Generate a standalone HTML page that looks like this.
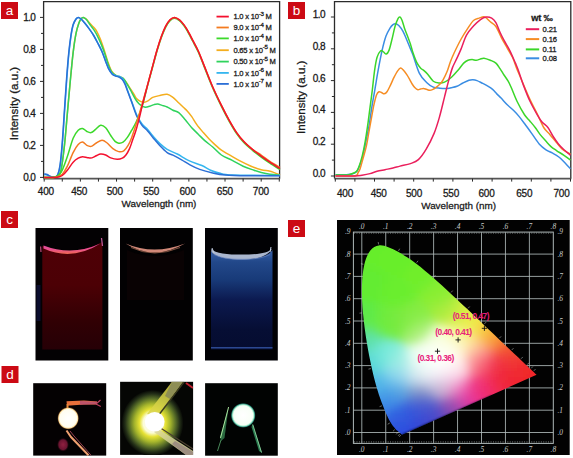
<!DOCTYPE html>
<html><head><meta charset="utf-8"><style>
html,body{margin:0;padding:0;background:#fff;width:573px;height:458px;overflow:hidden}
svg{display:block}

</style></head><body>
<svg width="573" height="458" viewBox="0 0 573 458" style="position:absolute;left:0;top:0" font-family='"Liberation Sans", sans-serif'>
<rect width="573" height="458" fill="#fff"/>
<style>.ct text{stroke:#1a1a1a;stroke-width:0.28px}</style>
<rect x="1" y="2" width="17" height="17" fill="#cc0a14"/>
<text x="9.5" y="15" font-size="13.5" fill="#fff" text-anchor="middle">a</text>
<rect x="288" y="2" width="17" height="17" fill="#cc0a14"/>
<text x="296.5" y="15" font-size="13.5" fill="#fff" text-anchor="middle">b</text>
<rect x="1" y="211" width="17" height="17" fill="#cc0a14"/>
<text x="9.5" y="224" font-size="13.5" fill="#fff" text-anchor="middle">c</text>
<rect x="1.5" y="366" width="17" height="17" fill="#cc0a14"/>
<text x="10.0" y="379" font-size="13.5" fill="#fff" text-anchor="middle">d</text>
<rect x="288" y="220" width="17" height="17" fill="#cc0a14"/>
<text x="296.5" y="233" font-size="13.5" fill="#fff" text-anchor="middle">e</text>
<g class="ct">
<path d="M43.6,178.6 V1.6 H279.6 V178.6" fill="none" stroke="#2b2b2b" stroke-width="1.3"/>
<line x1="43.5" y1="178.6" x2="280.1" y2="178.6" stroke="#555" stroke-width="1.8"/>
<line x1="40" y1="177.4" x2="44" y2="177.4" stroke="#2b2b2b" stroke-width="1"/>
<text x="35.4" y="181.0" font-size="10" fill="#1a1a1a" text-anchor="end" letter-spacing="-0.55">0.0</text>
<line x1="41" y1="161.4" x2="44" y2="161.4" stroke="#2b2b2b" stroke-width="1"/>
<line x1="40" y1="145.4" x2="44" y2="145.4" stroke="#2b2b2b" stroke-width="1"/>
<text x="35.4" y="149.0" font-size="10" fill="#1a1a1a" text-anchor="end" letter-spacing="-0.55">0.2</text>
<line x1="41" y1="129.4" x2="44" y2="129.4" stroke="#2b2b2b" stroke-width="1"/>
<line x1="40" y1="113.4" x2="44" y2="113.4" stroke="#2b2b2b" stroke-width="1"/>
<text x="35.4" y="117.0" font-size="10" fill="#1a1a1a" text-anchor="end" letter-spacing="-0.55">0.4</text>
<line x1="41" y1="97.4" x2="44" y2="97.4" stroke="#2b2b2b" stroke-width="1"/>
<line x1="40" y1="81.4" x2="44" y2="81.4" stroke="#2b2b2b" stroke-width="1"/>
<text x="35.4" y="85.0" font-size="10" fill="#1a1a1a" text-anchor="end" letter-spacing="-0.55">0.6</text>
<line x1="41" y1="65.4" x2="44" y2="65.4" stroke="#2b2b2b" stroke-width="1"/>
<line x1="40" y1="49.4" x2="44" y2="49.4" stroke="#2b2b2b" stroke-width="1"/>
<text x="35.4" y="53.0" font-size="10" fill="#1a1a1a" text-anchor="end" letter-spacing="-0.55">0.8</text>
<line x1="41" y1="33.4" x2="44" y2="33.4" stroke="#2b2b2b" stroke-width="1"/>
<line x1="40" y1="17.4" x2="44" y2="17.4" stroke="#2b2b2b" stroke-width="1"/>
<text x="35.4" y="21.0" font-size="10" fill="#1a1a1a" text-anchor="end" letter-spacing="-0.55">1.0</text>
<line x1="44.2" y1="178.6" x2="44.2" y2="181.6" stroke="#2b2b2b" stroke-width="1"/>
<line x1="62.28" y1="178.6" x2="62.28" y2="181.6" stroke="#2b2b2b" stroke-width="1"/>
<line x1="80.37" y1="178.6" x2="80.37" y2="181.6" stroke="#2b2b2b" stroke-width="1"/>
<line x1="98.45" y1="178.6" x2="98.45" y2="181.6" stroke="#2b2b2b" stroke-width="1"/>
<line x1="116.53" y1="178.6" x2="116.53" y2="181.6" stroke="#2b2b2b" stroke-width="1"/>
<line x1="134.61" y1="178.6" x2="134.61" y2="181.6" stroke="#2b2b2b" stroke-width="1"/>
<line x1="152.69" y1="178.6" x2="152.69" y2="181.6" stroke="#2b2b2b" stroke-width="1"/>
<line x1="170.78" y1="178.6" x2="170.78" y2="181.6" stroke="#2b2b2b" stroke-width="1"/>
<line x1="188.86" y1="178.6" x2="188.86" y2="181.6" stroke="#2b2b2b" stroke-width="1"/>
<line x1="206.94" y1="178.6" x2="206.94" y2="181.6" stroke="#2b2b2b" stroke-width="1"/>
<line x1="225.03" y1="178.6" x2="225.03" y2="181.6" stroke="#2b2b2b" stroke-width="1"/>
<line x1="243.11" y1="178.6" x2="243.11" y2="181.6" stroke="#2b2b2b" stroke-width="1"/>
<line x1="261.19" y1="178.6" x2="261.19" y2="181.6" stroke="#2b2b2b" stroke-width="1"/>
<line x1="279.27" y1="178.6" x2="279.27" y2="181.6" stroke="#2b2b2b" stroke-width="1"/>
<text x="45.9" y="194.79999999999998" font-size="10" fill="#1a1a1a" text-anchor="middle" letter-spacing="-0.2">400</text>
<text x="79.2" y="194.79999999999998" font-size="10" fill="#1a1a1a" text-anchor="middle" letter-spacing="-0.2">450</text>
<text x="114.8" y="194.79999999999998" font-size="10" fill="#1a1a1a" text-anchor="middle" letter-spacing="-0.2">500</text>
<text x="151.2" y="194.79999999999998" font-size="10" fill="#1a1a1a" text-anchor="middle" letter-spacing="-0.2">550</text>
<text x="187.5" y="194.79999999999998" font-size="10" fill="#1a1a1a" text-anchor="middle" letter-spacing="-0.2">600</text>
<text x="224.9" y="194.79999999999998" font-size="10" fill="#1a1a1a" text-anchor="middle" letter-spacing="-0.2">650</text>
<text x="260.9" y="194.79999999999998" font-size="10" fill="#1a1a1a" text-anchor="middle" letter-spacing="-0.2">700</text>
<text transform="translate(17.7,103.5) rotate(-90)" x="0" y="0" font-size="11.6" fill="#1a1a1a" text-anchor="middle">Intensity (a.u.)</text>
<text x="159" y="207.1" font-size="9.9" fill="#1a1a1a" text-anchor="middle">Wavelength (nm)</text>
<path d="M44.20,177.40C45.65,177.40 50.71,177.53 52.88,177.40C55.05,177.27 55.89,177.67 57.22,176.60C58.55,175.53 59.63,176.20 60.84,171.00C62.04,165.80 63.37,155.00 64.45,145.40C65.54,135.80 66.38,124.07 67.35,113.40C68.31,102.73 69.27,91.53 70.24,81.40C71.20,71.27 72.17,60.60 73.13,52.60C74.10,44.60 75.06,38.33 76.03,33.40C76.99,28.47 78.07,25.45 78.92,23.00C79.76,20.55 80.37,19.61 81.09,18.68C81.81,17.75 82.41,17.35 83.26,17.40C84.10,17.45 84.95,17.88 86.15,19.00C87.36,20.12 89.17,22.65 90.49,24.12C91.82,25.59 93.02,26.52 94.11,27.80C95.19,29.08 95.92,29.80 97.00,31.80C98.09,33.80 99.41,36.73 100.62,39.80C101.82,42.87 103.03,46.52 104.23,50.20C105.44,53.88 106.64,58.41 107.85,61.88C109.06,65.35 110.14,68.76 111.47,71.00C112.79,73.24 114.36,74.33 115.81,75.32C117.25,76.31 118.94,76.44 120.15,76.92C121.35,77.40 121.95,77.19 123.04,78.20C124.12,79.21 125.45,81.27 126.66,83.00C127.86,84.73 129.07,86.73 130.27,88.60C131.48,90.47 132.80,92.49 133.89,94.20C134.97,95.91 135.70,97.64 136.78,98.84C137.87,100.04 139.19,100.81 140.40,101.40C141.60,101.99 142.69,102.49 144.02,102.36C145.34,102.23 146.91,101.43 148.36,100.60C149.80,99.77 150.77,98.25 152.69,97.40C154.62,96.55 157.52,95.99 159.93,95.48C162.34,94.97 164.99,94.04 167.16,94.36C169.33,94.68 171.14,96.09 172.95,97.40C174.76,98.71 176.32,100.60 178.01,102.20C179.70,103.80 181.51,105.51 183.07,107.00C184.64,108.49 185.97,109.56 187.41,111.16C188.86,112.76 190.19,114.36 191.75,116.60C193.32,118.84 194.89,121.93 196.82,124.60C198.75,127.27 201.28,130.20 203.33,132.60C205.38,135.00 207.18,137.00 209.11,139.00C211.04,141.00 212.85,142.73 214.90,144.60C216.95,146.47 218.64,148.28 221.41,150.20C224.18,152.12 228.28,154.25 231.53,156.12C234.79,157.99 237.68,159.72 240.94,161.40C244.19,163.08 247.69,164.81 251.06,166.20C254.44,167.59 258.18,168.92 261.19,169.72C264.20,170.52 266.98,170.52 269.15,171.00C271.32,171.48 272.40,171.93 274.21,172.60C276.02,173.27 279.03,174.60 280.00,175.00" fill="none" stroke="#f4ae1e" stroke-width="1.5" stroke-linejoin="round"/>
<path d="M44.20,177.40C45.65,177.40 50.71,177.53 52.88,177.40C55.05,177.27 55.89,177.67 57.22,176.60C58.55,175.53 59.63,176.20 60.84,171.00C62.04,165.80 63.37,155.00 64.45,145.40C65.54,135.80 66.38,124.07 67.35,113.40C68.31,102.73 69.27,91.53 70.24,81.40C71.20,71.27 72.17,60.60 73.13,52.60C74.10,44.60 75.06,38.33 76.03,33.40C76.99,28.47 78.07,25.45 78.92,23.00C79.76,20.55 80.37,19.61 81.09,18.68C81.81,17.75 82.41,17.29 83.26,17.40C84.10,17.51 84.95,17.99 86.15,19.32C87.36,20.65 89.17,23.59 90.49,25.40C91.82,27.21 92.90,28.33 94.11,30.20C95.31,32.07 96.52,34.20 97.72,36.60C98.93,39.00 100.14,41.67 101.34,44.60C102.55,47.53 103.75,50.73 104.96,54.20C106.16,57.67 107.37,62.33 108.57,65.40C109.78,68.47 110.86,70.87 112.19,72.60C113.52,74.33 115.08,75.00 116.53,75.80C117.98,76.60 119.66,76.87 120.87,77.40C122.08,77.93 122.68,77.80 123.76,79.00C124.85,80.20 126.17,82.60 127.38,84.60C128.59,86.60 129.67,88.60 131.00,91.00C132.32,93.40 134.01,96.87 135.34,99.00C136.66,101.13 137.75,102.60 138.95,103.80C140.16,105.00 141.48,105.64 142.57,106.20C143.65,106.76 144.26,107.16 145.46,107.16C146.67,107.16 148.36,106.63 149.80,106.20C151.25,105.77 152.82,104.95 154.14,104.60C155.47,104.25 156.43,103.99 157.76,104.12C159.08,104.25 160.53,104.92 162.10,105.40C163.67,105.88 165.35,106.20 167.16,107.00C168.97,107.80 171.02,109.27 172.95,110.20C174.88,111.13 176.68,111.00 178.73,112.60C180.78,114.20 183.07,117.27 185.24,119.80C187.41,122.33 189.58,125.40 191.75,127.80C193.92,130.20 196.09,132.07 198.26,134.20C200.43,136.33 202.36,138.47 204.77,140.60C207.18,142.73 209.96,144.60 212.73,147.00C215.50,149.40 218.15,152.76 221.41,155.00C224.66,157.24 228.64,158.57 232.26,160.44C235.87,162.31 239.49,164.57 243.11,166.20C246.72,167.83 250.94,169.16 253.96,170.20C256.97,171.24 258.54,171.77 261.19,172.44C263.84,173.11 266.74,173.77 269.87,174.20C273.00,174.63 278.31,174.87 280.00,175.00" fill="none" stroke="#2fd35c" stroke-width="1.5" stroke-linejoin="round"/>
<path d="M44.20,174.52C44.68,174.60 46.13,174.68 47.09,175.00C48.06,175.32 49.02,176.12 49.99,176.44C50.95,176.76 51.92,176.87 52.88,176.92C53.84,176.97 54.93,177.16 55.77,176.76C56.62,176.36 57.22,176.28 57.94,174.52C58.67,172.76 59.39,171.05 60.11,166.20C60.84,161.35 61.56,154.20 62.28,145.40C63.01,136.60 63.73,124.07 64.45,113.40C65.18,102.73 65.90,91.27 66.62,81.40C67.35,71.53 68.07,61.67 68.79,54.20C69.52,46.73 70.24,41.40 70.96,36.60C71.69,31.80 72.29,28.33 73.13,25.40C73.98,22.47 75.12,20.33 76.03,19.00C76.93,17.67 77.71,17.40 78.56,17.40C79.40,17.40 80.06,18.07 81.09,19.00C82.11,19.93 83.38,21.40 84.70,23.00C86.03,24.60 87.60,26.60 89.04,28.60C90.49,30.60 91.94,32.60 93.38,35.00C94.83,37.40 96.28,40.20 97.72,43.00C99.17,45.80 100.74,48.73 102.06,51.80C103.39,54.87 104.60,58.60 105.68,61.40C106.77,64.20 107.49,66.55 108.57,68.60C109.66,70.65 110.98,72.55 112.19,73.72C113.40,74.89 114.60,75.21 115.81,75.64C117.01,76.07 118.34,75.85 119.42,76.28C120.51,76.71 121.35,76.95 122.32,78.20C123.28,79.45 124.25,81.53 125.21,83.80C126.17,86.07 127.02,88.87 128.10,91.80C129.19,94.73 130.27,97.53 131.72,101.40C133.17,105.27 135.09,111.27 136.78,115.00C138.47,118.73 140.04,121.40 141.85,123.80C143.65,126.20 145.70,127.27 147.63,129.40C149.56,131.53 151.37,134.23 153.42,136.60C155.47,138.97 157.64,141.51 159.93,143.64C162.22,145.77 164.27,147.67 167.16,149.40C170.05,151.13 173.67,152.17 177.29,154.04C180.90,155.91 184.76,158.68 188.86,160.60C192.96,162.52 198.26,163.96 201.88,165.56C205.50,167.16 207.67,168.96 210.56,170.20C213.45,171.44 215.62,172.20 219.24,173.00C222.86,173.80 222.13,174.59 232.26,175.00C242.38,175.41 272.04,175.40 280.00,175.48" fill="none" stroke="#35b6ef" stroke-width="1.5" stroke-linejoin="round"/>
<path d="M44.20,173.88C44.68,173.99 46.13,174.15 47.09,174.52C48.06,174.89 49.02,175.72 49.99,176.12C50.95,176.52 51.92,176.81 52.88,176.92C53.84,177.03 54.93,177.21 55.77,176.76C56.62,176.31 57.22,176.23 57.94,174.20C58.67,172.17 59.39,169.93 60.11,164.60C60.84,159.27 61.56,151.27 62.28,142.20C63.01,133.13 63.73,120.87 64.45,110.20C65.18,99.53 65.90,87.80 66.62,78.20C67.35,68.60 68.07,59.80 68.79,52.60C69.52,45.40 70.24,39.67 70.96,35.00C71.69,30.33 72.29,27.27 73.13,24.60C73.98,21.93 75.18,20.20 76.03,19.00C76.87,17.80 77.35,17.40 78.20,17.40C79.04,17.40 80.00,18.07 81.09,19.00C82.17,19.93 83.38,21.40 84.70,23.00C86.03,24.60 87.60,26.60 89.04,28.60C90.49,30.60 91.94,32.60 93.38,35.00C94.83,37.40 96.28,40.20 97.72,43.00C99.17,45.80 100.74,48.73 102.06,51.80C103.39,54.87 104.60,58.60 105.68,61.40C106.77,64.20 107.49,66.47 108.57,68.60C109.66,70.73 110.98,72.95 112.19,74.20C113.40,75.45 114.60,75.61 115.81,76.12C117.01,76.63 118.34,76.68 119.42,77.24C120.51,77.80 121.35,78.25 122.32,79.48C123.28,80.71 124.25,82.41 125.21,84.60C126.17,86.79 127.02,89.64 128.10,92.60C129.19,95.56 130.27,98.41 131.72,102.36C133.17,106.31 135.09,112.49 136.78,116.28C138.47,120.07 140.04,122.63 141.85,125.08C143.65,127.53 145.70,128.81 147.63,131.00C149.56,133.19 151.37,135.75 153.42,138.20C155.47,140.65 157.64,143.32 159.93,145.72C162.22,148.12 164.99,151.03 167.16,152.60C169.33,154.17 170.54,153.96 172.95,155.16C175.36,156.36 178.85,158.23 181.63,159.80C184.40,161.37 186.57,163.00 189.58,164.60C192.60,166.20 195.85,168.00 199.71,169.40C203.57,170.80 208.51,172.07 212.73,173.00C216.95,173.93 219.36,174.53 225.03,175.00C230.69,175.47 237.56,175.67 246.72,175.80C255.89,175.93 274.45,175.80 280.00,175.80" fill="none" stroke="#2b6fd6" stroke-width="1.5" stroke-linejoin="round"/>
<path d="M44.20,177.40C45.41,177.40 49.62,177.51 51.43,177.40C53.24,177.29 53.84,177.16 55.05,176.76C56.26,176.36 57.46,176.09 58.67,175.00C59.87,173.91 60.84,173.27 62.28,170.20C63.73,167.13 65.54,161.93 67.35,156.60C69.15,151.27 71.32,142.60 73.13,138.20C74.94,133.80 76.63,131.83 78.20,130.20C79.76,128.57 81.09,128.23 82.53,128.44C83.98,128.65 85.43,130.79 86.87,131.48C88.32,132.17 89.77,132.95 91.21,132.60C92.66,132.25 93.99,130.63 95.55,129.40C97.12,128.17 98.93,125.51 100.62,125.24C102.31,124.97 103.99,126.09 105.68,127.80C107.37,129.51 109.18,133.21 110.74,135.48C112.31,137.75 113.76,140.12 115.08,141.40C116.41,142.68 117.37,143.03 118.70,143.16C120.03,143.29 121.59,143.16 123.04,142.20C124.49,141.24 125.93,139.40 127.38,137.40C128.83,135.40 130.27,132.73 131.72,130.20C133.17,127.67 134.73,125.00 136.06,122.20C137.39,119.40 138.47,116.73 139.68,113.40C140.88,110.07 141.97,106.87 143.29,102.20C144.62,97.53 146.19,90.84 147.63,85.40C149.08,79.96 150.40,75.29 151.97,69.56C153.54,63.83 155.47,56.33 157.03,51.00C158.60,45.67 159.93,41.53 161.37,37.56C162.82,33.59 164.27,29.96 165.71,27.16C167.16,24.36 168.61,22.23 170.05,20.76C171.50,19.29 172.83,18.36 174.39,18.36C175.96,18.36 177.89,19.56 179.46,20.76C181.02,21.96 182.47,23.83 183.80,25.56C185.12,27.29 185.97,28.63 187.41,31.16C188.86,33.69 190.67,37.29 192.48,40.76C194.28,44.23 196.33,47.69 198.26,51.96C200.19,56.23 201.64,60.36 204.05,66.36C206.46,72.36 209.84,81.29 212.73,87.96C215.62,94.63 218.64,100.76 221.41,106.36C224.18,111.96 226.83,117.03 229.36,121.56C231.90,126.09 234.19,130.07 236.60,133.56C239.01,137.05 241.18,139.72 243.83,142.52C246.48,145.32 249.62,147.93 252.51,150.36C255.40,152.79 258.30,154.95 261.19,157.08C264.08,159.21 266.74,161.08 269.87,163.16C273.00,165.24 278.31,168.49 280.00,169.56" fill="none" stroke="#3cd92b" stroke-width="1.5" stroke-linejoin="round"/>
<path d="M44.20,177.40C45.77,177.40 51.43,177.51 53.60,177.40C55.77,177.29 55.77,177.29 57.22,176.76C58.67,176.23 60.59,175.96 62.28,174.20C63.97,172.44 65.54,169.80 67.35,166.20C69.15,162.60 71.32,156.20 73.13,152.60C74.94,149.00 76.63,146.36 78.20,144.60C79.76,142.84 81.09,141.91 82.53,142.04C83.98,142.17 85.43,144.68 86.87,145.40C88.32,146.12 89.65,146.76 91.21,146.36C92.78,145.96 94.47,144.01 96.28,143.00C98.09,141.99 100.26,140.28 102.06,140.28C103.87,140.28 105.32,141.61 107.13,143.00C108.94,144.39 110.98,147.16 112.91,148.60C114.84,150.04 116.89,151.27 118.70,151.64C120.51,152.01 122.20,151.88 123.76,150.84C125.33,149.80 126.78,147.64 128.10,145.40C129.43,143.16 130.39,140.87 131.72,137.40C133.05,133.93 134.61,129.13 136.06,124.60C137.51,120.07 139.07,114.73 140.40,110.20C141.72,105.67 142.81,101.67 144.02,97.40C145.22,93.13 146.31,89.40 147.63,84.60C148.96,79.80 150.40,74.36 151.97,68.60C153.54,62.84 155.47,55.37 157.03,50.04C158.60,44.71 159.93,40.57 161.37,36.60C162.82,32.63 164.27,29.00 165.71,26.20C167.16,23.40 168.61,21.27 170.05,19.80C171.50,18.33 172.83,17.40 174.39,17.40C175.96,17.40 177.89,18.60 179.46,19.80C181.02,21.00 182.47,22.87 183.80,24.60C185.12,26.33 185.97,27.67 187.41,30.20C188.86,32.73 190.67,36.33 192.48,39.80C194.28,43.27 196.33,46.73 198.26,51.00C200.19,55.27 201.64,59.40 204.05,65.40C206.46,71.40 209.84,80.33 212.73,87.00C215.62,93.67 218.64,99.80 221.41,105.40C224.18,111.00 226.83,116.07 229.36,120.60C231.90,125.13 234.19,129.11 236.60,132.60C239.01,136.09 241.18,138.76 243.83,141.56C246.48,144.36 249.62,147.16 252.51,149.40C255.40,151.64 258.30,153.00 261.19,155.00C264.08,157.00 266.74,159.32 269.87,161.40C273.00,163.48 278.31,166.47 280.00,167.48" fill="none" stroke="#f47b20" stroke-width="1.5" stroke-linejoin="round"/>
<path d="M44.20,177.40C46.01,177.40 52.64,177.48 55.05,177.40C57.46,177.32 57.46,177.24 58.67,176.92C59.87,176.60 60.84,176.60 62.28,175.48C63.73,174.36 65.54,172.41 67.35,170.20C69.15,167.99 71.32,164.20 73.13,162.20C74.94,160.20 76.63,159.11 78.20,158.20C79.76,157.29 80.97,156.84 82.53,156.76C84.10,156.68 86.03,157.53 87.60,157.72C89.17,157.91 90.49,158.20 91.94,157.88C93.38,157.56 94.83,156.44 96.28,155.80C97.72,155.16 99.05,154.17 100.62,154.04C102.18,153.91 103.99,154.36 105.68,155.00C107.37,155.64 108.81,157.16 110.74,157.88C112.67,158.60 115.32,159.27 117.25,159.32C119.18,159.37 120.87,158.92 122.32,158.20C123.76,157.48 124.73,156.60 125.93,155.00C127.14,153.40 128.46,151.00 129.55,148.60C130.63,146.20 131.36,143.69 132.44,140.60C133.53,137.51 134.85,134.04 136.06,130.04C137.26,126.04 138.59,120.92 139.68,116.60C140.76,112.28 141.24,109.40 142.57,104.12C143.89,98.84 146.06,90.84 147.63,84.92C149.20,79.00 150.40,74.41 151.97,68.60C153.54,62.79 155.47,55.37 157.03,50.04C158.60,44.71 159.93,40.57 161.37,36.60C162.82,32.63 164.27,29.00 165.71,26.20C167.16,23.40 168.61,21.27 170.05,19.80C171.50,18.33 172.83,17.40 174.39,17.40C175.96,17.40 177.89,18.60 179.46,19.80C181.02,21.00 182.47,22.87 183.80,24.60C185.12,26.33 185.97,27.67 187.41,30.20C188.86,32.73 190.67,36.33 192.48,39.80C194.28,43.27 196.33,46.73 198.26,51.00C200.19,55.27 201.64,59.40 204.05,65.40C206.46,71.40 209.84,80.33 212.73,87.00C215.62,93.67 218.64,99.80 221.41,105.40C224.18,111.00 226.83,116.07 229.36,120.60C231.90,125.13 234.19,129.11 236.60,132.60C239.01,136.09 241.18,138.76 243.83,141.56C246.48,144.36 249.62,146.97 252.51,149.40C255.40,151.83 258.30,153.99 261.19,156.12C264.08,158.25 266.74,160.12 269.87,162.20C273.00,164.28 278.31,167.53 280.00,168.60" fill="none" stroke="#f4102e" stroke-width="1.5" stroke-linejoin="round"/>
<line x1="216.5" y1="16.6" x2="228.8" y2="16.6" stroke="#f4102e" stroke-width="1.8"/>
<text x="233.4" y="19.3" font-size="7.6" fill="#1a1a1a" letter-spacing="-0.22">1.0 x 10<tspan dy="-3.6" font-size="6.2">-3</tspan><tspan dy="3.6"> M</tspan></text>
<line x1="216.5" y1="27.5" x2="228.8" y2="27.5" stroke="#f47b20" stroke-width="1.8"/>
<text x="233.4" y="30.2" font-size="7.6" fill="#1a1a1a" letter-spacing="-0.22">9.0 x 10<tspan dy="-3.6" font-size="6.2">-4</tspan><tspan dy="3.6"> M</tspan></text>
<line x1="216.5" y1="38.4" x2="228.8" y2="38.4" stroke="#3cd92b" stroke-width="1.8"/>
<text x="233.4" y="41.1" font-size="7.6" fill="#1a1a1a" letter-spacing="-0.22">1.0 x 10<tspan dy="-3.6" font-size="6.2">-4</tspan><tspan dy="3.6"> M</tspan></text>
<line x1="216.5" y1="50.2" x2="228.8" y2="50.2" stroke="#f4ae1e" stroke-width="1.8"/>
<text x="233.4" y="52.900000000000006" font-size="7.6" fill="#1a1a1a" letter-spacing="-0.22">0.65 x 10<tspan dy="-3.6" font-size="6.2">-5</tspan><tspan dy="3.6"> M</tspan></text>
<line x1="216.5" y1="61.6" x2="228.8" y2="61.6" stroke="#2fd35c" stroke-width="1.8"/>
<text x="233.4" y="64.3" font-size="7.6" fill="#1a1a1a" letter-spacing="-0.22">0.50 x 10<tspan dy="-3.6" font-size="6.2">-5</tspan><tspan dy="3.6"> M</tspan></text>
<line x1="216.5" y1="72.9" x2="228.8" y2="72.9" stroke="#35b6ef" stroke-width="1.8"/>
<text x="233.4" y="75.60000000000001" font-size="7.6" fill="#1a1a1a" letter-spacing="-0.22">1.0 x 10<tspan dy="-3.6" font-size="6.2">-6</tspan><tspan dy="3.6"> M</tspan></text>
<line x1="216.5" y1="83.9" x2="228.8" y2="83.9" stroke="#2b6fd6" stroke-width="1.8"/>
<text x="233.4" y="86.60000000000001" font-size="7.6" fill="#1a1a1a" letter-spacing="-0.22">1.0 x 10<tspan dy="-3.6" font-size="6.2">-7</tspan><tspan dy="3.6"> M</tspan></text>
<path d="M334.5,178.6 V1.6 H570.8 V178.6" fill="none" stroke="#2b2b2b" stroke-width="1.3"/>
<line x1="334.4" y1="178.6" x2="571.3" y2="178.6" stroke="#555" stroke-width="1.8"/>
<line x1="330.9" y1="176.0" x2="334.9" y2="176.0" stroke="#2b2b2b" stroke-width="1"/>
<text x="325.09999999999997" y="176.9" font-size="10" fill="#1a1a1a" text-anchor="end" letter-spacing="-0.55">0.0</text>
<line x1="331.9" y1="160.1" x2="334.9" y2="160.1" stroke="#2b2b2b" stroke-width="1"/>
<line x1="330.9" y1="144.2" x2="334.9" y2="144.2" stroke="#2b2b2b" stroke-width="1"/>
<text x="325.09999999999997" y="145.1" font-size="10" fill="#1a1a1a" text-anchor="end" letter-spacing="-0.55">0.2</text>
<line x1="331.9" y1="128.3" x2="334.9" y2="128.3" stroke="#2b2b2b" stroke-width="1"/>
<line x1="330.9" y1="112.4" x2="334.9" y2="112.4" stroke="#2b2b2b" stroke-width="1"/>
<text x="325.09999999999997" y="113.3" font-size="10" fill="#1a1a1a" text-anchor="end" letter-spacing="-0.55">0.4</text>
<line x1="331.9" y1="96.5" x2="334.9" y2="96.5" stroke="#2b2b2b" stroke-width="1"/>
<line x1="330.9" y1="80.6" x2="334.9" y2="80.6" stroke="#2b2b2b" stroke-width="1"/>
<text x="325.09999999999997" y="81.49999999999999" font-size="10" fill="#1a1a1a" text-anchor="end" letter-spacing="-0.55">0.6</text>
<line x1="331.9" y1="64.7" x2="334.9" y2="64.7" stroke="#2b2b2b" stroke-width="1"/>
<line x1="330.9" y1="48.8" x2="334.9" y2="48.8" stroke="#2b2b2b" stroke-width="1"/>
<text x="325.09999999999997" y="49.699999999999996" font-size="10" fill="#1a1a1a" text-anchor="end" letter-spacing="-0.55">0.8</text>
<line x1="331.9" y1="32.9" x2="334.9" y2="32.9" stroke="#2b2b2b" stroke-width="1"/>
<line x1="330.9" y1="17.0" x2="334.9" y2="17.0" stroke="#2b2b2b" stroke-width="1"/>
<text x="325.09999999999997" y="17.900000000000002" font-size="10" fill="#1a1a1a" text-anchor="end" letter-spacing="-0.55">1.0</text>
<line x1="335.3" y1="178.6" x2="335.3" y2="181.6" stroke="#2b2b2b" stroke-width="1"/>
<line x1="354.9" y1="178.6" x2="354.9" y2="181.6" stroke="#2b2b2b" stroke-width="1"/>
<line x1="374.5" y1="178.6" x2="374.5" y2="181.6" stroke="#2b2b2b" stroke-width="1"/>
<line x1="394.1" y1="178.6" x2="394.1" y2="181.6" stroke="#2b2b2b" stroke-width="1"/>
<line x1="413.7" y1="178.6" x2="413.7" y2="181.6" stroke="#2b2b2b" stroke-width="1"/>
<line x1="433.3" y1="178.6" x2="433.3" y2="181.6" stroke="#2b2b2b" stroke-width="1"/>
<line x1="452.9" y1="178.6" x2="452.9" y2="181.6" stroke="#2b2b2b" stroke-width="1"/>
<line x1="472.5" y1="178.6" x2="472.5" y2="181.6" stroke="#2b2b2b" stroke-width="1"/>
<line x1="492.1" y1="178.6" x2="492.1" y2="181.6" stroke="#2b2b2b" stroke-width="1"/>
<line x1="511.7" y1="178.6" x2="511.7" y2="181.6" stroke="#2b2b2b" stroke-width="1"/>
<line x1="531.3" y1="178.6" x2="531.3" y2="181.6" stroke="#2b2b2b" stroke-width="1"/>
<line x1="550.9" y1="178.6" x2="550.9" y2="181.6" stroke="#2b2b2b" stroke-width="1"/>
<line x1="570.5" y1="178.6" x2="570.5" y2="181.6" stroke="#2b2b2b" stroke-width="1"/>
<text x="345" y="196.7" font-size="10" fill="#1a1a1a" text-anchor="middle" letter-spacing="-0.2">400</text>
<text x="378.7" y="196.7" font-size="10" fill="#1a1a1a" text-anchor="middle" letter-spacing="-0.2">450</text>
<text x="414" y="196.7" font-size="10" fill="#1a1a1a" text-anchor="middle" letter-spacing="-0.2">500</text>
<text x="451" y="196.7" font-size="10" fill="#1a1a1a" text-anchor="middle" letter-spacing="-0.2">550</text>
<text x="486.5" y="196.7" font-size="10" fill="#1a1a1a" text-anchor="middle" letter-spacing="-0.2">600</text>
<text x="524.3" y="196.7" font-size="10" fill="#1a1a1a" text-anchor="middle" letter-spacing="-0.2">650</text>
<text x="561.5" y="196.7" font-size="10" fill="#1a1a1a" text-anchor="middle" letter-spacing="-0.2">700</text>
<text transform="translate(305.2,97.3) rotate(-90)" x="0" y="0" font-size="11.6" fill="#1a1a1a" text-anchor="middle">Intensity (a.u.)</text>
<text x="458.6" y="208.8" font-size="9.9" fill="#1a1a1a" text-anchor="middle">Wavelength (nm)</text>
<path d="M335.50,174.73C337.08,174.73 342.25,174.83 345.00,174.73C347.75,174.62 350.00,174.68 352.00,174.09C354.00,173.51 355.67,172.77 357.00,171.23C358.33,169.69 359.00,167.52 360.00,164.87C361.00,162.22 362.00,159.30 363.00,155.33C364.00,151.35 365.02,145.79 366.00,141.02C366.98,136.25 367.90,132.54 368.90,126.71C369.90,120.88 371.02,112.14 372.00,106.04C372.98,99.95 373.80,95.97 374.80,90.14C375.80,84.31 376.78,77.68 378.00,71.06C379.22,64.43 380.77,56.22 382.10,50.39C383.43,44.56 384.68,39.79 386.00,36.08C387.32,32.37 388.83,30.04 390.00,28.13C391.17,26.22 392.05,25.37 393.00,24.63C393.95,23.89 394.70,23.49 395.70,23.68C396.70,23.86 397.78,24.47 399.00,25.75C400.22,27.02 401.75,29.06 403.00,31.31C404.25,33.56 405.27,36.34 406.50,39.26C407.73,42.17 409.32,46.18 410.40,48.80C411.48,51.42 411.52,50.95 413.00,55.00C414.48,59.06 417.08,68.60 419.30,73.13C421.52,77.66 423.97,79.86 426.30,82.19C428.63,84.52 431.02,86.11 433.30,87.12C435.58,88.13 437.90,87.99 440.00,88.23C442.10,88.47 444.07,88.63 445.90,88.55C447.73,88.47 449.15,88.13 451.00,87.75C452.85,87.38 455.00,87.12 457.00,86.32C459.00,85.53 461.00,83.99 463.00,82.98C465.00,81.98 467.33,80.81 469.00,80.28C470.67,79.75 471.67,79.75 473.00,79.81C474.33,79.86 475.52,80.07 477.00,80.60C478.48,81.13 480.23,82.14 481.90,82.98C483.57,83.83 485.22,84.63 487.00,85.69C488.78,86.75 490.93,87.94 492.60,89.34C494.27,90.75 495.58,92.66 497.00,94.11C498.42,95.57 499.43,96.37 501.10,98.09C502.77,99.81 504.87,102.33 507.00,104.45C509.13,106.57 511.90,108.82 513.90,110.81C515.90,112.80 517.23,114.25 519.00,116.38C520.77,118.50 522.33,120.61 524.50,123.53C526.67,126.45 529.52,130.42 532.00,133.87C534.48,137.31 537.07,141.55 539.40,144.20C541.73,146.85 543.87,148.31 546.00,149.76C548.13,151.22 550.45,152.02 552.20,152.94C553.95,153.87 555.08,154.40 556.50,155.33C557.92,156.26 559.12,157.05 560.70,158.51C562.28,159.97 564.37,162.35 566.00,164.07C567.63,165.80 569.75,168.05 570.50,168.84" fill="none" stroke="#3a8de3" stroke-width="1.5" stroke-linejoin="round"/>
<path d="M335.50,175.05C337.08,175.05 342.58,175.15 345.00,175.05C347.42,174.94 348.17,174.94 350.00,174.41C351.83,173.88 354.50,173.19 356.00,171.87C357.50,170.54 357.97,169.08 359.00,166.46C360.03,163.84 361.20,160.10 362.20,156.12C363.20,152.15 364.12,147.51 365.00,142.61C365.88,137.71 366.67,132.54 367.50,126.71C368.33,120.88 369.20,113.72 370.00,107.63C370.80,101.53 371.55,96.23 372.30,90.14C373.05,84.05 373.72,76.49 374.50,71.06C375.28,65.63 375.97,60.94 377.00,57.55C378.03,54.15 379.62,51.64 380.70,50.71C381.78,49.78 382.57,51.42 383.50,51.98C384.43,52.54 385.38,54.31 386.30,54.05C387.22,53.78 388.05,52.85 389.00,50.39C389.95,47.93 391.00,43.23 392.00,39.26C393.00,35.28 394.00,29.99 395.00,26.54C396.00,23.10 397.17,20.18 398.00,18.59C398.83,17.00 399.33,16.73 400.00,17.00C400.67,17.27 401.25,18.33 402.00,20.18C402.75,22.04 403.58,25.48 404.50,28.13C405.42,30.78 406.52,33.43 407.50,36.08C408.48,38.73 409.48,41.25 410.40,44.03C411.32,46.81 411.95,49.73 413.00,52.77C414.05,55.82 415.42,59.74 416.70,62.32C417.98,64.89 419.48,66.82 420.70,68.20C421.92,69.58 422.83,69.58 424.00,70.58C425.17,71.59 426.15,72.46 427.70,74.24C429.25,76.02 431.43,79.78 433.30,81.24C435.17,82.69 437.03,82.83 438.90,82.98C440.77,83.14 442.40,83.14 444.50,82.19C446.60,81.24 449.22,79.30 451.50,77.26C453.78,75.22 456.17,72.31 458.20,69.95C460.23,67.59 462.07,64.73 463.70,63.11C465.33,61.49 466.60,60.83 468.00,60.25C469.40,59.67 470.72,59.61 472.10,59.61C473.48,59.61 474.98,60.33 476.30,60.25C477.62,60.17 478.72,59.48 480.00,59.14C481.28,58.79 482.28,58.00 484.00,58.18C485.72,58.37 488.32,59.43 490.30,60.25C492.28,61.07 494.28,61.71 495.90,63.11C497.52,64.51 498.65,66.69 500.00,68.67C501.35,70.66 502.67,72.99 504.00,75.03C505.33,77.08 506.83,78.93 508.00,80.92C509.17,82.91 509.50,83.57 511.00,86.96C512.50,90.35 514.75,96.63 517.00,101.27C519.25,105.91 522.33,111.47 524.50,114.78C526.67,118.10 528.22,119.03 530.00,121.15C531.78,123.27 533.53,125.31 535.20,127.50C536.87,129.70 538.23,132.09 540.00,134.34C541.77,136.59 543.97,138.98 545.80,141.02C547.63,143.06 549.22,145.00 551.00,146.59C552.78,148.18 554.33,149.10 556.50,150.56C558.67,152.02 561.67,153.74 564.00,155.33C566.33,156.92 569.42,159.31 570.50,160.10" fill="none" stroke="#3bd629" stroke-width="1.5" stroke-linejoin="round"/>
<path d="M335.50,176.00C338.75,175.95 351.25,176.21 355.00,175.68C358.75,175.15 357.15,173.96 358.00,172.82C358.85,171.68 359.27,171.23 360.10,168.84C360.93,166.46 361.95,162.35 363.00,158.51C364.05,154.67 365.40,150.29 366.40,145.79C367.40,141.28 368.13,136.25 369.00,131.48C369.87,126.71 370.77,121.67 371.60,117.17C372.43,112.67 373.18,108.16 374.00,104.45C374.82,100.74 375.67,97.03 376.50,94.91C377.33,92.79 378.17,92.13 379.00,91.73C379.83,91.33 380.63,92.18 381.50,92.52C382.37,92.87 383.28,93.93 384.20,93.80C385.12,93.66 385.95,93.19 387.00,91.73C388.05,90.27 389.33,87.44 390.50,85.05C391.67,82.67 392.83,79.75 394.00,77.42C395.17,75.09 396.42,72.62 397.50,71.06C398.58,69.50 399.50,68.17 400.50,68.04C401.50,67.91 402.45,69.18 403.50,70.27C404.55,71.35 405.80,73.10 406.80,74.56C407.80,76.02 408.58,77.39 409.50,79.01C410.42,80.63 411.38,82.80 412.30,84.26C413.22,85.71 414.07,86.85 415.00,87.75C415.93,88.66 416.98,89.45 417.90,89.66C418.82,89.88 419.57,89.21 420.50,89.03C421.43,88.84 422.50,88.50 423.50,88.55C424.50,88.60 425.45,89.05 426.50,89.34C427.55,89.64 428.72,90.30 429.80,90.30C430.88,90.30 431.95,89.82 433.00,89.34C434.05,88.87 434.93,88.31 436.10,87.44C437.27,86.56 438.83,85.37 440.00,84.10C441.17,82.83 441.88,81.98 443.10,79.81C444.32,77.63 446.07,74.11 447.30,71.06C448.53,68.01 449.38,64.49 450.50,61.52C451.62,58.55 452.25,56.96 454.00,53.25C455.75,49.54 458.68,43.45 461.00,39.26C463.32,35.07 465.82,31.26 467.90,28.13C469.98,25.00 471.63,22.17 473.50,20.50C475.37,18.83 477.23,18.70 479.10,18.11C480.97,17.53 482.83,16.39 484.70,17.00C486.57,17.61 488.43,20.18 490.30,21.77C492.17,23.36 494.03,23.86 495.90,26.54C497.77,29.22 499.65,34.30 501.50,37.83C503.35,41.35 505.15,44.40 507.00,47.69C508.85,50.97 510.97,54.05 512.60,57.55C514.23,61.04 515.48,65.36 516.80,68.67C518.12,71.99 519.22,74.37 520.50,77.42C521.78,80.47 522.92,83.25 524.50,86.96C526.08,90.67 527.87,95.18 530.00,99.68C532.13,104.19 535.02,109.35 537.30,113.99C539.58,118.63 541.58,124.06 543.70,127.50C545.82,130.95 547.87,132.14 550.00,134.66C552.13,137.18 554.50,140.23 556.50,142.61C558.50,145.00 560.05,147.25 562.00,148.97C563.95,150.69 566.78,152.15 568.20,152.94C569.62,153.74 570.12,153.61 570.50,153.74" fill="none" stroke="#f68d24" stroke-width="1.5" stroke-linejoin="round"/>
<path d="M335.50,176.00C338.75,176.00 350.58,176.13 355.00,176.00C359.42,175.87 359.50,175.60 362.00,175.21C364.50,174.81 367.50,174.28 370.00,173.62C372.50,172.95 374.50,171.89 377.00,171.23C379.50,170.57 382.33,170.17 385.00,169.64C387.67,169.11 390.50,168.63 393.00,168.05C395.50,167.47 397.08,166.88 400.00,166.14C402.92,165.40 407.43,164.68 410.50,163.60C413.57,162.51 415.78,162.03 418.40,159.62C421.02,157.21 423.58,153.50 426.20,149.13C428.82,144.76 431.92,138.63 434.10,133.39C436.28,128.14 437.55,123.77 439.30,117.65C441.05,111.53 443.07,102.75 444.60,96.66C446.13,90.56 447.20,85.87 448.50,81.08C449.80,76.28 451.07,71.54 452.40,67.88C453.73,64.22 455.07,62.26 456.50,59.14C457.93,56.01 459.33,53.12 461.00,49.12C462.67,45.12 464.42,38.97 466.50,35.13C468.58,31.28 471.17,28.66 473.50,26.06C475.83,23.47 478.40,21.05 480.50,19.54C482.60,18.03 484.23,17.24 486.10,17.00C487.97,16.76 490.07,17.19 491.70,18.11C493.33,19.04 494.52,20.21 495.90,22.56C497.28,24.92 498.62,29.24 500.00,32.26C501.38,35.29 502.57,37.64 504.20,40.69C505.83,43.74 507.93,46.81 509.80,50.55C511.67,54.29 514.00,59.88 515.40,63.11C516.80,66.34 516.85,66.24 518.20,69.95C519.55,73.66 521.53,80.15 523.50,85.37C525.47,90.59 527.70,96.37 530.00,101.27C532.30,106.17 535.30,111.34 537.30,114.78C539.30,118.23 540.23,119.82 542.00,121.94C543.77,124.06 546.07,125.12 547.90,127.50C549.73,129.89 551.22,133.47 553.00,136.25C554.78,139.03 556.77,141.95 558.60,144.20C560.43,146.45 562.23,148.12 564.00,149.76C565.77,151.41 568.12,153.13 569.20,154.06C570.28,154.99 570.28,155.12 570.50,155.33" fill="none" stroke="#ea1f5c" stroke-width="1.5" stroke-linejoin="round"/>
<text x="542" y="21" font-size="9.3" font-weight="bold" fill="#1a1a1a" text-anchor="middle" letter-spacing="-0.2">wt ‰</text>
<line x1="525.8" y1="29.2" x2="539.2" y2="29.2" stroke="#ea1f5c" stroke-width="2"/>
<text x="542.6" y="32.0" font-size="7.6" fill="#1a1a1a" letter-spacing="-0.1">0.21</text>
<line x1="525.8" y1="39.1" x2="539.2" y2="39.1" stroke="#f68d24" stroke-width="2"/>
<text x="542.6" y="41.9" font-size="7.6" fill="#1a1a1a" letter-spacing="-0.1">0.16</text>
<line x1="525.8" y1="49.4" x2="539.2" y2="49.4" stroke="#3bd629" stroke-width="2"/>
<text x="542.6" y="52.199999999999996" font-size="7.6" fill="#1a1a1a" letter-spacing="-0.1">0.11</text>
<line x1="525.8" y1="58.3" x2="539.2" y2="58.3" stroke="#3a8de3" stroke-width="2"/>
<text x="542.6" y="61.099999999999994" font-size="7.6" fill="#1a1a1a" letter-spacing="-0.1">0.08</text>
</g>
<defs><linearGradient id="gc1" x1="0" y1="0" x2="0" y2="1"><stop offset="0" stop-color="#4e0006"/><stop offset="0.4" stop-color="#4c0005"/><stop offset="0.75" stop-color="#300004"/><stop offset="1" stop-color="#260006"/></linearGradient>
<linearGradient id="gc3" x1="0" y1="0" x2="0" y2="1"><stop offset="0" stop-color="#3a62aa"/><stop offset="0.12" stop-color="#22488a"/><stop offset="0.3" stop-color="#183a78"/><stop offset="0.5" stop-color="#0c1a50"/><stop offset="0.8" stop-color="#060e34"/><stop offset="1" stop-color="#050c30"/></linearGradient>
<linearGradient id="gm1" x1="0" y1="0" x2="0" y2="1"><stop offset="0" stop-color="#e048a8"/><stop offset="0.55" stop-color="#e85090"/><stop offset="1" stop-color="#f06850"/></linearGradient>
<radialGradient id="gd1"><stop offset="0" stop-color="#ffffff"/><stop offset="0.8" stop-color="#fffdf0"/><stop offset="0.9" stop-color="#fae0a0"/><stop offset="1" stop-color="#e08a40" stop-opacity="0.3"/></radialGradient>
<radialGradient id="gblob"><stop offset="0" stop-color="#902040"/><stop offset="0.7" stop-color="#6a1430"/><stop offset="1" stop-color="#2a0810" stop-opacity="0"/></radialGradient>
<radialGradient id="gd2"><stop offset="0" stop-color="#ffffff"/><stop offset="0.3" stop-color="#fcfcd8"/><stop offset="0.42" stop-color="#e6e234"/><stop offset="0.58" stop-color="#a4b42c"/><stop offset="0.74" stop-color="#5a7028"/><stop offset="0.88" stop-color="#243018"/><stop offset="1" stop-color="#050604"/></radialGradient>
<radialGradient id="gd3"><stop offset="0" stop-color="#ffffff"/><stop offset="0.76" stop-color="#f8fff6"/><stop offset="0.84" stop-color="#b0f0d0"/><stop offset="0.92" stop-color="#2a8a7a"/><stop offset="1" stop-color="#0a2820" stop-opacity="0"/></radialGradient></defs>
<rect x="35.5" y="228" width="72.8" height="132.5" fill="#030103"/>
<path d="M42.3,246 Q72,258 102.4,242 V349.5 H42.3 Z" fill="url(#gc1)"/>
<path d="M43.5,245.5 Q72,256.5 100.5,243.5 Q72,261.5 43.5,248.5 Z" fill="url(#gm1)"/>
<path d="M101.5,238 L102.5,246" stroke="#c05a9a" stroke-width="1.3"/>
<path d="M40.6,246.5 L41,252" stroke="#c04a7a" stroke-width="1.2"/>
<rect x="36.5" y="285" width="4" height="36" fill="#141a5a" opacity="0.5"/>
<rect x="120" y="228" width="72.8" height="132.5" fill="#020102"/>
<path d="M127,250 Q154,262 184,250 V300 H127 Z" fill="#0a0203" opacity="0.9"/>
<path d="M125.5,243.4 Q154,255.5 185,243.4 Q154,261.5 125.5,243.4 Z" fill="#d08878"/>
<path d="M131,247.5 Q154,258.5 180,247.5" fill="none" stroke="#e09070" stroke-width="0.8" opacity="0.7"/>
<rect x="205" y="228" width="72.8" height="132.5" fill="#010104"/>
<path d="M211,251 C215,257 228,259 241.6,259 C255,259 268,257 272.5,250 V349.5 H211 Z" fill="url(#gc3)"/>
<path d="M211.3,248.8 C215,254 228,254.6 241.6,254.6 C255,254.6 268,254 272.3,248.3 C268,257 255,259.6 241.6,259.6 C228,259.6 215,257 211.3,251.6 Z" fill="#aab6ce"/>
<path d="M214,254.5 C222,258.5 232,259.3 241.6,259.3 C252,259.3 262,258.5 270,254.5" fill="none" stroke="#6a86c4" stroke-width="0.8" opacity="0.8"/>
<path d="M212,248 L214,253 M271,247 L270,252" stroke="#c0cce0" stroke-width="1"/>
<line x1="211" y1="347.8" x2="272.5" y2="347.8" stroke="#3658aa" stroke-width="1.4" opacity="0.8"/>
<rect x="33.2" y="383.2" width="73" height="72.4" fill="#040102"/>
<path d="M66.5,401.2 L84,400.6 L97,401.5 L97,404.5 L84,404.6 L67,405.8 Z" fill="#e8703a"/>
<path d="M80,401 L97,401.8 L97,404.2 L80,404.8 Z" fill="#b85070" opacity="0.9"/>
<path d="M96,404 L100.5,400 M96,404 L100.8,406.5" stroke="#c04060" stroke-width="1.1"/>
<path d="M67.5,404 V409" stroke="#e88a3a" stroke-width="2"/>
<path d="M66.5,430.5 L71,437 L88.5,455.2" stroke="#f0a070" stroke-width="2" fill="none"/>
<path d="M70,431 L74,436 L91,455.2" stroke="#a84a5a" stroke-width="0.9" fill="none"/>
<ellipse cx="63" cy="444.7" rx="6" ry="7" fill="url(#gblob)"/>
<ellipse cx="68.2" cy="418.3" rx="10.6" ry="11" fill="url(#gd1)"/>
<rect x="120.1" y="381.8" width="73" height="73.1" fill="#050604"/>
<clipPath id="cd2"><rect x="120.1" y="381.8" width="73" height="73.1"/></clipPath>
<g clip-path="url(#cd2)">
<ellipse cx="152.5" cy="423" rx="31" ry="33" fill="url(#gd2)"/>
<path d="M147,414 L172,381.8 L183,381.8 L157,418 Z" fill="#d8d448" opacity="0.85"/>
<path d="M172,381.8 L183,381.8 L170,399 L165,396 Z" fill="#8a8a58" opacity="0.9"/>
<path d="M158,416 L184,382" stroke="#3a3a20" stroke-width="1.4"/>
<path d="M186,383 L193,388" stroke="#c02030" stroke-width="2"/>
<path d="M157,428 L193.1,451 L193.1,455 L186,455 L154,432 Z" fill="#d8d49a" opacity="0.85"/>
<path d="M175,441 L193.1,452 L193.1,455 L186,455 L172,444 Z" fill="#9a8a80" opacity="0.9"/>
<path d="M159,427 L193,449" stroke="#4a4030" stroke-width="1.2"/>
<circle cx="154.7" cy="421.7" r="9.8" fill="#ffffff"/>
</g>
<rect x="205.1" y="383.2" width="72.7" height="72.5" fill="#010302"/>
<path d="M228.6,407 L220,437 L221,441 L224.5,438 Z" fill="#2a6a40"/>
<path d="M228.6,407 L220.5,438" stroke="#b8f0a8" stroke-width="0.9"/>
<path d="M221,440 L217.5,451" stroke="#4a8a5a" stroke-width="1"/>
<path d="M252.5,424 L262,453 L259,451 L251.5,427 Z" fill="#2a7a50"/>
<path d="M252.8,424.5 L261.5,452.5" stroke="#a0e8b0" stroke-width="0.8"/>
<circle cx="243.2" cy="415.4" r="12.6" fill="url(#gd3)"/>
<rect x="337" y="220" width="232.7" height="235" fill="#020202"/>
<line x1="361.80" y1="232.1" x2="361.80" y2="443.4" stroke="#b0baba" stroke-width="0.85"/>
<line x1="385.74" y1="232.1" x2="385.74" y2="443.4" stroke="#b0baba" stroke-width="0.85"/>
<line x1="409.68" y1="232.1" x2="409.68" y2="443.4" stroke="#b0baba" stroke-width="0.85"/>
<line x1="433.62" y1="232.1" x2="433.62" y2="443.4" stroke="#b0baba" stroke-width="0.85"/>
<line x1="457.56" y1="232.1" x2="457.56" y2="443.4" stroke="#b0baba" stroke-width="0.85"/>
<line x1="481.50" y1="232.1" x2="481.50" y2="443.4" stroke="#b0baba" stroke-width="0.85"/>
<line x1="505.44" y1="232.1" x2="505.44" y2="443.4" stroke="#b0baba" stroke-width="0.85"/>
<line x1="529.38" y1="232.1" x2="529.38" y2="443.4" stroke="#b0baba" stroke-width="0.85"/>
<line x1="353.4" y1="432.50" x2="553.3" y2="432.50" stroke="#b0baba" stroke-width="0.85"/>
<line x1="353.4" y1="410.20" x2="553.3" y2="410.20" stroke="#b0baba" stroke-width="0.85"/>
<line x1="353.4" y1="387.90" x2="553.3" y2="387.90" stroke="#b0baba" stroke-width="0.85"/>
<line x1="353.4" y1="365.60" x2="553.3" y2="365.60" stroke="#b0baba" stroke-width="0.85"/>
<line x1="353.4" y1="343.30" x2="553.3" y2="343.30" stroke="#b0baba" stroke-width="0.85"/>
<line x1="353.4" y1="321.00" x2="553.3" y2="321.00" stroke="#b0baba" stroke-width="0.85"/>
<line x1="353.4" y1="298.70" x2="553.3" y2="298.70" stroke="#b0baba" stroke-width="0.85"/>
<line x1="353.4" y1="276.40" x2="553.3" y2="276.40" stroke="#b0baba" stroke-width="0.85"/>
<line x1="353.4" y1="254.10" x2="553.3" y2="254.10" stroke="#b0baba" stroke-width="0.85"/>
<rect x="353.4" y="232.1" width="199.9" height="211.3" fill="none" stroke="#b0baba" stroke-width="1"/>
<path d="M354.62,232.3v1.6M354.62,442.7v-1.6M357.01,232.3v1.6M357.01,442.7v-1.6M359.41,232.3v1.6M359.41,442.7v-1.6M361.80,232.3v1.6M361.80,442.7v-1.6M364.19,232.3v1.6M364.19,442.7v-1.6M366.59,232.3v1.6M366.59,442.7v-1.6M368.98,232.3v1.6M368.98,442.7v-1.6M371.38,232.3v1.6M371.38,442.7v-1.6M373.77,232.3v1.6M373.77,442.7v-1.6M376.16,232.3v1.6M376.16,442.7v-1.6M378.56,232.3v1.6M378.56,442.7v-1.6M380.95,232.3v1.6M380.95,442.7v-1.6M383.35,232.3v1.6M383.35,442.7v-1.6M385.74,232.3v1.6M385.74,442.7v-1.6M388.13,232.3v1.6M388.13,442.7v-1.6M390.53,232.3v1.6M390.53,442.7v-1.6M392.92,232.3v1.6M392.92,442.7v-1.6M395.32,232.3v1.6M395.32,442.7v-1.6M397.71,232.3v1.6M397.71,442.7v-1.6M400.10,232.3v1.6M400.10,442.7v-1.6M402.50,232.3v1.6M402.50,442.7v-1.6M404.89,232.3v1.6M404.89,442.7v-1.6M407.29,232.3v1.6M407.29,442.7v-1.6M409.68,232.3v1.6M409.68,442.7v-1.6M412.07,232.3v1.6M412.07,442.7v-1.6M414.47,232.3v1.6M414.47,442.7v-1.6M416.86,232.3v1.6M416.86,442.7v-1.6M419.26,232.3v1.6M419.26,442.7v-1.6M421.65,232.3v1.6M421.65,442.7v-1.6M424.04,232.3v1.6M424.04,442.7v-1.6M426.44,232.3v1.6M426.44,442.7v-1.6M428.83,232.3v1.6M428.83,442.7v-1.6M431.23,232.3v1.6M431.23,442.7v-1.6M433.62,232.3v1.6M433.62,442.7v-1.6M436.01,232.3v1.6M436.01,442.7v-1.6M438.41,232.3v1.6M438.41,442.7v-1.6M440.80,232.3v1.6M440.80,442.7v-1.6M443.20,232.3v1.6M443.20,442.7v-1.6M445.59,232.3v1.6M445.59,442.7v-1.6M447.98,232.3v1.6M447.98,442.7v-1.6M450.38,232.3v1.6M450.38,442.7v-1.6M452.77,232.3v1.6M452.77,442.7v-1.6M455.17,232.3v1.6M455.17,442.7v-1.6M457.56,232.3v1.6M457.56,442.7v-1.6M459.95,232.3v1.6M459.95,442.7v-1.6M462.35,232.3v1.6M462.35,442.7v-1.6M464.74,232.3v1.6M464.74,442.7v-1.6M467.14,232.3v1.6M467.14,442.7v-1.6M469.53,232.3v1.6M469.53,442.7v-1.6M471.92,232.3v1.6M471.92,442.7v-1.6M474.32,232.3v1.6M474.32,442.7v-1.6M476.71,232.3v1.6M476.71,442.7v-1.6M479.11,232.3v1.6M479.11,442.7v-1.6M481.50,232.3v1.6M481.50,442.7v-1.6M483.89,232.3v1.6M483.89,442.7v-1.6M486.29,232.3v1.6M486.29,442.7v-1.6M488.68,232.3v1.6M488.68,442.7v-1.6M491.08,232.3v1.6M491.08,442.7v-1.6M493.47,232.3v1.6M493.47,442.7v-1.6M495.86,232.3v1.6M495.86,442.7v-1.6M498.26,232.3v1.6M498.26,442.7v-1.6M500.65,232.3v1.6M500.65,442.7v-1.6M503.05,232.3v1.6M503.05,442.7v-1.6M505.44,232.3v1.6M505.44,442.7v-1.6M507.83,232.3v1.6M507.83,442.7v-1.6M510.23,232.3v1.6M510.23,442.7v-1.6M512.62,232.3v1.6M512.62,442.7v-1.6M515.02,232.3v1.6M515.02,442.7v-1.6M517.41,232.3v1.6M517.41,442.7v-1.6M519.80,232.3v1.6M519.80,442.7v-1.6M522.20,232.3v1.6M522.20,442.7v-1.6M524.59,232.3v1.6M524.59,442.7v-1.6M526.99,232.3v1.6M526.99,442.7v-1.6M529.38,232.3v1.6M529.38,442.7v-1.6M531.77,232.3v1.6M531.77,442.7v-1.6M534.17,232.3v1.6M534.17,442.7v-1.6M536.56,232.3v1.6M536.56,442.7v-1.6M538.96,232.3v1.6M538.96,442.7v-1.6M541.35,232.3v1.6M541.35,442.7v-1.6M543.74,232.3v1.6M543.74,442.7v-1.6M546.14,232.3v1.6M546.14,442.7v-1.6M548.53,232.3v1.6M548.53,442.7v-1.6M550.93,232.3v1.6M550.93,442.7v-1.6" stroke="#8a9090" stroke-width="0.6"/>
<text x="361.80" y="229" font-family='"Liberation Serif", serif' font-size="7.4" font-style="italic" fill="#c9cccc" text-anchor="middle">.0</text>
<text x="361.80" y="451.5" font-family='"Liberation Serif", serif' font-size="7.4" font-style="italic" fill="#c9cccc" text-anchor="middle">.0</text>
<text x="385.74" y="229" font-family='"Liberation Serif", serif' font-size="7.4" font-style="italic" fill="#c9cccc" text-anchor="middle">.1</text>
<text x="385.74" y="451.5" font-family='"Liberation Serif", serif' font-size="7.4" font-style="italic" fill="#c9cccc" text-anchor="middle">.1</text>
<text x="409.68" y="229" font-family='"Liberation Serif", serif' font-size="7.4" font-style="italic" fill="#c9cccc" text-anchor="middle">.2</text>
<text x="409.68" y="451.5" font-family='"Liberation Serif", serif' font-size="7.4" font-style="italic" fill="#c9cccc" text-anchor="middle">.2</text>
<text x="433.62" y="229" font-family='"Liberation Serif", serif' font-size="7.4" font-style="italic" fill="#c9cccc" text-anchor="middle">.3</text>
<text x="433.62" y="451.5" font-family='"Liberation Serif", serif' font-size="7.4" font-style="italic" fill="#c9cccc" text-anchor="middle">.3</text>
<text x="457.56" y="229" font-family='"Liberation Serif", serif' font-size="7.4" font-style="italic" fill="#c9cccc" text-anchor="middle">.4</text>
<text x="457.56" y="451.5" font-family='"Liberation Serif", serif' font-size="7.4" font-style="italic" fill="#c9cccc" text-anchor="middle">.4</text>
<text x="481.50" y="229" font-family='"Liberation Serif", serif' font-size="7.4" font-style="italic" fill="#c9cccc" text-anchor="middle">.5</text>
<text x="481.50" y="451.5" font-family='"Liberation Serif", serif' font-size="7.4" font-style="italic" fill="#c9cccc" text-anchor="middle">.5</text>
<text x="505.44" y="229" font-family='"Liberation Serif", serif' font-size="7.4" font-style="italic" fill="#c9cccc" text-anchor="middle">.6</text>
<text x="505.44" y="451.5" font-family='"Liberation Serif", serif' font-size="7.4" font-style="italic" fill="#c9cccc" text-anchor="middle">.6</text>
<text x="529.38" y="229" font-family='"Liberation Serif", serif' font-size="7.4" font-style="italic" fill="#c9cccc" text-anchor="middle">.7</text>
<text x="529.38" y="451.5" font-family='"Liberation Serif", serif' font-size="7.4" font-style="italic" fill="#c9cccc" text-anchor="middle">.7</text>
<text x="553.32" y="229" font-family='"Liberation Serif", serif' font-size="7.4" font-style="italic" fill="#c9cccc" text-anchor="middle">.8</text>
<text x="553.32" y="451.5" font-family='"Liberation Serif", serif' font-size="7.4" font-style="italic" fill="#c9cccc" text-anchor="middle">.8</text>
<text x="350.5" y="435.00" font-family='"Liberation Serif", serif' font-size="7.4" font-style="italic" fill="#c9cccc" text-anchor="end">.0</text>
<text x="557.5" y="435.00" font-family='"Liberation Serif", serif' font-size="7.4" font-style="italic" fill="#c9cccc">.0</text>
<text x="350.5" y="412.70" font-family='"Liberation Serif", serif' font-size="7.4" font-style="italic" fill="#c9cccc" text-anchor="end">.1</text>
<text x="557.5" y="412.70" font-family='"Liberation Serif", serif' font-size="7.4" font-style="italic" fill="#c9cccc">.1</text>
<text x="350.5" y="390.40" font-family='"Liberation Serif", serif' font-size="7.4" font-style="italic" fill="#c9cccc" text-anchor="end">.2</text>
<text x="557.5" y="390.40" font-family='"Liberation Serif", serif' font-size="7.4" font-style="italic" fill="#c9cccc">.2</text>
<text x="350.5" y="368.10" font-family='"Liberation Serif", serif' font-size="7.4" font-style="italic" fill="#c9cccc" text-anchor="end">.3</text>
<text x="557.5" y="368.10" font-family='"Liberation Serif", serif' font-size="7.4" font-style="italic" fill="#c9cccc">.3</text>
<text x="350.5" y="345.80" font-family='"Liberation Serif", serif' font-size="7.4" font-style="italic" fill="#c9cccc" text-anchor="end">.4</text>
<text x="557.5" y="345.80" font-family='"Liberation Serif", serif' font-size="7.4" font-style="italic" fill="#c9cccc">.4</text>
<text x="350.5" y="323.50" font-family='"Liberation Serif", serif' font-size="7.4" font-style="italic" fill="#c9cccc" text-anchor="end">.5</text>
<text x="557.5" y="323.50" font-family='"Liberation Serif", serif' font-size="7.4" font-style="italic" fill="#c9cccc">.5</text>
<text x="350.5" y="301.20" font-family='"Liberation Serif", serif' font-size="7.4" font-style="italic" fill="#c9cccc" text-anchor="end">.6</text>
<text x="557.5" y="301.20" font-family='"Liberation Serif", serif' font-size="7.4" font-style="italic" fill="#c9cccc">.6</text>
<text x="350.5" y="278.90" font-family='"Liberation Serif", serif' font-size="7.4" font-style="italic" fill="#c9cccc" text-anchor="end">.7</text>
<text x="557.5" y="278.90" font-family='"Liberation Serif", serif' font-size="7.4" font-style="italic" fill="#c9cccc">.7</text>
<text x="350.5" y="256.60" font-family='"Liberation Serif", serif' font-size="7.4" font-style="italic" fill="#c9cccc" text-anchor="end">.8</text>
<text x="557.5" y="256.60" font-family='"Liberation Serif", serif' font-size="7.4" font-style="italic" fill="#c9cccc">.8</text>
<text x="350.5" y="234.30" font-family='"Liberation Serif", serif' font-size="7.4" font-style="italic" fill="#c9cccc" text-anchor="end">.9</text>
<text x="557.5" y="234.30" font-family='"Liberation Serif", serif' font-size="7.4" font-style="italic" fill="#c9cccc">.9</text>
<clipPath id="hs"><path d="M402.49,434.60C402.31,434.52 401.79,434.36 401.43,434.13C401.08,433.89 400.67,433.48 400.36,433.21C400.05,432.95 399.88,432.81 399.57,432.55C399.26,432.29 398.89,432.00 398.49,431.66C398.09,431.32 397.65,430.98 397.15,430.52C396.65,430.06 396.09,429.58 395.47,428.92C394.86,428.27 394.23,427.66 393.44,426.59C392.64,425.53 391.74,424.29 390.71,422.51C389.68,420.73 388.55,418.74 387.24,415.89C385.93,413.04 384.49,409.75 382.86,405.42C381.23,401.09 379.28,396.07 377.45,389.90C375.62,383.73 373.67,376.44 371.87,368.38C370.07,360.32 368.11,350.78 366.63,341.52C365.14,332.26 363.75,322.04 362.96,312.84C362.18,303.63 361.71,294.33 361.93,286.27C362.16,278.22 362.93,270.48 364.33,264.50C365.72,258.53 367.90,253.58 370.31,250.40C372.72,247.22 375.78,245.97 378.79,245.43C381.79,244.89 385.13,246.10 388.34,247.16C391.55,248.22 394.90,250.10 398.04,251.79C401.18,253.49 404.19,255.38 407.18,257.34C410.17,259.30 413.06,261.39 415.97,263.57C418.87,265.75 421.76,268.06 424.63,270.41C427.51,272.77 430.35,275.23 433.20,277.72C436.06,280.20 438.90,282.76 441.75,285.34C444.60,287.92 447.47,290.55 450.32,293.19C453.17,295.82 456.01,298.50 458.84,301.15C461.68,303.81 464.52,306.48 467.32,309.12C470.11,311.76 472.90,314.40 475.62,316.99C478.35,319.58 481.06,322.16 483.69,324.66C486.33,327.16 488.92,329.63 491.43,332.01C493.93,334.38 496.38,336.70 498.70,338.90C501.02,341.10 503.27,343.25 505.33,345.22C507.40,347.19 509.30,348.98 511.10,350.70C512.91,352.41 514.63,354.05 516.18,355.51C517.73,356.97 519.12,358.28 520.39,359.48C521.67,360.69 522.79,361.77 523.82,362.74C524.84,363.72 525.73,364.57 526.55,365.35C527.36,366.12 528.07,366.78 528.72,367.40C529.38,368.02 529.94,368.56 530.47,369.07C531.01,369.58 531.49,370.04 531.93,370.46C532.37,370.88 532.77,371.26 533.13,371.60C533.49,371.94 533.81,372.23 534.09,372.49C534.37,372.75 534.53,372.91 534.80,373.17C535.08,373.44 535.47,373.80 535.76,374.09C536.06,374.37 536.44,374.73 536.58,374.86 Z"/></clipPath>
<filter id="bl" x="-5%" y="-5%" width="110%" height="110%"><feGaussianBlur stdDeviation="1.6"/></filter><filter id="bl2" x="-10%" y="-50%" width="120%" height="200%"><feGaussianBlur stdDeviation="0.8"/></filter>
<g clip-path="url(#hs)"><g filter="url(#bl)"><rect x="358" y="242" width="3.3" height="3.3" fill="#66ee2c"/><rect x="361" y="242" width="3.3" height="3.3" fill="#66ee2c"/><rect x="364" y="242" width="3.3" height="3.3" fill="#66ee2c"/><rect x="367" y="242" width="3.3" height="3.3" fill="#66ee2c"/><rect x="370" y="242" width="3.3" height="3.3" fill="#66ee2c"/><rect x="373" y="242" width="3.3" height="3.3" fill="#66ee2c"/><rect x="376" y="242" width="3.3" height="3.3" fill="#66ee2c"/><rect x="379" y="242" width="3.3" height="3.3" fill="#66ee2c"/><rect x="382" y="242" width="3.3" height="3.3" fill="#66ee2c"/><rect x="385" y="242" width="3.3" height="3.3" fill="#66ee2c"/><rect x="388" y="242" width="3.3" height="3.3" fill="#67ee2b"/><rect x="391" y="242" width="3.3" height="3.3" fill="#67ee2b"/><rect x="394" y="242" width="3.3" height="3.3" fill="#67ee2b"/><rect x="397" y="242" width="3.3" height="3.3" fill="#68ee2a"/><rect x="400" y="242" width="3.3" height="3.3" fill="#68ee2a"/><rect x="403" y="242" width="3.3" height="3.3" fill="#68ee2a"/><rect x="406" y="242" width="3.3" height="3.3" fill="#68ee2a"/><rect x="409" y="242" width="3.3" height="3.3" fill="#68ee2a"/><rect x="412" y="242" width="3.3" height="3.3" fill="#68ee2a"/><rect x="415" y="242" width="3.3" height="3.3" fill="#68ee2a"/><rect x="418" y="242" width="3.3" height="3.3" fill="#69ee2a"/><rect x="421" y="242" width="3.3" height="3.3" fill="#69ee2a"/><rect x="424" y="242" width="3.3" height="3.3" fill="#6bee2b"/><rect x="427" y="242" width="3.3" height="3.3" fill="#6cee2b"/><rect x="430" y="242" width="3.3" height="3.3" fill="#6eee2b"/><rect x="433" y="242" width="3.3" height="3.3" fill="#6fee2c"/><rect x="436" y="242" width="3.3" height="3.3" fill="#6fee2c"/><rect x="439" y="242" width="3.3" height="3.3" fill="#70ee2c"/><rect x="442" y="242" width="3.3" height="3.3" fill="#70ee2c"/><rect x="445" y="242" width="3.3" height="3.3" fill="#70ee2c"/><rect x="448" y="242" width="3.3" height="3.3" fill="#70ee2c"/><rect x="451" y="242" width="3.3" height="3.3" fill="#70ee2c"/><rect x="454" y="242" width="3.3" height="3.3" fill="#70ee2c"/><rect x="457" y="242" width="3.3" height="3.3" fill="#71ee2c"/><rect x="460" y="242" width="3.3" height="3.3" fill="#71ee2c"/><rect x="463" y="242" width="3.3" height="3.3" fill="#72ee2d"/><rect x="466" y="242" width="3.3" height="3.3" fill="#73ee2d"/><rect x="469" y="242" width="3.3" height="3.3" fill="#75ed2f"/><rect x="472" y="242" width="3.3" height="3.3" fill="#7be937"/><rect x="475" y="242" width="3.3" height="3.3" fill="#8adc4f"/><rect x="478" y="242" width="3.3" height="3.3" fill="#a1c579"/><rect x="481" y="242" width="3.3" height="3.3" fill="#adb791"/><rect x="484" y="242" width="3.3" height="3.3" fill="#b0b398"/><rect x="487" y="242" width="3.3" height="3.3" fill="#b1b299"/><rect x="490" y="242" width="3.3" height="3.3" fill="#b1b29a"/><rect x="493" y="242" width="3.3" height="3.3" fill="#b1b29a"/><rect x="496" y="242" width="3.3" height="3.3" fill="#b1b29a"/><rect x="499" y="242" width="3.3" height="3.3" fill="#b1b29a"/><rect x="502" y="242" width="3.3" height="3.3" fill="#b1b29a"/><rect x="505" y="242" width="3.3" height="3.3" fill="#b1b29a"/><rect x="508" y="242" width="3.3" height="3.3" fill="#b1b29a"/><rect x="511" y="242" width="3.3" height="3.3" fill="#b1b29a"/><rect x="514" y="242" width="3.3" height="3.3" fill="#b1b29a"/><rect x="517" y="242" width="3.3" height="3.3" fill="#b1b29a"/><rect x="520" y="242" width="3.3" height="3.3" fill="#b1b29a"/><rect x="523" y="242" width="3.3" height="3.3" fill="#b1b29a"/><rect x="526" y="242" width="3.3" height="3.3" fill="#b1b29a"/><rect x="529" y="242" width="3.3" height="3.3" fill="#b1b29a"/><rect x="532" y="242" width="3.3" height="3.3" fill="#b1b29a"/><rect x="535" y="242" width="3.3" height="3.3" fill="#b1b29a"/><rect x="538" y="242" width="3.3" height="3.3" fill="#b1b29a"/><rect x="541" y="242" width="3.3" height="3.3" fill="#b1b29a"/><rect x="358" y="245" width="3.3" height="3.3" fill="#66ee2c"/><rect x="361" y="245" width="3.3" height="3.3" fill="#66ee2c"/><rect x="364" y="245" width="3.3" height="3.3" fill="#66ee2c"/><rect x="367" y="245" width="3.3" height="3.3" fill="#66ee2c"/><rect x="370" y="245" width="3.3" height="3.3" fill="#66ee2c"/><rect x="373" y="245" width="3.3" height="3.3" fill="#66ee2c"/><rect x="376" y="245" width="3.3" height="3.3" fill="#66ee2c"/><rect x="379" y="245" width="3.3" height="3.3" fill="#66ee2c"/><rect x="382" y="245" width="3.3" height="3.3" fill="#66ee2c"/><rect x="385" y="245" width="3.3" height="3.3" fill="#67ee2b"/><rect x="388" y="245" width="3.3" height="3.3" fill="#67ee2b"/><rect x="391" y="245" width="3.3" height="3.3" fill="#67ee2b"/><rect x="394" y="245" width="3.3" height="3.3" fill="#67ee2b"/><rect x="397" y="245" width="3.3" height="3.3" fill="#68ee2a"/><rect x="400" y="245" width="3.3" height="3.3" fill="#68ee2a"/><rect x="403" y="245" width="3.3" height="3.3" fill="#68ee2a"/><rect x="406" y="245" width="3.3" height="3.3" fill="#68ee2a"/><rect x="409" y="245" width="3.3" height="3.3" fill="#68ee2a"/><rect x="412" y="245" width="3.3" height="3.3" fill="#68ee2a"/><rect x="415" y="245" width="3.3" height="3.3" fill="#69ee2a"/><rect x="418" y="245" width="3.3" height="3.3" fill="#69ee2a"/><rect x="421" y="245" width="3.3" height="3.3" fill="#6aee2b"/><rect x="424" y="245" width="3.3" height="3.3" fill="#6cee2b"/><rect x="427" y="245" width="3.3" height="3.3" fill="#6dee2b"/><rect x="430" y="245" width="3.3" height="3.3" fill="#6eee2c"/><rect x="433" y="245" width="3.3" height="3.3" fill="#6fee2c"/><rect x="436" y="245" width="3.3" height="3.3" fill="#70ee2c"/><rect x="439" y="245" width="3.3" height="3.3" fill="#70ee2c"/><rect x="442" y="245" width="3.3" height="3.3" fill="#70ee2c"/><rect x="445" y="245" width="3.3" height="3.3" fill="#70ee2c"/><rect x="448" y="245" width="3.3" height="3.3" fill="#70ee2c"/><rect x="451" y="245" width="3.3" height="3.3" fill="#70ee2c"/><rect x="454" y="245" width="3.3" height="3.3" fill="#71ee2c"/><rect x="457" y="245" width="3.3" height="3.3" fill="#71ee2c"/><rect x="460" y="245" width="3.3" height="3.3" fill="#72ee2c"/><rect x="463" y="245" width="3.3" height="3.3" fill="#73ee2d"/><rect x="466" y="245" width="3.3" height="3.3" fill="#75ee2d"/><rect x="469" y="245" width="3.3" height="3.3" fill="#77ee2e"/><rect x="472" y="245" width="3.3" height="3.3" fill="#7bed31"/><rect x="475" y="245" width="3.3" height="3.3" fill="#82e83a"/><rect x="478" y="245" width="3.3" height="3.3" fill="#90da53"/><rect x="481" y="245" width="3.3" height="3.3" fill="#a3c47b"/><rect x="484" y="245" width="3.3" height="3.3" fill="#adb791"/><rect x="487" y="245" width="3.3" height="3.3" fill="#b0b398"/><rect x="490" y="245" width="3.3" height="3.3" fill="#b1b299"/><rect x="493" y="245" width="3.3" height="3.3" fill="#b1b29a"/><rect x="496" y="245" width="3.3" height="3.3" fill="#b1b29a"/><rect x="499" y="245" width="3.3" height="3.3" fill="#b1b29a"/><rect x="502" y="245" width="3.3" height="3.3" fill="#b1b29a"/><rect x="505" y="245" width="3.3" height="3.3" fill="#b1b29a"/><rect x="508" y="245" width="3.3" height="3.3" fill="#b1b29a"/><rect x="511" y="245" width="3.3" height="3.3" fill="#b1b29a"/><rect x="514" y="245" width="3.3" height="3.3" fill="#b1b29a"/><rect x="517" y="245" width="3.3" height="3.3" fill="#b1b29a"/><rect x="520" y="245" width="3.3" height="3.3" fill="#b1b29a"/><rect x="523" y="245" width="3.3" height="3.3" fill="#b1b29a"/><rect x="526" y="245" width="3.3" height="3.3" fill="#b1b29a"/><rect x="529" y="245" width="3.3" height="3.3" fill="#b1b29a"/><rect x="532" y="245" width="3.3" height="3.3" fill="#b1b29a"/><rect x="535" y="245" width="3.3" height="3.3" fill="#b1b29a"/><rect x="538" y="245" width="3.3" height="3.3" fill="#b1b29a"/><rect x="541" y="245" width="3.3" height="3.3" fill="#b1b29a"/><rect x="358" y="248" width="3.3" height="3.3" fill="#66ee2c"/><rect x="361" y="248" width="3.3" height="3.3" fill="#66ee2c"/><rect x="364" y="248" width="3.3" height="3.3" fill="#66ee2c"/><rect x="367" y="248" width="3.3" height="3.3" fill="#66ee2c"/><rect x="370" y="248" width="3.3" height="3.3" fill="#66ee2c"/><rect x="373" y="248" width="3.3" height="3.3" fill="#66ee2c"/><rect x="376" y="248" width="3.3" height="3.3" fill="#66ee2c"/><rect x="379" y="248" width="3.3" height="3.3" fill="#66ee2c"/><rect x="382" y="248" width="3.3" height="3.3" fill="#66ee2c"/><rect x="385" y="248" width="3.3" height="3.3" fill="#67ee2b"/><rect x="388" y="248" width="3.3" height="3.3" fill="#67ee2b"/><rect x="391" y="248" width="3.3" height="3.3" fill="#67ee2b"/><rect x="394" y="248" width="3.3" height="3.3" fill="#68ee2a"/><rect x="397" y="248" width="3.3" height="3.3" fill="#68ee2a"/><rect x="400" y="248" width="3.3" height="3.3" fill="#68ee2a"/><rect x="403" y="248" width="3.3" height="3.3" fill="#68ee2a"/><rect x="406" y="248" width="3.3" height="3.3" fill="#68ee2a"/><rect x="409" y="248" width="3.3" height="3.3" fill="#68ee2a"/><rect x="412" y="248" width="3.3" height="3.3" fill="#69ee2a"/><rect x="415" y="248" width="3.3" height="3.3" fill="#69ee2a"/><rect x="418" y="248" width="3.3" height="3.3" fill="#6aee2b"/><rect x="421" y="248" width="3.3" height="3.3" fill="#6cee2b"/><rect x="424" y="248" width="3.3" height="3.3" fill="#6dee2b"/><rect x="427" y="248" width="3.3" height="3.3" fill="#6eee2c"/><rect x="430" y="248" width="3.3" height="3.3" fill="#6fee2c"/><rect x="433" y="248" width="3.3" height="3.3" fill="#70ee2c"/><rect x="436" y="248" width="3.3" height="3.3" fill="#70ee2c"/><rect x="439" y="248" width="3.3" height="3.3" fill="#70ee2c"/><rect x="442" y="248" width="3.3" height="3.3" fill="#70ee2c"/><rect x="445" y="248" width="3.3" height="3.3" fill="#70ee2c"/><rect x="448" y="248" width="3.3" height="3.3" fill="#70ee2c"/><rect x="451" y="248" width="3.3" height="3.3" fill="#71ee2c"/><rect x="454" y="248" width="3.3" height="3.3" fill="#71ee2c"/><rect x="457" y="248" width="3.3" height="3.3" fill="#72ee2c"/><rect x="460" y="248" width="3.3" height="3.3" fill="#73ee2d"/><rect x="463" y="248" width="3.3" height="3.3" fill="#75ee2d"/><rect x="466" y="248" width="3.3" height="3.3" fill="#77ee2e"/><rect x="469" y="248" width="3.3" height="3.3" fill="#7bee2f"/><rect x="472" y="248" width="3.3" height="3.3" fill="#7eee30"/><rect x="475" y="248" width="3.3" height="3.3" fill="#82ec33"/><rect x="478" y="248" width="3.3" height="3.3" fill="#88e83b"/><rect x="481" y="248" width="3.3" height="3.3" fill="#94da54"/><rect x="484" y="248" width="3.3" height="3.3" fill="#a5c47b"/><rect x="487" y="248" width="3.3" height="3.3" fill="#aeb792"/><rect x="490" y="248" width="3.3" height="3.3" fill="#b0b398"/><rect x="493" y="248" width="3.3" height="3.3" fill="#b1b299"/><rect x="496" y="248" width="3.3" height="3.3" fill="#b1b29a"/><rect x="499" y="248" width="3.3" height="3.3" fill="#b1b29a"/><rect x="502" y="248" width="3.3" height="3.3" fill="#b1b29a"/><rect x="505" y="248" width="3.3" height="3.3" fill="#b1b29a"/><rect x="508" y="248" width="3.3" height="3.3" fill="#b1b29a"/><rect x="511" y="248" width="3.3" height="3.3" fill="#b1b29a"/><rect x="514" y="248" width="3.3" height="3.3" fill="#b1b29a"/><rect x="517" y="248" width="3.3" height="3.3" fill="#b1b29a"/><rect x="520" y="248" width="3.3" height="3.3" fill="#b1b29a"/><rect x="523" y="248" width="3.3" height="3.3" fill="#b1b29a"/><rect x="526" y="248" width="3.3" height="3.3" fill="#b1b29a"/><rect x="529" y="248" width="3.3" height="3.3" fill="#b1b29a"/><rect x="532" y="248" width="3.3" height="3.3" fill="#b1b29a"/><rect x="535" y="248" width="3.3" height="3.3" fill="#b1b29a"/><rect x="538" y="248" width="3.3" height="3.3" fill="#b1b29a"/><rect x="541" y="248" width="3.3" height="3.3" fill="#b1b29a"/><rect x="358" y="251" width="3.3" height="3.3" fill="#66ee2c"/><rect x="361" y="251" width="3.3" height="3.3" fill="#66ee2c"/><rect x="364" y="251" width="3.3" height="3.3" fill="#66ee2c"/><rect x="367" y="251" width="3.3" height="3.3" fill="#66ee2c"/><rect x="370" y="251" width="3.3" height="3.3" fill="#66ee2c"/><rect x="373" y="251" width="3.3" height="3.3" fill="#66ee2c"/><rect x="376" y="251" width="3.3" height="3.3" fill="#66ee2c"/><rect x="379" y="251" width="3.3" height="3.3" fill="#66ee2c"/><rect x="382" y="251" width="3.3" height="3.3" fill="#67ee2b"/><rect x="385" y="251" width="3.3" height="3.3" fill="#67ee2b"/><rect x="388" y="251" width="3.3" height="3.3" fill="#67ee2b"/><rect x="391" y="251" width="3.3" height="3.3" fill="#68ee2a"/><rect x="394" y="251" width="3.3" height="3.3" fill="#68ee2a"/><rect x="397" y="251" width="3.3" height="3.3" fill="#68ee2a"/><rect x="400" y="251" width="3.3" height="3.3" fill="#68ee2a"/><rect x="403" y="251" width="3.3" height="3.3" fill="#68ee2a"/><rect x="406" y="251" width="3.3" height="3.3" fill="#68ee2a"/><rect x="409" y="251" width="3.3" height="3.3" fill="#68ee2a"/><rect x="412" y="251" width="3.3" height="3.3" fill="#69ee2a"/><rect x="415" y="251" width="3.3" height="3.3" fill="#6aee2a"/><rect x="418" y="251" width="3.3" height="3.3" fill="#6bee2b"/><rect x="421" y="251" width="3.3" height="3.3" fill="#6dee2b"/><rect x="424" y="251" width="3.3" height="3.3" fill="#6eee2c"/><rect x="427" y="251" width="3.3" height="3.3" fill="#6fee2c"/><rect x="430" y="251" width="3.3" height="3.3" fill="#70ee2c"/><rect x="433" y="251" width="3.3" height="3.3" fill="#70ee2c"/><rect x="436" y="251" width="3.3" height="3.3" fill="#70ee2c"/><rect x="439" y="251" width="3.3" height="3.3" fill="#70ee2c"/><rect x="442" y="251" width="3.3" height="3.3" fill="#70ee2c"/><rect x="445" y="251" width="3.3" height="3.3" fill="#70ee2c"/><rect x="448" y="251" width="3.3" height="3.3" fill="#71ee2c"/><rect x="451" y="251" width="3.3" height="3.3" fill="#71ee2c"/><rect x="454" y="251" width="3.3" height="3.3" fill="#72ee2d"/><rect x="457" y="251" width="3.3" height="3.3" fill="#73ee2d"/><rect x="460" y="251" width="3.3" height="3.3" fill="#75ee2d"/><rect x="463" y="251" width="3.3" height="3.3" fill="#78ee2e"/><rect x="466" y="251" width="3.3" height="3.3" fill="#7bee2f"/><rect x="469" y="251" width="3.3" height="3.3" fill="#7eee30"/><rect x="472" y="251" width="3.3" height="3.3" fill="#82ee31"/><rect x="475" y="251" width="3.3" height="3.3" fill="#84ee32"/><rect x="478" y="251" width="3.3" height="3.3" fill="#87ec34"/><rect x="481" y="251" width="3.3" height="3.3" fill="#8ce83c"/><rect x="484" y="251" width="3.3" height="3.3" fill="#97da55"/><rect x="487" y="251" width="3.3" height="3.3" fill="#a7c37c"/><rect x="490" y="251" width="3.3" height="3.3" fill="#afb692"/><rect x="493" y="251" width="3.3" height="3.3" fill="#b1b398"/><rect x="496" y="251" width="3.3" height="3.3" fill="#b1b299"/><rect x="499" y="251" width="3.3" height="3.3" fill="#b1b29a"/><rect x="502" y="251" width="3.3" height="3.3" fill="#b1b29a"/><rect x="505" y="251" width="3.3" height="3.3" fill="#b1b29a"/><rect x="508" y="251" width="3.3" height="3.3" fill="#b1b29a"/><rect x="511" y="251" width="3.3" height="3.3" fill="#b1b29a"/><rect x="514" y="251" width="3.3" height="3.3" fill="#b1b29a"/><rect x="517" y="251" width="3.3" height="3.3" fill="#b1b29a"/><rect x="520" y="251" width="3.3" height="3.3" fill="#b1b29a"/><rect x="523" y="251" width="3.3" height="3.3" fill="#b1b29a"/><rect x="526" y="251" width="3.3" height="3.3" fill="#b1b29a"/><rect x="529" y="251" width="3.3" height="3.3" fill="#b1b29a"/><rect x="532" y="251" width="3.3" height="3.3" fill="#b1b29a"/><rect x="535" y="251" width="3.3" height="3.3" fill="#b1b29a"/><rect x="538" y="251" width="3.3" height="3.3" fill="#b1b29a"/><rect x="541" y="251" width="3.3" height="3.3" fill="#b1b29a"/><rect x="358" y="254" width="3.3" height="3.3" fill="#66ee2c"/><rect x="361" y="254" width="3.3" height="3.3" fill="#66ee2c"/><rect x="364" y="254" width="3.3" height="3.3" fill="#66ee2c"/><rect x="367" y="254" width="3.3" height="3.3" fill="#66ee2c"/><rect x="370" y="254" width="3.3" height="3.3" fill="#66ee2c"/><rect x="373" y="254" width="3.3" height="3.3" fill="#66ee2c"/><rect x="376" y="254" width="3.3" height="3.3" fill="#66ee2c"/><rect x="379" y="254" width="3.3" height="3.3" fill="#67ee2b"/><rect x="382" y="254" width="3.3" height="3.3" fill="#67ee2b"/><rect x="385" y="254" width="3.3" height="3.3" fill="#67ee2b"/><rect x="388" y="254" width="3.3" height="3.3" fill="#67ee2b"/><rect x="391" y="254" width="3.3" height="3.3" fill="#68ee2a"/><rect x="394" y="254" width="3.3" height="3.3" fill="#68ee2a"/><rect x="397" y="254" width="3.3" height="3.3" fill="#68ee2a"/><rect x="400" y="254" width="3.3" height="3.3" fill="#68ee2a"/><rect x="403" y="254" width="3.3" height="3.3" fill="#68ee2a"/><rect x="406" y="254" width="3.3" height="3.3" fill="#68ee2a"/><rect x="409" y="254" width="3.3" height="3.3" fill="#69ee2a"/><rect x="412" y="254" width="3.3" height="3.3" fill="#6aee2a"/><rect x="415" y="254" width="3.3" height="3.3" fill="#6bee2b"/><rect x="418" y="254" width="3.3" height="3.3" fill="#6dee2b"/><rect x="421" y="254" width="3.3" height="3.3" fill="#6eee2b"/><rect x="424" y="254" width="3.3" height="3.3" fill="#6fee2c"/><rect x="427" y="254" width="3.3" height="3.3" fill="#6fee2c"/><rect x="430" y="254" width="3.3" height="3.3" fill="#70ee2c"/><rect x="433" y="254" width="3.3" height="3.3" fill="#70ee2c"/><rect x="436" y="254" width="3.3" height="3.3" fill="#70ee2c"/><rect x="439" y="254" width="3.3" height="3.3" fill="#70ee2c"/><rect x="442" y="254" width="3.3" height="3.3" fill="#70ee2c"/><rect x="445" y="254" width="3.3" height="3.3" fill="#71ee2c"/><rect x="448" y="254" width="3.3" height="3.3" fill="#71ee2c"/><rect x="451" y="254" width="3.3" height="3.3" fill="#72ee2d"/><rect x="454" y="254" width="3.3" height="3.3" fill="#74ee2d"/><rect x="457" y="254" width="3.3" height="3.3" fill="#76ee2d"/><rect x="460" y="254" width="3.3" height="3.3" fill="#79ee2e"/><rect x="463" y="254" width="3.3" height="3.3" fill="#7cee2f"/><rect x="466" y="254" width="3.3" height="3.3" fill="#7fee30"/><rect x="469" y="254" width="3.3" height="3.3" fill="#82ee31"/><rect x="472" y="254" width="3.3" height="3.3" fill="#84ee31"/><rect x="475" y="254" width="3.3" height="3.3" fill="#86ee32"/><rect x="478" y="254" width="3.3" height="3.3" fill="#88ee33"/><rect x="481" y="254" width="3.3" height="3.3" fill="#8bec35"/><rect x="484" y="254" width="3.3" height="3.3" fill="#91e83e"/><rect x="487" y="254" width="3.3" height="3.3" fill="#9dd958"/><rect x="490" y="254" width="3.3" height="3.3" fill="#abc37e"/><rect x="493" y="254" width="3.3" height="3.3" fill="#b1b792"/><rect x="496" y="254" width="3.3" height="3.3" fill="#b1b398"/><rect x="499" y="254" width="3.3" height="3.3" fill="#b1b299"/><rect x="502" y="254" width="3.3" height="3.3" fill="#b1b299"/><rect x="505" y="254" width="3.3" height="3.3" fill="#b1b29a"/><rect x="508" y="254" width="3.3" height="3.3" fill="#b1b29a"/><rect x="511" y="254" width="3.3" height="3.3" fill="#b1b29a"/><rect x="514" y="254" width="3.3" height="3.3" fill="#b1b29a"/><rect x="517" y="254" width="3.3" height="3.3" fill="#b1b29a"/><rect x="520" y="254" width="3.3" height="3.3" fill="#b1b29a"/><rect x="523" y="254" width="3.3" height="3.3" fill="#b1b29a"/><rect x="526" y="254" width="3.3" height="3.3" fill="#b1b29a"/><rect x="529" y="254" width="3.3" height="3.3" fill="#b1b29a"/><rect x="532" y="254" width="3.3" height="3.3" fill="#b1b29a"/><rect x="535" y="254" width="3.3" height="3.3" fill="#b1b29a"/><rect x="538" y="254" width="3.3" height="3.3" fill="#b1b29a"/><rect x="541" y="254" width="3.3" height="3.3" fill="#b1b29a"/><rect x="358" y="257" width="3.3" height="3.3" fill="#66ee2c"/><rect x="361" y="257" width="3.3" height="3.3" fill="#66ee2c"/><rect x="364" y="257" width="3.3" height="3.3" fill="#66ee2c"/><rect x="367" y="257" width="3.3" height="3.3" fill="#66ee2c"/><rect x="370" y="257" width="3.3" height="3.3" fill="#66ee2c"/><rect x="373" y="257" width="3.3" height="3.3" fill="#66ee2c"/><rect x="376" y="257" width="3.3" height="3.3" fill="#66ee2c"/><rect x="379" y="257" width="3.3" height="3.3" fill="#67ee2b"/><rect x="382" y="257" width="3.3" height="3.3" fill="#67ee2b"/><rect x="385" y="257" width="3.3" height="3.3" fill="#67ee2b"/><rect x="388" y="257" width="3.3" height="3.3" fill="#68ee2a"/><rect x="391" y="257" width="3.3" height="3.3" fill="#68ee2a"/><rect x="394" y="257" width="3.3" height="3.3" fill="#68ee2a"/><rect x="397" y="257" width="3.3" height="3.3" fill="#68ee2a"/><rect x="400" y="257" width="3.3" height="3.3" fill="#68ee2a"/><rect x="403" y="257" width="3.3" height="3.3" fill="#68ee2a"/><rect x="406" y="257" width="3.3" height="3.3" fill="#69ee2a"/><rect x="409" y="257" width="3.3" height="3.3" fill="#6aee2a"/><rect x="412" y="257" width="3.3" height="3.3" fill="#6bee2b"/><rect x="415" y="257" width="3.3" height="3.3" fill="#6cee2b"/><rect x="418" y="257" width="3.3" height="3.3" fill="#6eee2b"/><rect x="421" y="257" width="3.3" height="3.3" fill="#6fee2c"/><rect x="424" y="257" width="3.3" height="3.3" fill="#6fee2c"/><rect x="427" y="257" width="3.3" height="3.3" fill="#70ee2c"/><rect x="430" y="257" width="3.3" height="3.3" fill="#70ee2c"/><rect x="433" y="257" width="3.3" height="3.3" fill="#70ee2c"/><rect x="436" y="257" width="3.3" height="3.3" fill="#70ee2c"/><rect x="439" y="257" width="3.3" height="3.3" fill="#71ee2c"/><rect x="442" y="257" width="3.3" height="3.3" fill="#71ee2c"/><rect x="445" y="257" width="3.3" height="3.3" fill="#72ee2c"/><rect x="448" y="257" width="3.3" height="3.3" fill="#73ee2d"/><rect x="451" y="257" width="3.3" height="3.3" fill="#74ee2d"/><rect x="454" y="257" width="3.3" height="3.3" fill="#76ee2e"/><rect x="457" y="257" width="3.3" height="3.3" fill="#79ee2e"/><rect x="460" y="257" width="3.3" height="3.3" fill="#7cee2f"/><rect x="463" y="257" width="3.3" height="3.3" fill="#80ee30"/><rect x="466" y="257" width="3.3" height="3.3" fill="#82ee31"/><rect x="469" y="257" width="3.3" height="3.3" fill="#85ee31"/><rect x="472" y="257" width="3.3" height="3.3" fill="#86ee32"/><rect x="475" y="257" width="3.3" height="3.3" fill="#88ee32"/><rect x="478" y="257" width="3.3" height="3.3" fill="#8aee33"/><rect x="481" y="257" width="3.3" height="3.3" fill="#8dee34"/><rect x="484" y="257" width="3.3" height="3.3" fill="#93ed37"/><rect x="487" y="257" width="3.3" height="3.3" fill="#9fe841"/><rect x="490" y="257" width="3.3" height="3.3" fill="#adda5a"/><rect x="493" y="257" width="3.3" height="3.3" fill="#b5c67b"/><rect x="496" y="257" width="3.3" height="3.3" fill="#b4ba8f"/><rect x="499" y="257" width="3.3" height="3.3" fill="#b2b596"/><rect x="502" y="257" width="3.3" height="3.3" fill="#b1b399"/><rect x="505" y="257" width="3.3" height="3.3" fill="#b1b299"/><rect x="508" y="257" width="3.3" height="3.3" fill="#b1b299"/><rect x="511" y="257" width="3.3" height="3.3" fill="#b1b29a"/><rect x="514" y="257" width="3.3" height="3.3" fill="#b1b29a"/><rect x="517" y="257" width="3.3" height="3.3" fill="#b1b29a"/><rect x="520" y="257" width="3.3" height="3.3" fill="#b1b29a"/><rect x="523" y="257" width="3.3" height="3.3" fill="#b1b29a"/><rect x="526" y="257" width="3.3" height="3.3" fill="#b1b29a"/><rect x="529" y="257" width="3.3" height="3.3" fill="#b1b29a"/><rect x="532" y="257" width="3.3" height="3.3" fill="#b1b29a"/><rect x="535" y="257" width="3.3" height="3.3" fill="#b1b29a"/><rect x="538" y="257" width="3.3" height="3.3" fill="#b1b29a"/><rect x="541" y="257" width="3.3" height="3.3" fill="#b1b29a"/><rect x="358" y="260" width="3.3" height="3.3" fill="#66ee2d"/><rect x="361" y="260" width="3.3" height="3.3" fill="#66ee2d"/><rect x="364" y="260" width="3.3" height="3.3" fill="#66ee2d"/><rect x="367" y="260" width="3.3" height="3.3" fill="#66ee2d"/><rect x="370" y="260" width="3.3" height="3.3" fill="#66ee2c"/><rect x="373" y="260" width="3.3" height="3.3" fill="#66ee2c"/><rect x="376" y="260" width="3.3" height="3.3" fill="#66ee2c"/><rect x="379" y="260" width="3.3" height="3.3" fill="#67ee2b"/><rect x="382" y="260" width="3.3" height="3.3" fill="#67ee2b"/><rect x="385" y="260" width="3.3" height="3.3" fill="#67ee2b"/><rect x="388" y="260" width="3.3" height="3.3" fill="#68ee2a"/><rect x="391" y="260" width="3.3" height="3.3" fill="#68ee2a"/><rect x="394" y="260" width="3.3" height="3.3" fill="#68ee2a"/><rect x="397" y="260" width="3.3" height="3.3" fill="#68ee2a"/><rect x="400" y="260" width="3.3" height="3.3" fill="#68ee2a"/><rect x="403" y="260" width="3.3" height="3.3" fill="#69ee2a"/><rect x="406" y="260" width="3.3" height="3.3" fill="#69ee2a"/><rect x="409" y="260" width="3.3" height="3.3" fill="#6bee2b"/><rect x="412" y="260" width="3.3" height="3.3" fill="#6cee2b"/><rect x="415" y="260" width="3.3" height="3.3" fill="#6eee2b"/><rect x="418" y="260" width="3.3" height="3.3" fill="#6fee2c"/><rect x="421" y="260" width="3.3" height="3.3" fill="#6fee2c"/><rect x="424" y="260" width="3.3" height="3.3" fill="#70ee2c"/><rect x="427" y="260" width="3.3" height="3.3" fill="#70ee2c"/><rect x="430" y="260" width="3.3" height="3.3" fill="#70ee2c"/><rect x="433" y="260" width="3.3" height="3.3" fill="#70ee2c"/><rect x="436" y="260" width="3.3" height="3.3" fill="#71ee2c"/><rect x="439" y="260" width="3.3" height="3.3" fill="#71ee2c"/><rect x="442" y="260" width="3.3" height="3.3" fill="#72ee2c"/><rect x="445" y="260" width="3.3" height="3.3" fill="#73ee2d"/><rect x="448" y="260" width="3.3" height="3.3" fill="#75ee2d"/><rect x="451" y="260" width="3.3" height="3.3" fill="#77ee2e"/><rect x="454" y="260" width="3.3" height="3.3" fill="#7aee2e"/><rect x="457" y="260" width="3.3" height="3.3" fill="#7dee2f"/><rect x="460" y="260" width="3.3" height="3.3" fill="#80ee30"/><rect x="463" y="260" width="3.3" height="3.3" fill="#83ee31"/><rect x="466" y="260" width="3.3" height="3.3" fill="#85ee31"/><rect x="469" y="260" width="3.3" height="3.3" fill="#87ee32"/><rect x="472" y="260" width="3.3" height="3.3" fill="#88ee32"/><rect x="475" y="260" width="3.3" height="3.3" fill="#8aee32"/><rect x="478" y="260" width="3.3" height="3.3" fill="#8dee33"/><rect x="481" y="260" width="3.3" height="3.3" fill="#92ee34"/><rect x="484" y="260" width="3.3" height="3.3" fill="#9cee37"/><rect x="487" y="260" width="3.3" height="3.3" fill="#aaed3b"/><rect x="490" y="260" width="3.3" height="3.3" fill="#bae945"/><rect x="493" y="260" width="3.3" height="3.3" fill="#c4e056"/><rect x="496" y="260" width="3.3" height="3.3" fill="#c3d06f"/><rect x="499" y="260" width="3.3" height="3.3" fill="#bbc185"/><rect x="502" y="260" width="3.3" height="3.3" fill="#b5b792"/><rect x="505" y="260" width="3.3" height="3.3" fill="#b2b497"/><rect x="508" y="260" width="3.3" height="3.3" fill="#b1b399"/><rect x="511" y="260" width="3.3" height="3.3" fill="#b1b299"/><rect x="514" y="260" width="3.3" height="3.3" fill="#b1b29a"/><rect x="517" y="260" width="3.3" height="3.3" fill="#b1b29a"/><rect x="520" y="260" width="3.3" height="3.3" fill="#b1b29a"/><rect x="523" y="260" width="3.3" height="3.3" fill="#b1b29a"/><rect x="526" y="260" width="3.3" height="3.3" fill="#b1b29a"/><rect x="529" y="260" width="3.3" height="3.3" fill="#b1b29a"/><rect x="532" y="260" width="3.3" height="3.3" fill="#b1b29a"/><rect x="535" y="260" width="3.3" height="3.3" fill="#b1b29a"/><rect x="538" y="260" width="3.3" height="3.3" fill="#b1b29a"/><rect x="541" y="260" width="3.3" height="3.3" fill="#b1b29a"/><rect x="358" y="263" width="3.3" height="3.3" fill="#65ed2e"/><rect x="361" y="263" width="3.3" height="3.3" fill="#65ed2e"/><rect x="364" y="263" width="3.3" height="3.3" fill="#65ed2e"/><rect x="367" y="263" width="3.3" height="3.3" fill="#65ed2e"/><rect x="370" y="263" width="3.3" height="3.3" fill="#65ed2d"/><rect x="373" y="263" width="3.3" height="3.3" fill="#66ed2d"/><rect x="376" y="263" width="3.3" height="3.3" fill="#66ee2c"/><rect x="379" y="263" width="3.3" height="3.3" fill="#67ee2c"/><rect x="382" y="263" width="3.3" height="3.3" fill="#67ee2b"/><rect x="385" y="263" width="3.3" height="3.3" fill="#67ee2b"/><rect x="388" y="263" width="3.3" height="3.3" fill="#68ee2a"/><rect x="391" y="263" width="3.3" height="3.3" fill="#68ee2a"/><rect x="394" y="263" width="3.3" height="3.3" fill="#68ee2a"/><rect x="397" y="263" width="3.3" height="3.3" fill="#68ee2a"/><rect x="400" y="263" width="3.3" height="3.3" fill="#69ee2a"/><rect x="403" y="263" width="3.3" height="3.3" fill="#69ee2a"/><rect x="406" y="263" width="3.3" height="3.3" fill="#6aee2b"/><rect x="409" y="263" width="3.3" height="3.3" fill="#6cee2b"/><rect x="412" y="263" width="3.3" height="3.3" fill="#6dee2b"/><rect x="415" y="263" width="3.3" height="3.3" fill="#6fee2c"/><rect x="418" y="263" width="3.3" height="3.3" fill="#6fee2c"/><rect x="421" y="263" width="3.3" height="3.3" fill="#70ee2c"/><rect x="424" y="263" width="3.3" height="3.3" fill="#70ee2c"/><rect x="427" y="263" width="3.3" height="3.3" fill="#70ee2c"/><rect x="430" y="263" width="3.3" height="3.3" fill="#70ee2c"/><rect x="433" y="263" width="3.3" height="3.3" fill="#71ee2c"/><rect x="436" y="263" width="3.3" height="3.3" fill="#71ee2c"/><rect x="439" y="263" width="3.3" height="3.3" fill="#72ee2c"/><rect x="442" y="263" width="3.3" height="3.3" fill="#73ee2d"/><rect x="445" y="263" width="3.3" height="3.3" fill="#75ee2d"/><rect x="448" y="263" width="3.3" height="3.3" fill="#77ee2e"/><rect x="451" y="263" width="3.3" height="3.3" fill="#7bee2f"/><rect x="454" y="263" width="3.3" height="3.3" fill="#7eee2f"/><rect x="457" y="263" width="3.3" height="3.3" fill="#81ee30"/><rect x="460" y="263" width="3.3" height="3.3" fill="#83ee31"/><rect x="463" y="263" width="3.3" height="3.3" fill="#85ee31"/><rect x="466" y="263" width="3.3" height="3.3" fill="#87ee32"/><rect x="469" y="263" width="3.3" height="3.3" fill="#88ee32"/><rect x="472" y="263" width="3.3" height="3.3" fill="#8aee32"/><rect x="475" y="263" width="3.3" height="3.3" fill="#8dee33"/><rect x="478" y="263" width="3.3" height="3.3" fill="#92ee34"/><rect x="481" y="263" width="3.3" height="3.3" fill="#9bee36"/><rect x="484" y="263" width="3.3" height="3.3" fill="#a9ef39"/><rect x="487" y="263" width="3.3" height="3.3" fill="#b9ef3c"/><rect x="490" y="263" width="3.3" height="3.3" fill="#c8ee41"/><rect x="493" y="263" width="3.3" height="3.3" fill="#d2ec46"/><rect x="496" y="263" width="3.3" height="3.3" fill="#d6e74f"/><rect x="499" y="263" width="3.3" height="3.3" fill="#d2dc60"/><rect x="502" y="263" width="3.3" height="3.3" fill="#c6cb77"/><rect x="505" y="263" width="3.3" height="3.3" fill="#bbbd8b"/><rect x="508" y="263" width="3.3" height="3.3" fill="#b4b695"/><rect x="511" y="263" width="3.3" height="3.3" fill="#b2b398"/><rect x="514" y="263" width="3.3" height="3.3" fill="#b1b299"/><rect x="517" y="263" width="3.3" height="3.3" fill="#b1b299"/><rect x="520" y="263" width="3.3" height="3.3" fill="#b1b29a"/><rect x="523" y="263" width="3.3" height="3.3" fill="#b1b29a"/><rect x="526" y="263" width="3.3" height="3.3" fill="#b1b29a"/><rect x="529" y="263" width="3.3" height="3.3" fill="#b1b29a"/><rect x="532" y="263" width="3.3" height="3.3" fill="#b1b29a"/><rect x="535" y="263" width="3.3" height="3.3" fill="#b1b29a"/><rect x="538" y="263" width="3.3" height="3.3" fill="#b1b29a"/><rect x="541" y="263" width="3.3" height="3.3" fill="#b1b29a"/><rect x="358" y="266" width="3.3" height="3.3" fill="#64ec2f"/><rect x="361" y="266" width="3.3" height="3.3" fill="#64ec2f"/><rect x="364" y="266" width="3.3" height="3.3" fill="#64ec2f"/><rect x="367" y="266" width="3.3" height="3.3" fill="#65ed2f"/><rect x="370" y="266" width="3.3" height="3.3" fill="#65ed2f"/><rect x="373" y="266" width="3.3" height="3.3" fill="#65ed2e"/><rect x="376" y="266" width="3.3" height="3.3" fill="#66ed2d"/><rect x="379" y="266" width="3.3" height="3.3" fill="#66ed2d"/><rect x="382" y="266" width="3.3" height="3.3" fill="#67ee2c"/><rect x="385" y="266" width="3.3" height="3.3" fill="#67ee2b"/><rect x="388" y="266" width="3.3" height="3.3" fill="#68ee2b"/><rect x="391" y="266" width="3.3" height="3.3" fill="#68ee2a"/><rect x="394" y="266" width="3.3" height="3.3" fill="#68ee2a"/><rect x="397" y="266" width="3.3" height="3.3" fill="#69ee2a"/><rect x="400" y="266" width="3.3" height="3.3" fill="#69ee2a"/><rect x="403" y="266" width="3.3" height="3.3" fill="#6aee2b"/><rect x="406" y="266" width="3.3" height="3.3" fill="#6cee2b"/><rect x="409" y="266" width="3.3" height="3.3" fill="#6dee2b"/><rect x="412" y="266" width="3.3" height="3.3" fill="#6eee2c"/><rect x="415" y="266" width="3.3" height="3.3" fill="#6fee2c"/><rect x="418" y="266" width="3.3" height="3.3" fill="#70ee2c"/><rect x="421" y="266" width="3.3" height="3.3" fill="#70ee2c"/><rect x="424" y="266" width="3.3" height="3.3" fill="#70ee2c"/><rect x="427" y="266" width="3.3" height="3.3" fill="#70ee2c"/><rect x="430" y="266" width="3.3" height="3.3" fill="#71ee2c"/><rect x="433" y="266" width="3.3" height="3.3" fill="#71ee2c"/><rect x="436" y="266" width="3.3" height="3.3" fill="#72ee2d"/><rect x="439" y="266" width="3.3" height="3.3" fill="#73ee2d"/><rect x="442" y="266" width="3.3" height="3.3" fill="#75ee2d"/><rect x="445" y="266" width="3.3" height="3.3" fill="#78ee2e"/><rect x="448" y="266" width="3.3" height="3.3" fill="#7bee2f"/><rect x="451" y="266" width="3.3" height="3.3" fill="#7eee30"/><rect x="454" y="266" width="3.3" height="3.3" fill="#81ee30"/><rect x="457" y="266" width="3.3" height="3.3" fill="#84ee31"/><rect x="460" y="266" width="3.3" height="3.3" fill="#86ee31"/><rect x="463" y="266" width="3.3" height="3.3" fill="#87ee32"/><rect x="466" y="266" width="3.3" height="3.3" fill="#88ee32"/><rect x="469" y="266" width="3.3" height="3.3" fill="#8aee33"/><rect x="472" y="266" width="3.3" height="3.3" fill="#8dee33"/><rect x="475" y="266" width="3.3" height="3.3" fill="#92ee34"/><rect x="478" y="266" width="3.3" height="3.3" fill="#9aee36"/><rect x="481" y="266" width="3.3" height="3.3" fill="#a7ef38"/><rect x="484" y="266" width="3.3" height="3.3" fill="#b7ef3c"/><rect x="487" y="266" width="3.3" height="3.3" fill="#c7ef3f"/><rect x="490" y="266" width="3.3" height="3.3" fill="#d2ef42"/><rect x="493" y="266" width="3.3" height="3.3" fill="#d9ef44"/><rect x="496" y="266" width="3.3" height="3.3" fill="#deed47"/><rect x="499" y="266" width="3.3" height="3.3" fill="#e0ea4c"/><rect x="502" y="266" width="3.3" height="3.3" fill="#dee355"/><rect x="505" y="266" width="3.3" height="3.3" fill="#d3d668"/><rect x="508" y="266" width="3.3" height="3.3" fill="#c3c480"/><rect x="511" y="266" width="3.3" height="3.3" fill="#b8b990"/><rect x="514" y="266" width="3.3" height="3.3" fill="#b3b497"/><rect x="517" y="266" width="3.3" height="3.3" fill="#b1b399"/><rect x="520" y="266" width="3.3" height="3.3" fill="#b1b299"/><rect x="523" y="266" width="3.3" height="3.3" fill="#b1b29a"/><rect x="526" y="266" width="3.3" height="3.3" fill="#b1b29a"/><rect x="529" y="266" width="3.3" height="3.3" fill="#b1b29a"/><rect x="532" y="266" width="3.3" height="3.3" fill="#b1b29a"/><rect x="535" y="266" width="3.3" height="3.3" fill="#b1b29a"/><rect x="538" y="266" width="3.3" height="3.3" fill="#b1b29a"/><rect x="541" y="266" width="3.3" height="3.3" fill="#b1b29a"/><rect x="358" y="269" width="3.3" height="3.3" fill="#64ec30"/><rect x="361" y="269" width="3.3" height="3.3" fill="#64ec30"/><rect x="364" y="269" width="3.3" height="3.3" fill="#64ec30"/><rect x="367" y="269" width="3.3" height="3.3" fill="#64ec30"/><rect x="370" y="269" width="3.3" height="3.3" fill="#64ec2f"/><rect x="373" y="269" width="3.3" height="3.3" fill="#65ec2f"/><rect x="376" y="269" width="3.3" height="3.3" fill="#65ec2f"/><rect x="379" y="269" width="3.3" height="3.3" fill="#65ed2e"/><rect x="382" y="269" width="3.3" height="3.3" fill="#66ed2d"/><rect x="385" y="269" width="3.3" height="3.3" fill="#67ed2c"/><rect x="388" y="269" width="3.3" height="3.3" fill="#67ee2b"/><rect x="391" y="269" width="3.3" height="3.3" fill="#68ee2b"/><rect x="394" y="269" width="3.3" height="3.3" fill="#68ee2b"/><rect x="397" y="269" width="3.3" height="3.3" fill="#69ee2b"/><rect x="400" y="269" width="3.3" height="3.3" fill="#6aee2b"/><rect x="403" y="269" width="3.3" height="3.3" fill="#6bee2b"/><rect x="406" y="269" width="3.3" height="3.3" fill="#6dee2b"/><rect x="409" y="269" width="3.3" height="3.3" fill="#6eee2c"/><rect x="412" y="269" width="3.3" height="3.3" fill="#6fee2c"/><rect x="415" y="269" width="3.3" height="3.3" fill="#70ee2c"/><rect x="418" y="269" width="3.3" height="3.3" fill="#70ee2c"/><rect x="421" y="269" width="3.3" height="3.3" fill="#70ee2c"/><rect x="424" y="269" width="3.3" height="3.3" fill="#70ee2c"/><rect x="427" y="269" width="3.3" height="3.3" fill="#71ee2c"/><rect x="430" y="269" width="3.3" height="3.3" fill="#71ee2c"/><rect x="433" y="269" width="3.3" height="3.3" fill="#72ee2d"/><rect x="436" y="269" width="3.3" height="3.3" fill="#74ee2d"/><rect x="439" y="269" width="3.3" height="3.3" fill="#76ee2d"/><rect x="442" y="269" width="3.3" height="3.3" fill="#79ee2e"/><rect x="445" y="269" width="3.3" height="3.3" fill="#7cee2f"/><rect x="448" y="269" width="3.3" height="3.3" fill="#7fee30"/><rect x="451" y="269" width="3.3" height="3.3" fill="#82ee31"/><rect x="454" y="269" width="3.3" height="3.3" fill="#84ee31"/><rect x="457" y="269" width="3.3" height="3.3" fill="#86ee32"/><rect x="460" y="269" width="3.3" height="3.3" fill="#87ee32"/><rect x="463" y="269" width="3.3" height="3.3" fill="#89ee32"/><rect x="466" y="269" width="3.3" height="3.3" fill="#8aee33"/><rect x="469" y="269" width="3.3" height="3.3" fill="#8dee33"/><rect x="472" y="269" width="3.3" height="3.3" fill="#91ee34"/><rect x="475" y="269" width="3.3" height="3.3" fill="#9aee36"/><rect x="478" y="269" width="3.3" height="3.3" fill="#a6ef38"/><rect x="481" y="269" width="3.3" height="3.3" fill="#b6ef3b"/><rect x="484" y="269" width="3.3" height="3.3" fill="#c5ef3e"/><rect x="487" y="269" width="3.3" height="3.3" fill="#d0ef41"/><rect x="490" y="269" width="3.3" height="3.3" fill="#d8ef43"/><rect x="493" y="269" width="3.3" height="3.3" fill="#deef44"/><rect x="496" y="269" width="3.3" height="3.3" fill="#e2ee46"/><rect x="499" y="269" width="3.3" height="3.3" fill="#e5ed48"/><rect x="502" y="269" width="3.3" height="3.3" fill="#e7eb4a"/><rect x="505" y="269" width="3.3" height="3.3" fill="#e6e750"/><rect x="508" y="269" width="3.3" height="3.3" fill="#dedd5d"/><rect x="511" y="269" width="3.3" height="3.3" fill="#cecc74"/><rect x="514" y="269" width="3.3" height="3.3" fill="#bdbc8a"/><rect x="517" y="269" width="3.3" height="3.3" fill="#b5b595"/><rect x="520" y="269" width="3.3" height="3.3" fill="#b2b398"/><rect x="523" y="269" width="3.3" height="3.3" fill="#b1b299"/><rect x="526" y="269" width="3.3" height="3.3" fill="#b1b29a"/><rect x="529" y="269" width="3.3" height="3.3" fill="#b1b29a"/><rect x="532" y="269" width="3.3" height="3.3" fill="#b1b29a"/><rect x="535" y="269" width="3.3" height="3.3" fill="#b1b29a"/><rect x="538" y="269" width="3.3" height="3.3" fill="#b1b29a"/><rect x="541" y="269" width="3.3" height="3.3" fill="#b1b29a"/><rect x="358" y="272" width="3.3" height="3.3" fill="#64ec30"/><rect x="361" y="272" width="3.3" height="3.3" fill="#64ec30"/><rect x="364" y="272" width="3.3" height="3.3" fill="#64ec30"/><rect x="367" y="272" width="3.3" height="3.3" fill="#64ec30"/><rect x="370" y="272" width="3.3" height="3.3" fill="#64ec30"/><rect x="373" y="272" width="3.3" height="3.3" fill="#64ec30"/><rect x="376" y="272" width="3.3" height="3.3" fill="#64ec2f"/><rect x="379" y="272" width="3.3" height="3.3" fill="#65ec2f"/><rect x="382" y="272" width="3.3" height="3.3" fill="#65ed2e"/><rect x="385" y="272" width="3.3" height="3.3" fill="#66ed2d"/><rect x="388" y="272" width="3.3" height="3.3" fill="#67ed2d"/><rect x="391" y="272" width="3.3" height="3.3" fill="#68ee2c"/><rect x="394" y="272" width="3.3" height="3.3" fill="#69ee2b"/><rect x="397" y="272" width="3.3" height="3.3" fill="#6aee2b"/><rect x="400" y="272" width="3.3" height="3.3" fill="#6bee2b"/><rect x="403" y="272" width="3.3" height="3.3" fill="#6cee2c"/><rect x="406" y="272" width="3.3" height="3.3" fill="#6eee2c"/><rect x="409" y="272" width="3.3" height="3.3" fill="#6fee2c"/><rect x="412" y="272" width="3.3" height="3.3" fill="#6fee2c"/><rect x="415" y="272" width="3.3" height="3.3" fill="#70ee2c"/><rect x="418" y="272" width="3.3" height="3.3" fill="#70ee2c"/><rect x="421" y="272" width="3.3" height="3.3" fill="#70ee2c"/><rect x="424" y="272" width="3.3" height="3.3" fill="#71ee2c"/><rect x="427" y="272" width="3.3" height="3.3" fill="#72ee2c"/><rect x="430" y="272" width="3.3" height="3.3" fill="#73ee2d"/><rect x="433" y="272" width="3.3" height="3.3" fill="#74ee2d"/><rect x="436" y="272" width="3.3" height="3.3" fill="#76ee2e"/><rect x="439" y="272" width="3.3" height="3.3" fill="#79ee2e"/><rect x="442" y="272" width="3.3" height="3.3" fill="#7dee2f"/><rect x="445" y="272" width="3.3" height="3.3" fill="#80ee30"/><rect x="448" y="272" width="3.3" height="3.3" fill="#83ee31"/><rect x="451" y="272" width="3.3" height="3.3" fill="#85ee31"/><rect x="454" y="272" width="3.3" height="3.3" fill="#86ee32"/><rect x="457" y="272" width="3.3" height="3.3" fill="#88ee32"/><rect x="460" y="272" width="3.3" height="3.3" fill="#89ee32"/><rect x="463" y="272" width="3.3" height="3.3" fill="#8aee33"/><rect x="466" y="272" width="3.3" height="3.3" fill="#8dee33"/><rect x="469" y="272" width="3.3" height="3.3" fill="#91ee34"/><rect x="472" y="272" width="3.3" height="3.3" fill="#99ee36"/><rect x="475" y="272" width="3.3" height="3.3" fill="#a5ee38"/><rect x="478" y="272" width="3.3" height="3.3" fill="#b4ef3b"/><rect x="481" y="272" width="3.3" height="3.3" fill="#c3ef3e"/><rect x="484" y="272" width="3.3" height="3.3" fill="#cfef40"/><rect x="487" y="272" width="3.3" height="3.3" fill="#d7ef42"/><rect x="490" y="272" width="3.3" height="3.3" fill="#dcef44"/><rect x="493" y="272" width="3.3" height="3.3" fill="#e1ef45"/><rect x="496" y="272" width="3.3" height="3.3" fill="#e5ee46"/><rect x="499" y="272" width="3.3" height="3.3" fill="#e8ed47"/><rect x="502" y="272" width="3.3" height="3.3" fill="#eaec48"/><rect x="505" y="272" width="3.3" height="3.3" fill="#ecea4a"/><rect x="508" y="272" width="3.3" height="3.3" fill="#ece74c"/><rect x="511" y="272" width="3.3" height="3.3" fill="#e6df55"/><rect x="514" y="272" width="3.3" height="3.3" fill="#d8d068"/><rect x="517" y="272" width="3.3" height="3.3" fill="#c4bf82"/><rect x="520" y="272" width="3.3" height="3.3" fill="#b7b692"/><rect x="523" y="272" width="3.3" height="3.3" fill="#b2b398"/><rect x="526" y="272" width="3.3" height="3.3" fill="#b1b299"/><rect x="529" y="272" width="3.3" height="3.3" fill="#b1b299"/><rect x="532" y="272" width="3.3" height="3.3" fill="#b1b29a"/><rect x="535" y="272" width="3.3" height="3.3" fill="#b1b29a"/><rect x="538" y="272" width="3.3" height="3.3" fill="#b1b29a"/><rect x="541" y="272" width="3.3" height="3.3" fill="#b1b29a"/><rect x="358" y="275" width="3.3" height="3.3" fill="#64ec30"/><rect x="361" y="275" width="3.3" height="3.3" fill="#64ec30"/><rect x="364" y="275" width="3.3" height="3.3" fill="#64ec30"/><rect x="367" y="275" width="3.3" height="3.3" fill="#64ec30"/><rect x="370" y="275" width="3.3" height="3.3" fill="#64ec30"/><rect x="373" y="275" width="3.3" height="3.3" fill="#64ec30"/><rect x="376" y="275" width="3.3" height="3.3" fill="#64ec30"/><rect x="379" y="275" width="3.3" height="3.3" fill="#65ec30"/><rect x="382" y="275" width="3.3" height="3.3" fill="#65ec2f"/><rect x="385" y="275" width="3.3" height="3.3" fill="#66ed2f"/><rect x="388" y="275" width="3.3" height="3.3" fill="#67ed2e"/><rect x="391" y="275" width="3.3" height="3.3" fill="#68ee2d"/><rect x="394" y="275" width="3.3" height="3.3" fill="#69ee2d"/><rect x="397" y="275" width="3.3" height="3.3" fill="#6aee2c"/><rect x="400" y="275" width="3.3" height="3.3" fill="#6bee2c"/><rect x="403" y="275" width="3.3" height="3.3" fill="#6dee2c"/><rect x="406" y="275" width="3.3" height="3.3" fill="#6eee2c"/><rect x="409" y="275" width="3.3" height="3.3" fill="#6fee2c"/><rect x="412" y="275" width="3.3" height="3.3" fill="#70ee2c"/><rect x="415" y="275" width="3.3" height="3.3" fill="#70ee2c"/><rect x="418" y="275" width="3.3" height="3.3" fill="#70ee2c"/><rect x="421" y="275" width="3.3" height="3.3" fill="#71ee2c"/><rect x="424" y="275" width="3.3" height="3.3" fill="#72ee2c"/><rect x="427" y="275" width="3.3" height="3.3" fill="#73ee2d"/><rect x="430" y="275" width="3.3" height="3.3" fill="#75ee2d"/><rect x="433" y="275" width="3.3" height="3.3" fill="#77ee2e"/><rect x="436" y="275" width="3.3" height="3.3" fill="#7aee2e"/><rect x="439" y="275" width="3.3" height="3.3" fill="#7dee2f"/><rect x="442" y="275" width="3.3" height="3.3" fill="#80ee30"/><rect x="445" y="275" width="3.3" height="3.3" fill="#83ee31"/><rect x="448" y="275" width="3.3" height="3.3" fill="#85ee31"/><rect x="451" y="275" width="3.3" height="3.3" fill="#87ee32"/><rect x="454" y="275" width="3.3" height="3.3" fill="#88ee32"/><rect x="457" y="275" width="3.3" height="3.3" fill="#89ee32"/><rect x="460" y="275" width="3.3" height="3.3" fill="#8bee33"/><rect x="463" y="275" width="3.3" height="3.3" fill="#8dee33"/><rect x="466" y="275" width="3.3" height="3.3" fill="#92ee34"/><rect x="469" y="275" width="3.3" height="3.3" fill="#99ee36"/><rect x="472" y="275" width="3.3" height="3.3" fill="#a4ee38"/><rect x="475" y="275" width="3.3" height="3.3" fill="#b3ef3b"/><rect x="478" y="275" width="3.3" height="3.3" fill="#c1ef3e"/><rect x="481" y="275" width="3.3" height="3.3" fill="#cdef40"/><rect x="484" y="275" width="3.3" height="3.3" fill="#d5ef42"/><rect x="487" y="275" width="3.3" height="3.3" fill="#dbef43"/><rect x="490" y="275" width="3.3" height="3.3" fill="#dfef45"/><rect x="493" y="275" width="3.3" height="3.3" fill="#e3ee46"/><rect x="496" y="275" width="3.3" height="3.3" fill="#e7ee47"/><rect x="499" y="275" width="3.3" height="3.3" fill="#eaed48"/><rect x="502" y="275" width="3.3" height="3.3" fill="#ecec48"/><rect x="505" y="275" width="3.3" height="3.3" fill="#eeea48"/><rect x="508" y="275" width="3.3" height="3.3" fill="#efe748"/><rect x="511" y="275" width="3.3" height="3.3" fill="#efe349"/><rect x="514" y="275" width="3.3" height="3.3" fill="#ecdd4e"/><rect x="517" y="275" width="3.3" height="3.3" fill="#e0d15d"/><rect x="520" y="275" width="3.3" height="3.3" fill="#cbc178"/><rect x="523" y="275" width="3.3" height="3.3" fill="#bab78d"/><rect x="526" y="275" width="3.3" height="3.3" fill="#b3b396"/><rect x="529" y="275" width="3.3" height="3.3" fill="#b1b299"/><rect x="532" y="275" width="3.3" height="3.3" fill="#b1b299"/><rect x="535" y="275" width="3.3" height="3.3" fill="#b1b29a"/><rect x="538" y="275" width="3.3" height="3.3" fill="#b1b29a"/><rect x="541" y="275" width="3.3" height="3.3" fill="#b1b29a"/><rect x="358" y="278" width="3.3" height="3.3" fill="#64ec30"/><rect x="361" y="278" width="3.3" height="3.3" fill="#64ec30"/><rect x="364" y="278" width="3.3" height="3.3" fill="#64ec30"/><rect x="367" y="278" width="3.3" height="3.3" fill="#64ec30"/><rect x="370" y="278" width="3.3" height="3.3" fill="#64ec30"/><rect x="373" y="278" width="3.3" height="3.3" fill="#64ec30"/><rect x="376" y="278" width="3.3" height="3.3" fill="#64ec30"/><rect x="379" y="278" width="3.3" height="3.3" fill="#65ec30"/><rect x="382" y="278" width="3.3" height="3.3" fill="#65ec2f"/><rect x="385" y="278" width="3.3" height="3.3" fill="#66ed2f"/><rect x="388" y="278" width="3.3" height="3.3" fill="#67ed2e"/><rect x="391" y="278" width="3.3" height="3.3" fill="#68ed2e"/><rect x="394" y="278" width="3.3" height="3.3" fill="#69ee2e"/><rect x="397" y="278" width="3.3" height="3.3" fill="#6aee2d"/><rect x="400" y="278" width="3.3" height="3.3" fill="#6bee2d"/><rect x="403" y="278" width="3.3" height="3.3" fill="#6dee2d"/><rect x="406" y="278" width="3.3" height="3.3" fill="#6eee2c"/><rect x="409" y="278" width="3.3" height="3.3" fill="#6fee2c"/><rect x="412" y="278" width="3.3" height="3.3" fill="#70ee2c"/><rect x="415" y="278" width="3.3" height="3.3" fill="#70ee2c"/><rect x="418" y="278" width="3.3" height="3.3" fill="#71ee2c"/><rect x="421" y="278" width="3.3" height="3.3" fill="#72ee2c"/><rect x="424" y="278" width="3.3" height="3.3" fill="#73ee2d"/><rect x="427" y="278" width="3.3" height="3.3" fill="#75ee2d"/><rect x="430" y="278" width="3.3" height="3.3" fill="#77ee2e"/><rect x="433" y="278" width="3.3" height="3.3" fill="#7bee2f"/><rect x="436" y="278" width="3.3" height="3.3" fill="#7eee30"/><rect x="439" y="278" width="3.3" height="3.3" fill="#81ee30"/><rect x="442" y="278" width="3.3" height="3.3" fill="#84ee31"/><rect x="445" y="278" width="3.3" height="3.3" fill="#86ee32"/><rect x="448" y="278" width="3.3" height="3.3" fill="#87ee32"/><rect x="451" y="278" width="3.3" height="3.3" fill="#88ee32"/><rect x="454" y="278" width="3.3" height="3.3" fill="#8aee33"/><rect x="457" y="278" width="3.3" height="3.3" fill="#8bee33"/><rect x="460" y="278" width="3.3" height="3.3" fill="#8eee34"/><rect x="463" y="278" width="3.3" height="3.3" fill="#92ee35"/><rect x="466" y="278" width="3.3" height="3.3" fill="#99ee36"/><rect x="469" y="278" width="3.3" height="3.3" fill="#a4ee38"/><rect x="472" y="278" width="3.3" height="3.3" fill="#b1ef3b"/><rect x="475" y="278" width="3.3" height="3.3" fill="#bfef3e"/><rect x="478" y="278" width="3.3" height="3.3" fill="#cbef40"/><rect x="481" y="278" width="3.3" height="3.3" fill="#d3ef42"/><rect x="484" y="278" width="3.3" height="3.3" fill="#d9ef43"/><rect x="487" y="278" width="3.3" height="3.3" fill="#deef44"/><rect x="490" y="278" width="3.3" height="3.3" fill="#e2ee46"/><rect x="493" y="278" width="3.3" height="3.3" fill="#e6ee47"/><rect x="496" y="278" width="3.3" height="3.3" fill="#e9ed47"/><rect x="499" y="278" width="3.3" height="3.3" fill="#ebec48"/><rect x="502" y="278" width="3.3" height="3.3" fill="#eeea48"/><rect x="505" y="278" width="3.3" height="3.3" fill="#f0e848"/><rect x="508" y="278" width="3.3" height="3.3" fill="#f1e647"/><rect x="511" y="278" width="3.3" height="3.3" fill="#f2e246"/><rect x="514" y="278" width="3.3" height="3.3" fill="#f2dd46"/><rect x="517" y="278" width="3.3" height="3.3" fill="#f0d748"/><rect x="520" y="278" width="3.3" height="3.3" fill="#e6ce53"/><rect x="523" y="278" width="3.3" height="3.3" fill="#d2c16d"/><rect x="526" y="278" width="3.3" height="3.3" fill="#beb788"/><rect x="529" y="278" width="3.3" height="3.3" fill="#b4b395"/><rect x="532" y="278" width="3.3" height="3.3" fill="#b2b298"/><rect x="535" y="278" width="3.3" height="3.3" fill="#b1b299"/><rect x="538" y="278" width="3.3" height="3.3" fill="#b1b29a"/><rect x="541" y="278" width="3.3" height="3.3" fill="#b1b29a"/><rect x="358" y="281" width="3.3" height="3.3" fill="#64ec30"/><rect x="361" y="281" width="3.3" height="3.3" fill="#64ec30"/><rect x="364" y="281" width="3.3" height="3.3" fill="#64ec30"/><rect x="367" y="281" width="3.3" height="3.3" fill="#64ec30"/><rect x="370" y="281" width="3.3" height="3.3" fill="#64ec30"/><rect x="373" y="281" width="3.3" height="3.3" fill="#64ec30"/><rect x="376" y="281" width="3.3" height="3.3" fill="#64ec30"/><rect x="379" y="281" width="3.3" height="3.3" fill="#65ec30"/><rect x="382" y="281" width="3.3" height="3.3" fill="#65ec2f"/><rect x="385" y="281" width="3.3" height="3.3" fill="#66ed2f"/><rect x="388" y="281" width="3.3" height="3.3" fill="#68ed2f"/><rect x="391" y="281" width="3.3" height="3.3" fill="#69ee2e"/><rect x="394" y="281" width="3.3" height="3.3" fill="#6aee2e"/><rect x="397" y="281" width="3.3" height="3.3" fill="#6aee2e"/><rect x="400" y="281" width="3.3" height="3.3" fill="#6bee2e"/><rect x="403" y="281" width="3.3" height="3.3" fill="#6cee2d"/><rect x="406" y="281" width="3.3" height="3.3" fill="#6dee2d"/><rect x="409" y="281" width="3.3" height="3.3" fill="#6fee2d"/><rect x="412" y="281" width="3.3" height="3.3" fill="#70ee2c"/><rect x="415" y="281" width="3.3" height="3.3" fill="#71ee2c"/><rect x="418" y="281" width="3.3" height="3.3" fill="#72ee2d"/><rect x="421" y="281" width="3.3" height="3.3" fill="#73ee2d"/><rect x="424" y="281" width="3.3" height="3.3" fill="#75ee2d"/><rect x="427" y="281" width="3.3" height="3.3" fill="#78ee2e"/><rect x="430" y="281" width="3.3" height="3.3" fill="#7bee2f"/><rect x="433" y="281" width="3.3" height="3.3" fill="#7fee30"/><rect x="436" y="281" width="3.3" height="3.3" fill="#82ee30"/><rect x="439" y="281" width="3.3" height="3.3" fill="#84ee31"/><rect x="442" y="281" width="3.3" height="3.3" fill="#86ee32"/><rect x="445" y="281" width="3.3" height="3.3" fill="#88ee32"/><rect x="448" y="281" width="3.3" height="3.3" fill="#89ee32"/><rect x="451" y="281" width="3.3" height="3.3" fill="#8aee33"/><rect x="454" y="281" width="3.3" height="3.3" fill="#8cee33"/><rect x="457" y="281" width="3.3" height="3.3" fill="#8eee34"/><rect x="460" y="281" width="3.3" height="3.3" fill="#92ee35"/><rect x="463" y="281" width="3.3" height="3.3" fill="#99ee36"/><rect x="466" y="281" width="3.3" height="3.3" fill="#a3ee38"/><rect x="469" y="281" width="3.3" height="3.3" fill="#b0ee3b"/><rect x="472" y="281" width="3.3" height="3.3" fill="#bdef3d"/><rect x="475" y="281" width="3.3" height="3.3" fill="#c9ef40"/><rect x="478" y="281" width="3.3" height="3.3" fill="#d1ef41"/><rect x="481" y="281" width="3.3" height="3.3" fill="#d8ef43"/><rect x="484" y="281" width="3.3" height="3.3" fill="#ddef44"/><rect x="487" y="281" width="3.3" height="3.3" fill="#e1ef45"/><rect x="490" y="281" width="3.3" height="3.3" fill="#e4ee46"/><rect x="493" y="281" width="3.3" height="3.3" fill="#e8ed47"/><rect x="496" y="281" width="3.3" height="3.3" fill="#ebec48"/><rect x="499" y="281" width="3.3" height="3.3" fill="#edeb48"/><rect x="502" y="281" width="3.3" height="3.3" fill="#efe948"/><rect x="505" y="281" width="3.3" height="3.3" fill="#f1e647"/><rect x="508" y="281" width="3.3" height="3.3" fill="#f2e346"/><rect x="511" y="281" width="3.3" height="3.3" fill="#f3df44"/><rect x="514" y="281" width="3.3" height="3.3" fill="#f4da42"/><rect x="517" y="281" width="3.3" height="3.3" fill="#f4d541"/><rect x="520" y="281" width="3.3" height="3.3" fill="#f3d042"/><rect x="523" y="281" width="3.3" height="3.3" fill="#ebc84b"/><rect x="526" y="281" width="3.3" height="3.3" fill="#d9bf63"/><rect x="529" y="281" width="3.3" height="3.3" fill="#c2b683"/><rect x="532" y="281" width="3.3" height="3.3" fill="#b5b393"/><rect x="535" y="281" width="3.3" height="3.3" fill="#b2b298"/><rect x="538" y="281" width="3.3" height="3.3" fill="#b1b299"/><rect x="541" y="281" width="3.3" height="3.3" fill="#b1b29a"/><rect x="358" y="284" width="3.3" height="3.3" fill="#64ec30"/><rect x="361" y="284" width="3.3" height="3.3" fill="#64ec30"/><rect x="364" y="284" width="3.3" height="3.3" fill="#64ec30"/><rect x="367" y="284" width="3.3" height="3.3" fill="#64ec30"/><rect x="370" y="284" width="3.3" height="3.3" fill="#64ec30"/><rect x="373" y="284" width="3.3" height="3.3" fill="#64ec30"/><rect x="376" y="284" width="3.3" height="3.3" fill="#64ec30"/><rect x="379" y="284" width="3.3" height="3.3" fill="#65ec30"/><rect x="382" y="284" width="3.3" height="3.3" fill="#66ed2f"/><rect x="385" y="284" width="3.3" height="3.3" fill="#67ed2f"/><rect x="388" y="284" width="3.3" height="3.3" fill="#68ed2f"/><rect x="391" y="284" width="3.3" height="3.3" fill="#69ee2e"/><rect x="394" y="284" width="3.3" height="3.3" fill="#6aee2e"/><rect x="397" y="284" width="3.3" height="3.3" fill="#6aee2e"/><rect x="400" y="284" width="3.3" height="3.3" fill="#6bee2e"/><rect x="403" y="284" width="3.3" height="3.3" fill="#6bee2e"/><rect x="406" y="284" width="3.3" height="3.3" fill="#6dee2d"/><rect x="409" y="284" width="3.3" height="3.3" fill="#6eee2d"/><rect x="412" y="284" width="3.3" height="3.3" fill="#70ee2d"/><rect x="415" y="284" width="3.3" height="3.3" fill="#71ee2d"/><rect x="418" y="284" width="3.3" height="3.3" fill="#73ee2d"/><rect x="421" y="284" width="3.3" height="3.3" fill="#76ee2e"/><rect x="424" y="284" width="3.3" height="3.3" fill="#79ee2e"/><rect x="427" y="284" width="3.3" height="3.3" fill="#7cee2f"/><rect x="430" y="284" width="3.3" height="3.3" fill="#7fee30"/><rect x="433" y="284" width="3.3" height="3.3" fill="#82ee31"/><rect x="436" y="284" width="3.3" height="3.3" fill="#85ee31"/><rect x="439" y="284" width="3.3" height="3.3" fill="#87ee32"/><rect x="442" y="284" width="3.3" height="3.3" fill="#88ee32"/><rect x="445" y="284" width="3.3" height="3.3" fill="#89ee33"/><rect x="448" y="284" width="3.3" height="3.3" fill="#8bee33"/><rect x="451" y="284" width="3.3" height="3.3" fill="#8cee34"/><rect x="454" y="284" width="3.3" height="3.3" fill="#8fee34"/><rect x="457" y="284" width="3.3" height="3.3" fill="#93ee35"/><rect x="460" y="284" width="3.3" height="3.3" fill="#99ee37"/><rect x="463" y="284" width="3.3" height="3.3" fill="#a2ee39"/><rect x="466" y="284" width="3.3" height="3.3" fill="#aeee3b"/><rect x="469" y="284" width="3.3" height="3.3" fill="#bbef3d"/><rect x="472" y="284" width="3.3" height="3.3" fill="#c7ef3f"/><rect x="475" y="284" width="3.3" height="3.3" fill="#cfef41"/><rect x="478" y="284" width="3.3" height="3.3" fill="#d6ef42"/><rect x="481" y="284" width="3.3" height="3.3" fill="#dbef43"/><rect x="484" y="284" width="3.3" height="3.3" fill="#dfef45"/><rect x="487" y="284" width="3.3" height="3.3" fill="#e3ee46"/><rect x="490" y="284" width="3.3" height="3.3" fill="#e6ed47"/><rect x="493" y="284" width="3.3" height="3.3" fill="#eaec47"/><rect x="496" y="284" width="3.3" height="3.3" fill="#eceb48"/><rect x="499" y="284" width="3.3" height="3.3" fill="#eee948"/><rect x="502" y="284" width="3.3" height="3.3" fill="#f0e747"/><rect x="505" y="284" width="3.3" height="3.3" fill="#f2e446"/><rect x="508" y="284" width="3.3" height="3.3" fill="#f3e044"/><rect x="511" y="284" width="3.3" height="3.3" fill="#f4db42"/><rect x="514" y="284" width="3.3" height="3.3" fill="#f5d740"/><rect x="517" y="284" width="3.3" height="3.3" fill="#f6d23e"/><rect x="520" y="284" width="3.3" height="3.3" fill="#f6cd3d"/><rect x="523" y="284" width="3.3" height="3.3" fill="#f4c83e"/><rect x="526" y="284" width="3.3" height="3.3" fill="#efc245"/><rect x="529" y="284" width="3.3" height="3.3" fill="#deba5c"/><rect x="532" y="284" width="3.3" height="3.3" fill="#c5b47d"/><rect x="535" y="284" width="3.3" height="3.3" fill="#b6b292"/><rect x="538" y="284" width="3.3" height="3.3" fill="#b2b298"/><rect x="541" y="284" width="3.3" height="3.3" fill="#b1b299"/><rect x="358" y="287" width="3.3" height="3.3" fill="#64ec30"/><rect x="361" y="287" width="3.3" height="3.3" fill="#64ec30"/><rect x="364" y="287" width="3.3" height="3.3" fill="#64ec30"/><rect x="367" y="287" width="3.3" height="3.3" fill="#64ec30"/><rect x="370" y="287" width="3.3" height="3.3" fill="#64ec30"/><rect x="373" y="287" width="3.3" height="3.3" fill="#64ec30"/><rect x="376" y="287" width="3.3" height="3.3" fill="#65ec30"/><rect x="379" y="287" width="3.3" height="3.3" fill="#65ec30"/><rect x="382" y="287" width="3.3" height="3.3" fill="#66ed2f"/><rect x="385" y="287" width="3.3" height="3.3" fill="#67ed2f"/><rect x="388" y="287" width="3.3" height="3.3" fill="#69ed2f"/><rect x="391" y="287" width="3.3" height="3.3" fill="#69ee2e"/><rect x="394" y="287" width="3.3" height="3.3" fill="#6aee2e"/><rect x="397" y="287" width="3.3" height="3.3" fill="#6aee2e"/><rect x="400" y="287" width="3.3" height="3.3" fill="#6aee2e"/><rect x="403" y="287" width="3.3" height="3.3" fill="#6bee2e"/><rect x="406" y="287" width="3.3" height="3.3" fill="#6cee2e"/><rect x="409" y="287" width="3.3" height="3.3" fill="#6eee2e"/><rect x="412" y="287" width="3.3" height="3.3" fill="#70ee2d"/><rect x="415" y="287" width="3.3" height="3.3" fill="#72ee2d"/><rect x="418" y="287" width="3.3" height="3.3" fill="#75ee2e"/><rect x="421" y="287" width="3.3" height="3.3" fill="#79ee2e"/><rect x="424" y="287" width="3.3" height="3.3" fill="#7cee2f"/><rect x="427" y="287" width="3.3" height="3.3" fill="#80ee30"/><rect x="430" y="287" width="3.3" height="3.3" fill="#83ee31"/><rect x="433" y="287" width="3.3" height="3.3" fill="#85ee31"/><rect x="436" y="287" width="3.3" height="3.3" fill="#87ee32"/><rect x="439" y="287" width="3.3" height="3.3" fill="#89ee32"/><rect x="442" y="287" width="3.3" height="3.3" fill="#8aee33"/><rect x="445" y="287" width="3.3" height="3.3" fill="#8bee33"/><rect x="448" y="287" width="3.3" height="3.3" fill="#8dee34"/><rect x="451" y="287" width="3.3" height="3.3" fill="#90ee35"/><rect x="454" y="287" width="3.3" height="3.3" fill="#94ee36"/><rect x="457" y="287" width="3.3" height="3.3" fill="#9aee37"/><rect x="460" y="287" width="3.3" height="3.3" fill="#a2ee39"/><rect x="463" y="287" width="3.3" height="3.3" fill="#adee3b"/><rect x="466" y="287" width="3.3" height="3.3" fill="#b9ef3d"/><rect x="469" y="287" width="3.3" height="3.3" fill="#c4ef3f"/><rect x="472" y="287" width="3.3" height="3.3" fill="#cdef41"/><rect x="475" y="287" width="3.3" height="3.3" fill="#d4ef42"/><rect x="478" y="287" width="3.3" height="3.3" fill="#d9ef43"/><rect x="481" y="287" width="3.3" height="3.3" fill="#deef44"/><rect x="484" y="287" width="3.3" height="3.3" fill="#e2ee45"/><rect x="487" y="287" width="3.3" height="3.3" fill="#e5ee46"/><rect x="490" y="287" width="3.3" height="3.3" fill="#e9ed47"/><rect x="493" y="287" width="3.3" height="3.3" fill="#ebeb48"/><rect x="496" y="287" width="3.3" height="3.3" fill="#eeea48"/><rect x="499" y="287" width="3.3" height="3.3" fill="#f0e747"/><rect x="502" y="287" width="3.3" height="3.3" fill="#f1e446"/><rect x="505" y="287" width="3.3" height="3.3" fill="#f3e044"/><rect x="508" y="287" width="3.3" height="3.3" fill="#f4dc43"/><rect x="511" y="287" width="3.3" height="3.3" fill="#f5d741"/><rect x="514" y="287" width="3.3" height="3.3" fill="#f6d23e"/><rect x="517" y="287" width="3.3" height="3.3" fill="#f6ce3d"/><rect x="520" y="287" width="3.3" height="3.3" fill="#f7c93b"/><rect x="523" y="287" width="3.3" height="3.3" fill="#f7c43a"/><rect x="526" y="287" width="3.3" height="3.3" fill="#f6bf3b"/><rect x="529" y="287" width="3.3" height="3.3" fill="#f0b941"/><rect x="532" y="287" width="3.3" height="3.3" fill="#e1b456"/><rect x="535" y="287" width="3.3" height="3.3" fill="#c8b179"/><rect x="538" y="287" width="3.3" height="3.3" fill="#b7b190"/><rect x="541" y="287" width="3.3" height="3.3" fill="#b2b298"/><rect x="358" y="290" width="3.3" height="3.3" fill="#64ec31"/><rect x="361" y="290" width="3.3" height="3.3" fill="#64ec31"/><rect x="364" y="290" width="3.3" height="3.3" fill="#64ec31"/><rect x="367" y="290" width="3.3" height="3.3" fill="#64ec31"/><rect x="370" y="290" width="3.3" height="3.3" fill="#64ec30"/><rect x="373" y="290" width="3.3" height="3.3" fill="#64ec30"/><rect x="376" y="290" width="3.3" height="3.3" fill="#65ec30"/><rect x="379" y="290" width="3.3" height="3.3" fill="#66ed30"/><rect x="382" y="290" width="3.3" height="3.3" fill="#67ed2f"/><rect x="385" y="290" width="3.3" height="3.3" fill="#68ed2f"/><rect x="388" y="290" width="3.3" height="3.3" fill="#69ee2f"/><rect x="391" y="290" width="3.3" height="3.3" fill="#6aee2e"/><rect x="394" y="290" width="3.3" height="3.3" fill="#6aee2e"/><rect x="397" y="290" width="3.3" height="3.3" fill="#6aee2e"/><rect x="400" y="290" width="3.3" height="3.3" fill="#6aee2e"/><rect x="403" y="290" width="3.3" height="3.3" fill="#6bee2e"/><rect x="406" y="290" width="3.3" height="3.3" fill="#6cee2e"/><rect x="409" y="290" width="3.3" height="3.3" fill="#6eee2e"/><rect x="412" y="290" width="3.3" height="3.3" fill="#70ee2e"/><rect x="415" y="290" width="3.3" height="3.3" fill="#74ee2f"/><rect x="418" y="290" width="3.3" height="3.3" fill="#78ee2f"/><rect x="421" y="290" width="3.3" height="3.3" fill="#7dee30"/><rect x="424" y="290" width="3.3" height="3.3" fill="#80ee30"/><rect x="427" y="290" width="3.3" height="3.3" fill="#83ee31"/><rect x="430" y="290" width="3.3" height="3.3" fill="#86ee32"/><rect x="433" y="290" width="3.3" height="3.3" fill="#88ee32"/><rect x="436" y="290" width="3.3" height="3.3" fill="#89ee33"/><rect x="439" y="290" width="3.3" height="3.3" fill="#8bee33"/><rect x="442" y="290" width="3.3" height="3.3" fill="#8cee34"/><rect x="445" y="290" width="3.3" height="3.3" fill="#8eee34"/><rect x="448" y="290" width="3.3" height="3.3" fill="#91ee35"/><rect x="451" y="290" width="3.3" height="3.3" fill="#95ee36"/><rect x="454" y="290" width="3.3" height="3.3" fill="#9aee38"/><rect x="457" y="290" width="3.3" height="3.3" fill="#a2ee39"/><rect x="460" y="290" width="3.3" height="3.3" fill="#acee3b"/><rect x="463" y="290" width="3.3" height="3.3" fill="#b7ee3d"/><rect x="466" y="290" width="3.3" height="3.3" fill="#c2ef3f"/><rect x="469" y="290" width="3.3" height="3.3" fill="#cbef40"/><rect x="472" y="290" width="3.3" height="3.3" fill="#d2ef42"/><rect x="475" y="290" width="3.3" height="3.3" fill="#d7ef43"/><rect x="478" y="290" width="3.3" height="3.3" fill="#dcef44"/><rect x="481" y="290" width="3.3" height="3.3" fill="#e0ee45"/><rect x="484" y="290" width="3.3" height="3.3" fill="#e4ee46"/><rect x="487" y="290" width="3.3" height="3.3" fill="#e7ed47"/><rect x="490" y="290" width="3.3" height="3.3" fill="#eaec47"/><rect x="493" y="290" width="3.3" height="3.3" fill="#edea47"/><rect x="496" y="290" width="3.3" height="3.3" fill="#efe847"/><rect x="499" y="290" width="3.3" height="3.3" fill="#f1e546"/><rect x="502" y="290" width="3.3" height="3.3" fill="#f2e145"/><rect x="505" y="290" width="3.3" height="3.3" fill="#f4dd43"/><rect x="508" y="290" width="3.3" height="3.3" fill="#f5d841"/><rect x="511" y="290" width="3.3" height="3.3" fill="#f6d33f"/><rect x="514" y="290" width="3.3" height="3.3" fill="#f6ce3d"/><rect x="517" y="290" width="3.3" height="3.3" fill="#f7c93b"/><rect x="520" y="290" width="3.3" height="3.3" fill="#f7c439"/><rect x="523" y="290" width="3.3" height="3.3" fill="#f7bf38"/><rect x="526" y="290" width="3.3" height="3.3" fill="#f7ba38"/><rect x="529" y="290" width="3.3" height="3.3" fill="#f6b538"/><rect x="532" y="290" width="3.3" height="3.3" fill="#f2af3e"/><rect x="535" y="290" width="3.3" height="3.3" fill="#e3aa51"/><rect x="538" y="290" width="3.3" height="3.3" fill="#caab75"/><rect x="541" y="290" width="3.3" height="3.3" fill="#b8af8f"/><rect x="358" y="293" width="3.3" height="3.3" fill="#63ec34"/><rect x="361" y="293" width="3.3" height="3.3" fill="#63ec33"/><rect x="364" y="293" width="3.3" height="3.3" fill="#63ec32"/><rect x="367" y="293" width="3.3" height="3.3" fill="#64ec32"/><rect x="370" y="293" width="3.3" height="3.3" fill="#64ec31"/><rect x="373" y="293" width="3.3" height="3.3" fill="#64ec31"/><rect x="376" y="293" width="3.3" height="3.3" fill="#65ec30"/><rect x="379" y="293" width="3.3" height="3.3" fill="#66ed30"/><rect x="382" y="293" width="3.3" height="3.3" fill="#67ed2f"/><rect x="385" y="293" width="3.3" height="3.3" fill="#68ed2f"/><rect x="388" y="293" width="3.3" height="3.3" fill="#69ee2f"/><rect x="391" y="293" width="3.3" height="3.3" fill="#6aee2f"/><rect x="394" y="293" width="3.3" height="3.3" fill="#6aee2e"/><rect x="397" y="293" width="3.3" height="3.3" fill="#6aee2f"/><rect x="400" y="293" width="3.3" height="3.3" fill="#6bee2f"/><rect x="403" y="293" width="3.3" height="3.3" fill="#6bee2f"/><rect x="406" y="293" width="3.3" height="3.3" fill="#6dee2f"/><rect x="409" y="293" width="3.3" height="3.3" fill="#6eee30"/><rect x="412" y="293" width="3.3" height="3.3" fill="#72ee30"/><rect x="415" y="293" width="3.3" height="3.3" fill="#76ee31"/><rect x="418" y="293" width="3.3" height="3.3" fill="#7cee31"/><rect x="421" y="293" width="3.3" height="3.3" fill="#80ee31"/><rect x="424" y="293" width="3.3" height="3.3" fill="#84ee32"/><rect x="427" y="293" width="3.3" height="3.3" fill="#86ee32"/><rect x="430" y="293" width="3.3" height="3.3" fill="#88ee33"/><rect x="433" y="293" width="3.3" height="3.3" fill="#8aee33"/><rect x="436" y="293" width="3.3" height="3.3" fill="#8bee34"/><rect x="439" y="293" width="3.3" height="3.3" fill="#8dee34"/><rect x="442" y="293" width="3.3" height="3.3" fill="#8fee35"/><rect x="445" y="293" width="3.3" height="3.3" fill="#92ee36"/><rect x="448" y="293" width="3.3" height="3.3" fill="#96ed37"/><rect x="451" y="293" width="3.3" height="3.3" fill="#9bed38"/><rect x="454" y="293" width="3.3" height="3.3" fill="#a2ee3a"/><rect x="457" y="293" width="3.3" height="3.3" fill="#abee3c"/><rect x="460" y="293" width="3.3" height="3.3" fill="#b5ee3d"/><rect x="463" y="293" width="3.3" height="3.3" fill="#bfee3f"/><rect x="466" y="293" width="3.3" height="3.3" fill="#c8ef40"/><rect x="469" y="293" width="3.3" height="3.3" fill="#cfef41"/><rect x="472" y="293" width="3.3" height="3.3" fill="#d5ef42"/><rect x="475" y="293" width="3.3" height="3.3" fill="#daef43"/><rect x="478" y="293" width="3.3" height="3.3" fill="#dfef45"/><rect x="481" y="293" width="3.3" height="3.3" fill="#e3ee46"/><rect x="484" y="293" width="3.3" height="3.3" fill="#e6ed47"/><rect x="487" y="293" width="3.3" height="3.3" fill="#e9ec47"/><rect x="490" y="293" width="3.3" height="3.3" fill="#ecea47"/><rect x="493" y="293" width="3.3" height="3.3" fill="#efe847"/><rect x="496" y="293" width="3.3" height="3.3" fill="#f0e546"/><rect x="499" y="293" width="3.3" height="3.3" fill="#f2e245"/><rect x="502" y="293" width="3.3" height="3.3" fill="#f3dd43"/><rect x="505" y="293" width="3.3" height="3.3" fill="#f5d941"/><rect x="508" y="293" width="3.3" height="3.3" fill="#f5d43f"/><rect x="511" y="293" width="3.3" height="3.3" fill="#f6cf3d"/><rect x="514" y="293" width="3.3" height="3.3" fill="#f7ca3b"/><rect x="517" y="293" width="3.3" height="3.3" fill="#f7c53a"/><rect x="520" y="293" width="3.3" height="3.3" fill="#f7bf38"/><rect x="523" y="293" width="3.3" height="3.3" fill="#f8ba37"/><rect x="526" y="293" width="3.3" height="3.3" fill="#f8b536"/><rect x="529" y="293" width="3.3" height="3.3" fill="#f7ae35"/><rect x="532" y="293" width="3.3" height="3.3" fill="#f6a836"/><rect x="535" y="293" width="3.3" height="3.3" fill="#f2a13b"/><rect x="538" y="293" width="3.3" height="3.3" fill="#e59e4d"/><rect x="541" y="293" width="3.3" height="3.3" fill="#cca471"/><rect x="358" y="296" width="3.3" height="3.3" fill="#61eb39"/><rect x="361" y="296" width="3.3" height="3.3" fill="#62eb37"/><rect x="364" y="296" width="3.3" height="3.3" fill="#62ec36"/><rect x="367" y="296" width="3.3" height="3.3" fill="#63ec35"/><rect x="370" y="296" width="3.3" height="3.3" fill="#63ec34"/><rect x="373" y="296" width="3.3" height="3.3" fill="#64ec33"/><rect x="376" y="296" width="3.3" height="3.3" fill="#65ec32"/><rect x="379" y="296" width="3.3" height="3.3" fill="#67ed31"/><rect x="382" y="296" width="3.3" height="3.3" fill="#68ed30"/><rect x="385" y="296" width="3.3" height="3.3" fill="#69ed30"/><rect x="388" y="296" width="3.3" height="3.3" fill="#6aee2f"/><rect x="391" y="296" width="3.3" height="3.3" fill="#6aee2f"/><rect x="394" y="296" width="3.3" height="3.3" fill="#6bee2f"/><rect x="397" y="296" width="3.3" height="3.3" fill="#6bee2f"/><rect x="400" y="296" width="3.3" height="3.3" fill="#6cee30"/><rect x="403" y="296" width="3.3" height="3.3" fill="#6dee30"/><rect x="406" y="296" width="3.3" height="3.3" fill="#6eee31"/><rect x="409" y="296" width="3.3" height="3.3" fill="#71ed32"/><rect x="412" y="296" width="3.3" height="3.3" fill="#75ed33"/><rect x="415" y="296" width="3.3" height="3.3" fill="#7aed34"/><rect x="418" y="296" width="3.3" height="3.3" fill="#7fed34"/><rect x="421" y="296" width="3.3" height="3.3" fill="#83ee34"/><rect x="424" y="296" width="3.3" height="3.3" fill="#86ee33"/><rect x="427" y="296" width="3.3" height="3.3" fill="#89ee33"/><rect x="430" y="296" width="3.3" height="3.3" fill="#8bee34"/><rect x="433" y="296" width="3.3" height="3.3" fill="#8cee34"/><rect x="436" y="296" width="3.3" height="3.3" fill="#8eee35"/><rect x="439" y="296" width="3.3" height="3.3" fill="#91ee36"/><rect x="442" y="296" width="3.3" height="3.3" fill="#94ed37"/><rect x="445" y="296" width="3.3" height="3.3" fill="#97ed38"/><rect x="448" y="296" width="3.3" height="3.3" fill="#9ced39"/><rect x="451" y="296" width="3.3" height="3.3" fill="#a2ed3b"/><rect x="454" y="296" width="3.3" height="3.3" fill="#aaee3c"/><rect x="457" y="296" width="3.3" height="3.3" fill="#b3ee3e"/><rect x="460" y="296" width="3.3" height="3.3" fill="#bcee3f"/><rect x="463" y="296" width="3.3" height="3.3" fill="#c5ef40"/><rect x="466" y="296" width="3.3" height="3.3" fill="#cdef41"/><rect x="469" y="296" width="3.3" height="3.3" fill="#d3ef42"/><rect x="472" y="296" width="3.3" height="3.3" fill="#d8ef43"/><rect x="475" y="296" width="3.3" height="3.3" fill="#ddef44"/><rect x="478" y="296" width="3.3" height="3.3" fill="#e1ee45"/><rect x="481" y="296" width="3.3" height="3.3" fill="#e5ed46"/><rect x="484" y="296" width="3.3" height="3.3" fill="#e8ec47"/><rect x="487" y="296" width="3.3" height="3.3" fill="#ebeb47"/><rect x="490" y="296" width="3.3" height="3.3" fill="#eee947"/><rect x="493" y="296" width="3.3" height="3.3" fill="#f0e646"/><rect x="496" y="296" width="3.3" height="3.3" fill="#f2e245"/><rect x="499" y="296" width="3.3" height="3.3" fill="#f3de43"/><rect x="502" y="296" width="3.3" height="3.3" fill="#f4d941"/><rect x="505" y="296" width="3.3" height="3.3" fill="#f5d43f"/><rect x="508" y="296" width="3.3" height="3.3" fill="#f6cf3d"/><rect x="511" y="296" width="3.3" height="3.3" fill="#f7ca3b"/><rect x="514" y="296" width="3.3" height="3.3" fill="#f7c53a"/><rect x="517" y="296" width="3.3" height="3.3" fill="#f7c038"/><rect x="520" y="296" width="3.3" height="3.3" fill="#f8ba37"/><rect x="523" y="296" width="3.3" height="3.3" fill="#f8b536"/><rect x="526" y="296" width="3.3" height="3.3" fill="#f8ae35"/><rect x="529" y="296" width="3.3" height="3.3" fill="#f7a834"/><rect x="532" y="296" width="3.3" height="3.3" fill="#f7a033"/><rect x="535" y="296" width="3.3" height="3.3" fill="#f69834"/><rect x="538" y="296" width="3.3" height="3.3" fill="#f29038"/><rect x="541" y="296" width="3.3" height="3.3" fill="#e68e49"/><rect x="358" y="299" width="3.3" height="3.3" fill="#5feb40"/><rect x="361" y="299" width="3.3" height="3.3" fill="#60eb3e"/><rect x="364" y="299" width="3.3" height="3.3" fill="#60eb3c"/><rect x="367" y="299" width="3.3" height="3.3" fill="#61eb3b"/><rect x="370" y="299" width="3.3" height="3.3" fill="#62eb39"/><rect x="373" y="299" width="3.3" height="3.3" fill="#64ec37"/><rect x="376" y="299" width="3.3" height="3.3" fill="#65ec35"/><rect x="379" y="299" width="3.3" height="3.3" fill="#67ed34"/><rect x="382" y="299" width="3.3" height="3.3" fill="#69ed32"/><rect x="385" y="299" width="3.3" height="3.3" fill="#6aed31"/><rect x="388" y="299" width="3.3" height="3.3" fill="#6bed31"/><rect x="391" y="299" width="3.3" height="3.3" fill="#6bee30"/><rect x="394" y="299" width="3.3" height="3.3" fill="#6cee30"/><rect x="397" y="299" width="3.3" height="3.3" fill="#6dee31"/><rect x="400" y="299" width="3.3" height="3.3" fill="#6eed31"/><rect x="403" y="299" width="3.3" height="3.3" fill="#70ed32"/><rect x="406" y="299" width="3.3" height="3.3" fill="#72ed34"/><rect x="409" y="299" width="3.3" height="3.3" fill="#75ed36"/><rect x="412" y="299" width="3.3" height="3.3" fill="#79ed37"/><rect x="415" y="299" width="3.3" height="3.3" fill="#7ded38"/><rect x="418" y="299" width="3.3" height="3.3" fill="#82ed38"/><rect x="421" y="299" width="3.3" height="3.3" fill="#85ed37"/><rect x="424" y="299" width="3.3" height="3.3" fill="#89ed36"/><rect x="427" y="299" width="3.3" height="3.3" fill="#8bee35"/><rect x="430" y="299" width="3.3" height="3.3" fill="#8dee35"/><rect x="433" y="299" width="3.3" height="3.3" fill="#90ee36"/><rect x="436" y="299" width="3.3" height="3.3" fill="#92ed36"/><rect x="439" y="299" width="3.3" height="3.3" fill="#95ed37"/><rect x="442" y="299" width="3.3" height="3.3" fill="#99ed39"/><rect x="445" y="299" width="3.3" height="3.3" fill="#9ded3a"/><rect x="448" y="299" width="3.3" height="3.3" fill="#a3ed3b"/><rect x="451" y="299" width="3.3" height="3.3" fill="#aaed3d"/><rect x="454" y="299" width="3.3" height="3.3" fill="#b1ee3e"/><rect x="457" y="299" width="3.3" height="3.3" fill="#baee3f"/><rect x="460" y="299" width="3.3" height="3.3" fill="#c2ee40"/><rect x="463" y="299" width="3.3" height="3.3" fill="#caef41"/><rect x="466" y="299" width="3.3" height="3.3" fill="#d0ef42"/><rect x="469" y="299" width="3.3" height="3.3" fill="#d6ef43"/><rect x="472" y="299" width="3.3" height="3.3" fill="#dbef44"/><rect x="475" y="299" width="3.3" height="3.3" fill="#dfee45"/><rect x="478" y="299" width="3.3" height="3.3" fill="#e3ee46"/><rect x="481" y="299" width="3.3" height="3.3" fill="#e7ed47"/><rect x="484" y="299" width="3.3" height="3.3" fill="#eaeb47"/><rect x="487" y="299" width="3.3" height="3.3" fill="#ede947"/><rect x="490" y="299" width="3.3" height="3.3" fill="#efe646"/><rect x="493" y="299" width="3.3" height="3.3" fill="#f1e345"/><rect x="496" y="299" width="3.3" height="3.3" fill="#f3df44"/><rect x="499" y="299" width="3.3" height="3.3" fill="#f4da42"/><rect x="502" y="299" width="3.3" height="3.3" fill="#f5d540"/><rect x="505" y="299" width="3.3" height="3.3" fill="#f6d03e"/><rect x="508" y="299" width="3.3" height="3.3" fill="#f7ca3c"/><rect x="511" y="299" width="3.3" height="3.3" fill="#f7c53a"/><rect x="514" y="299" width="3.3" height="3.3" fill="#f7c038"/><rect x="517" y="299" width="3.3" height="3.3" fill="#f8ba37"/><rect x="520" y="299" width="3.3" height="3.3" fill="#f8b536"/><rect x="523" y="299" width="3.3" height="3.3" fill="#f8ae35"/><rect x="526" y="299" width="3.3" height="3.3" fill="#f8a834"/><rect x="529" y="299" width="3.3" height="3.3" fill="#f7a033"/><rect x="532" y="299" width="3.3" height="3.3" fill="#f79832"/><rect x="535" y="299" width="3.3" height="3.3" fill="#f68e32"/><rect x="538" y="299" width="3.3" height="3.3" fill="#f58532"/><rect x="541" y="299" width="3.3" height="3.3" fill="#f17d36"/><rect x="358" y="302" width="3.3" height="3.3" fill="#5dea45"/><rect x="361" y="302" width="3.3" height="3.3" fill="#5eea44"/><rect x="364" y="302" width="3.3" height="3.3" fill="#5feb42"/><rect x="367" y="302" width="3.3" height="3.3" fill="#60eb41"/><rect x="370" y="302" width="3.3" height="3.3" fill="#61eb3f"/><rect x="373" y="302" width="3.3" height="3.3" fill="#63eb3d"/><rect x="376" y="302" width="3.3" height="3.3" fill="#65ec3a"/><rect x="379" y="302" width="3.3" height="3.3" fill="#68ec38"/><rect x="382" y="302" width="3.3" height="3.3" fill="#6aed36"/><rect x="385" y="302" width="3.3" height="3.3" fill="#6ced34"/><rect x="388" y="302" width="3.3" height="3.3" fill="#6ded33"/><rect x="391" y="302" width="3.3" height="3.3" fill="#6ded33"/><rect x="394" y="302" width="3.3" height="3.3" fill="#6eed33"/><rect x="397" y="302" width="3.3" height="3.3" fill="#70ed34"/><rect x="400" y="302" width="3.3" height="3.3" fill="#71ed35"/><rect x="403" y="302" width="3.3" height="3.3" fill="#74ed36"/><rect x="406" y="302" width="3.3" height="3.3" fill="#77ed38"/><rect x="409" y="302" width="3.3" height="3.3" fill="#7aed3a"/><rect x="412" y="302" width="3.3" height="3.3" fill="#7dec3c"/><rect x="415" y="302" width="3.3" height="3.3" fill="#81ec3c"/><rect x="418" y="302" width="3.3" height="3.3" fill="#84ed3c"/><rect x="421" y="302" width="3.3" height="3.3" fill="#87ed3b"/><rect x="424" y="302" width="3.3" height="3.3" fill="#8aed39"/><rect x="427" y="302" width="3.3" height="3.3" fill="#8ded37"/><rect x="430" y="302" width="3.3" height="3.3" fill="#90ed37"/><rect x="433" y="302" width="3.3" height="3.3" fill="#94ed38"/><rect x="436" y="302" width="3.3" height="3.3" fill="#97ed38"/><rect x="439" y="302" width="3.3" height="3.3" fill="#9aed3a"/><rect x="442" y="302" width="3.3" height="3.3" fill="#9fed3b"/><rect x="445" y="302" width="3.3" height="3.3" fill="#a3ed3c"/><rect x="448" y="302" width="3.3" height="3.3" fill="#a9ed3d"/><rect x="451" y="302" width="3.3" height="3.3" fill="#b0ed3e"/><rect x="454" y="302" width="3.3" height="3.3" fill="#b7ee3f"/><rect x="457" y="302" width="3.3" height="3.3" fill="#bfee40"/><rect x="460" y="302" width="3.3" height="3.3" fill="#c7ef41"/><rect x="463" y="302" width="3.3" height="3.3" fill="#ceef42"/><rect x="466" y="302" width="3.3" height="3.3" fill="#d4ef43"/><rect x="469" y="302" width="3.3" height="3.3" fill="#d9ef43"/><rect x="472" y="302" width="3.3" height="3.3" fill="#deef45"/><rect x="475" y="302" width="3.3" height="3.3" fill="#e2ee46"/><rect x="478" y="302" width="3.3" height="3.3" fill="#e6ed46"/><rect x="481" y="302" width="3.3" height="3.3" fill="#e9ec47"/><rect x="484" y="302" width="3.3" height="3.3" fill="#ecea47"/><rect x="487" y="302" width="3.3" height="3.3" fill="#efe747"/><rect x="490" y="302" width="3.3" height="3.3" fill="#f1e446"/><rect x="493" y="302" width="3.3" height="3.3" fill="#f2e044"/><rect x="496" y="302" width="3.3" height="3.3" fill="#f4db42"/><rect x="499" y="302" width="3.3" height="3.3" fill="#f5d640"/><rect x="502" y="302" width="3.3" height="3.3" fill="#f6d03e"/><rect x="505" y="302" width="3.3" height="3.3" fill="#f6cb3c"/><rect x="508" y="302" width="3.3" height="3.3" fill="#f7c53a"/><rect x="511" y="302" width="3.3" height="3.3" fill="#f7c038"/><rect x="514" y="302" width="3.3" height="3.3" fill="#f8ba37"/><rect x="517" y="302" width="3.3" height="3.3" fill="#f8b536"/><rect x="520" y="302" width="3.3" height="3.3" fill="#f8ae35"/><rect x="523" y="302" width="3.3" height="3.3" fill="#f8a834"/><rect x="526" y="302" width="3.3" height="3.3" fill="#f7a033"/><rect x="529" y="302" width="3.3" height="3.3" fill="#f79832"/><rect x="532" y="302" width="3.3" height="3.3" fill="#f78f31"/><rect x="535" y="302" width="3.3" height="3.3" fill="#f68531"/><rect x="538" y="302" width="3.3" height="3.3" fill="#f57b30"/><rect x="541" y="302" width="3.3" height="3.3" fill="#f47330"/><rect x="358" y="305" width="3.3" height="3.3" fill="#5dea47"/><rect x="361" y="305" width="3.3" height="3.3" fill="#5dea46"/><rect x="364" y="305" width="3.3" height="3.3" fill="#5eea46"/><rect x="367" y="305" width="3.3" height="3.3" fill="#5fea44"/><rect x="370" y="305" width="3.3" height="3.3" fill="#60eb43"/><rect x="373" y="305" width="3.3" height="3.3" fill="#63eb41"/><rect x="376" y="305" width="3.3" height="3.3" fill="#66eb3e"/><rect x="379" y="305" width="3.3" height="3.3" fill="#69ec3c"/><rect x="382" y="305" width="3.3" height="3.3" fill="#6cec3a"/><rect x="385" y="305" width="3.3" height="3.3" fill="#6dec38"/><rect x="388" y="305" width="3.3" height="3.3" fill="#6fec37"/><rect x="391" y="305" width="3.3" height="3.3" fill="#70ec37"/><rect x="394" y="305" width="3.3" height="3.3" fill="#72ec37"/><rect x="397" y="305" width="3.3" height="3.3" fill="#73ec38"/><rect x="400" y="305" width="3.3" height="3.3" fill="#76ec39"/><rect x="403" y="305" width="3.3" height="3.3" fill="#78ec3a"/><rect x="406" y="305" width="3.3" height="3.3" fill="#7bec3c"/><rect x="409" y="305" width="3.3" height="3.3" fill="#7eec3e"/><rect x="412" y="305" width="3.3" height="3.3" fill="#81ec3f"/><rect x="415" y="305" width="3.3" height="3.3" fill="#83ec40"/><rect x="418" y="305" width="3.3" height="3.3" fill="#85ec40"/><rect x="421" y="305" width="3.3" height="3.3" fill="#88ed3f"/><rect x="424" y="305" width="3.3" height="3.3" fill="#8bed3d"/><rect x="427" y="305" width="3.3" height="3.3" fill="#90ed3b"/><rect x="430" y="305" width="3.3" height="3.3" fill="#94ed3a"/><rect x="433" y="305" width="3.3" height="3.3" fill="#98ed3a"/><rect x="436" y="305" width="3.3" height="3.3" fill="#9ced3b"/><rect x="439" y="305" width="3.3" height="3.3" fill="#a0ed3c"/><rect x="442" y="305" width="3.3" height="3.3" fill="#a4ed3d"/><rect x="445" y="305" width="3.3" height="3.3" fill="#a9ed3e"/><rect x="448" y="305" width="3.3" height="3.3" fill="#aeed3f"/><rect x="451" y="305" width="3.3" height="3.3" fill="#b5ee3f"/><rect x="454" y="305" width="3.3" height="3.3" fill="#bcee40"/><rect x="457" y="305" width="3.3" height="3.3" fill="#c4ee41"/><rect x="460" y="305" width="3.3" height="3.3" fill="#cbef42"/><rect x="463" y="305" width="3.3" height="3.3" fill="#d1ef42"/><rect x="466" y="305" width="3.3" height="3.3" fill="#d7ef43"/><rect x="469" y="305" width="3.3" height="3.3" fill="#dcef44"/><rect x="472" y="305" width="3.3" height="3.3" fill="#e0ee45"/><rect x="475" y="305" width="3.3" height="3.3" fill="#e4ed46"/><rect x="478" y="305" width="3.3" height="3.3" fill="#e8ec47"/><rect x="481" y="305" width="3.3" height="3.3" fill="#ebea47"/><rect x="484" y="305" width="3.3" height="3.3" fill="#eee847"/><rect x="487" y="305" width="3.3" height="3.3" fill="#f0e446"/><rect x="490" y="305" width="3.3" height="3.3" fill="#f2e044"/><rect x="493" y="305" width="3.3" height="3.3" fill="#f3db42"/><rect x="496" y="305" width="3.3" height="3.3" fill="#f5d640"/><rect x="499" y="305" width="3.3" height="3.3" fill="#f6d13e"/><rect x="502" y="305" width="3.3" height="3.3" fill="#f6cb3c"/><rect x="505" y="305" width="3.3" height="3.3" fill="#f7c63a"/><rect x="508" y="305" width="3.3" height="3.3" fill="#f7c039"/><rect x="511" y="305" width="3.3" height="3.3" fill="#f7bb37"/><rect x="514" y="305" width="3.3" height="3.3" fill="#f8b536"/><rect x="517" y="305" width="3.3" height="3.3" fill="#f8ae35"/><rect x="520" y="305" width="3.3" height="3.3" fill="#f8a834"/><rect x="523" y="305" width="3.3" height="3.3" fill="#f7a033"/><rect x="526" y="305" width="3.3" height="3.3" fill="#f79832"/><rect x="529" y="305" width="3.3" height="3.3" fill="#f78f31"/><rect x="532" y="305" width="3.3" height="3.3" fill="#f68630"/><rect x="535" y="305" width="3.3" height="3.3" fill="#f57c30"/><rect x="538" y="305" width="3.3" height="3.3" fill="#f4732f"/><rect x="541" y="305" width="3.3" height="3.3" fill="#f46c2f"/><rect x="358" y="308" width="3.3" height="3.3" fill="#5cea48"/><rect x="361" y="308" width="3.3" height="3.3" fill="#5dea48"/><rect x="364" y="308" width="3.3" height="3.3" fill="#5dea47"/><rect x="367" y="308" width="3.3" height="3.3" fill="#5fea46"/><rect x="370" y="308" width="3.3" height="3.3" fill="#60ea45"/><rect x="373" y="308" width="3.3" height="3.3" fill="#63eb43"/><rect x="376" y="308" width="3.3" height="3.3" fill="#66eb40"/><rect x="379" y="308" width="3.3" height="3.3" fill="#6aeb3e"/><rect x="382" y="308" width="3.3" height="3.3" fill="#6dec3c"/><rect x="385" y="308" width="3.3" height="3.3" fill="#6fec3b"/><rect x="388" y="308" width="3.3" height="3.3" fill="#71ec3b"/><rect x="391" y="308" width="3.3" height="3.3" fill="#73ec3b"/><rect x="394" y="308" width="3.3" height="3.3" fill="#74ec3b"/><rect x="397" y="308" width="3.3" height="3.3" fill="#77ec3b"/><rect x="400" y="308" width="3.3" height="3.3" fill="#79ec3c"/><rect x="403" y="308" width="3.3" height="3.3" fill="#7cec3e"/><rect x="406" y="308" width="3.3" height="3.3" fill="#7fec3f"/><rect x="409" y="308" width="3.3" height="3.3" fill="#81ec40"/><rect x="412" y="308" width="3.3" height="3.3" fill="#83ec42"/><rect x="415" y="308" width="3.3" height="3.3" fill="#85ec43"/><rect x="418" y="308" width="3.3" height="3.3" fill="#87ec43"/><rect x="421" y="308" width="3.3" height="3.3" fill="#89ec43"/><rect x="424" y="308" width="3.3" height="3.3" fill="#8ced42"/><rect x="427" y="308" width="3.3" height="3.3" fill="#91ed40"/><rect x="430" y="308" width="3.3" height="3.3" fill="#97ed3e"/><rect x="433" y="308" width="3.3" height="3.3" fill="#9ced3d"/><rect x="436" y="308" width="3.3" height="3.3" fill="#a1ed3d"/><rect x="439" y="308" width="3.3" height="3.3" fill="#a5ed3e"/><rect x="442" y="308" width="3.3" height="3.3" fill="#a9ed3f"/><rect x="445" y="308" width="3.3" height="3.3" fill="#aeed3f"/><rect x="448" y="308" width="3.3" height="3.3" fill="#b3ed40"/><rect x="451" y="308" width="3.3" height="3.3" fill="#baee41"/><rect x="454" y="308" width="3.3" height="3.3" fill="#c1ee41"/><rect x="457" y="308" width="3.3" height="3.3" fill="#c8ee42"/><rect x="460" y="308" width="3.3" height="3.3" fill="#ceef43"/><rect x="463" y="308" width="3.3" height="3.3" fill="#d4ef44"/><rect x="466" y="308" width="3.3" height="3.3" fill="#daef44"/><rect x="469" y="308" width="3.3" height="3.3" fill="#dfee45"/><rect x="472" y="308" width="3.3" height="3.3" fill="#e3ee46"/><rect x="475" y="308" width="3.3" height="3.3" fill="#e7ec47"/><rect x="478" y="308" width="3.3" height="3.3" fill="#eaeb47"/><rect x="481" y="308" width="3.3" height="3.3" fill="#ede847"/><rect x="484" y="308" width="3.3" height="3.3" fill="#f0e546"/><rect x="487" y="308" width="3.3" height="3.3" fill="#f2e145"/><rect x="490" y="308" width="3.3" height="3.3" fill="#f3dc43"/><rect x="493" y="308" width="3.3" height="3.3" fill="#f4d741"/><rect x="496" y="308" width="3.3" height="3.3" fill="#f5d13e"/><rect x="499" y="308" width="3.3" height="3.3" fill="#f6cc3c"/><rect x="502" y="308" width="3.3" height="3.3" fill="#f7c63a"/><rect x="505" y="308" width="3.3" height="3.3" fill="#f7c039"/><rect x="508" y="308" width="3.3" height="3.3" fill="#f7bb37"/><rect x="511" y="308" width="3.3" height="3.3" fill="#f8b536"/><rect x="514" y="308" width="3.3" height="3.3" fill="#f8ae35"/><rect x="517" y="308" width="3.3" height="3.3" fill="#f8a834"/><rect x="520" y="308" width="3.3" height="3.3" fill="#f7a133"/><rect x="523" y="308" width="3.3" height="3.3" fill="#f79932"/><rect x="526" y="308" width="3.3" height="3.3" fill="#f79031"/><rect x="529" y="308" width="3.3" height="3.3" fill="#f68630"/><rect x="532" y="308" width="3.3" height="3.3" fill="#f57d30"/><rect x="535" y="308" width="3.3" height="3.3" fill="#f5742f"/><rect x="538" y="308" width="3.3" height="3.3" fill="#f46c2f"/><rect x="541" y="308" width="3.3" height="3.3" fill="#f3662f"/><rect x="358" y="311" width="3.3" height="3.3" fill="#5cea49"/><rect x="361" y="311" width="3.3" height="3.3" fill="#5dea48"/><rect x="364" y="311" width="3.3" height="3.3" fill="#5eea48"/><rect x="367" y="311" width="3.3" height="3.3" fill="#5fea47"/><rect x="370" y="311" width="3.3" height="3.3" fill="#61ea46"/><rect x="373" y="311" width="3.3" height="3.3" fill="#64eb44"/><rect x="376" y="311" width="3.3" height="3.3" fill="#67eb41"/><rect x="379" y="311" width="3.3" height="3.3" fill="#6aeb3f"/><rect x="382" y="311" width="3.3" height="3.3" fill="#6deb3e"/><rect x="385" y="311" width="3.3" height="3.3" fill="#70ec3d"/><rect x="388" y="311" width="3.3" height="3.3" fill="#72eb3d"/><rect x="391" y="311" width="3.3" height="3.3" fill="#74eb3d"/><rect x="394" y="311" width="3.3" height="3.3" fill="#76eb3d"/><rect x="397" y="311" width="3.3" height="3.3" fill="#79eb3e"/><rect x="400" y="311" width="3.3" height="3.3" fill="#7beb3f"/><rect x="403" y="311" width="3.3" height="3.3" fill="#7eeb40"/><rect x="406" y="311" width="3.3" height="3.3" fill="#81ec42"/><rect x="409" y="311" width="3.3" height="3.3" fill="#83ec43"/><rect x="412" y="311" width="3.3" height="3.3" fill="#85ec44"/><rect x="415" y="311" width="3.3" height="3.3" fill="#87ec46"/><rect x="418" y="311" width="3.3" height="3.3" fill="#89ec47"/><rect x="421" y="311" width="3.3" height="3.3" fill="#8bed47"/><rect x="424" y="311" width="3.3" height="3.3" fill="#8eed47"/><rect x="427" y="311" width="3.3" height="3.3" fill="#93ed46"/><rect x="430" y="311" width="3.3" height="3.3" fill="#9aed43"/><rect x="433" y="311" width="3.3" height="3.3" fill="#a0ed41"/><rect x="436" y="311" width="3.3" height="3.3" fill="#a5ed40"/><rect x="439" y="311" width="3.3" height="3.3" fill="#a9ed40"/><rect x="442" y="311" width="3.3" height="3.3" fill="#aded41"/><rect x="445" y="311" width="3.3" height="3.3" fill="#b2ed41"/><rect x="448" y="311" width="3.3" height="3.3" fill="#b8ee42"/><rect x="451" y="311" width="3.3" height="3.3" fill="#beee43"/><rect x="454" y="311" width="3.3" height="3.3" fill="#c5ee43"/><rect x="457" y="311" width="3.3" height="3.3" fill="#ccef44"/><rect x="460" y="311" width="3.3" height="3.3" fill="#d2ef44"/><rect x="463" y="311" width="3.3" height="3.3" fill="#d8ef45"/><rect x="466" y="311" width="3.3" height="3.3" fill="#ddee46"/><rect x="469" y="311" width="3.3" height="3.3" fill="#e1ee47"/><rect x="472" y="311" width="3.3" height="3.3" fill="#e6ed47"/><rect x="475" y="311" width="3.3" height="3.3" fill="#e9eb47"/><rect x="478" y="311" width="3.3" height="3.3" fill="#ece947"/><rect x="481" y="311" width="3.3" height="3.3" fill="#efe646"/><rect x="484" y="311" width="3.3" height="3.3" fill="#f1e245"/><rect x="487" y="311" width="3.3" height="3.3" fill="#f3dd43"/><rect x="490" y="311" width="3.3" height="3.3" fill="#f4d841"/><rect x="493" y="311" width="3.3" height="3.3" fill="#f5d23f"/><rect x="496" y="311" width="3.3" height="3.3" fill="#f6cc3d"/><rect x="499" y="311" width="3.3" height="3.3" fill="#f7c63b"/><rect x="502" y="311" width="3.3" height="3.3" fill="#f7c139"/><rect x="505" y="311" width="3.3" height="3.3" fill="#f7bb37"/><rect x="508" y="311" width="3.3" height="3.3" fill="#f8b536"/><rect x="511" y="311" width="3.3" height="3.3" fill="#f8ae35"/><rect x="514" y="311" width="3.3" height="3.3" fill="#f8a834"/><rect x="517" y="311" width="3.3" height="3.3" fill="#f7a133"/><rect x="520" y="311" width="3.3" height="3.3" fill="#f79932"/><rect x="523" y="311" width="3.3" height="3.3" fill="#f79031"/><rect x="526" y="311" width="3.3" height="3.3" fill="#f68731"/><rect x="529" y="311" width="3.3" height="3.3" fill="#f57d30"/><rect x="532" y="311" width="3.3" height="3.3" fill="#f5752f"/><rect x="535" y="311" width="3.3" height="3.3" fill="#f46d2f"/><rect x="538" y="311" width="3.3" height="3.3" fill="#f3672f"/><rect x="541" y="311" width="3.3" height="3.3" fill="#f3622e"/><rect x="358" y="314" width="3.3" height="3.3" fill="#5cea4a"/><rect x="361" y="314" width="3.3" height="3.3" fill="#5dea4a"/><rect x="364" y="314" width="3.3" height="3.3" fill="#5eea49"/><rect x="367" y="314" width="3.3" height="3.3" fill="#5fea48"/><rect x="370" y="314" width="3.3" height="3.3" fill="#61ea47"/><rect x="373" y="314" width="3.3" height="3.3" fill="#64eb45"/><rect x="376" y="314" width="3.3" height="3.3" fill="#68eb42"/><rect x="379" y="314" width="3.3" height="3.3" fill="#6beb40"/><rect x="382" y="314" width="3.3" height="3.3" fill="#6eeb3e"/><rect x="385" y="314" width="3.3" height="3.3" fill="#70eb3e"/><rect x="388" y="314" width="3.3" height="3.3" fill="#72eb3e"/><rect x="391" y="314" width="3.3" height="3.3" fill="#75eb3e"/><rect x="394" y="314" width="3.3" height="3.3" fill="#77eb3f"/><rect x="397" y="314" width="3.3" height="3.3" fill="#7aeb3f"/><rect x="400" y="314" width="3.3" height="3.3" fill="#7ceb41"/><rect x="403" y="314" width="3.3" height="3.3" fill="#7feb42"/><rect x="406" y="314" width="3.3" height="3.3" fill="#82ec44"/><rect x="409" y="314" width="3.3" height="3.3" fill="#85ec46"/><rect x="412" y="314" width="3.3" height="3.3" fill="#87ec48"/><rect x="415" y="314" width="3.3" height="3.3" fill="#89ec49"/><rect x="418" y="314" width="3.3" height="3.3" fill="#8bed4b"/><rect x="421" y="314" width="3.3" height="3.3" fill="#8eed4d"/><rect x="424" y="314" width="3.3" height="3.3" fill="#91ed4e"/><rect x="427" y="314" width="3.3" height="3.3" fill="#96ed4d"/><rect x="430" y="314" width="3.3" height="3.3" fill="#9ded4b"/><rect x="433" y="314" width="3.3" height="3.3" fill="#a4ed48"/><rect x="436" y="314" width="3.3" height="3.3" fill="#a9ed46"/><rect x="439" y="314" width="3.3" height="3.3" fill="#aeed45"/><rect x="442" y="314" width="3.3" height="3.3" fill="#b3ed45"/><rect x="445" y="314" width="3.3" height="3.3" fill="#b8ee45"/><rect x="448" y="314" width="3.3" height="3.3" fill="#beee45"/><rect x="451" y="314" width="3.3" height="3.3" fill="#c4ee46"/><rect x="454" y="314" width="3.3" height="3.3" fill="#cbef46"/><rect x="457" y="314" width="3.3" height="3.3" fill="#d1ef47"/><rect x="460" y="314" width="3.3" height="3.3" fill="#d7ef47"/><rect x="463" y="314" width="3.3" height="3.3" fill="#dcef48"/><rect x="466" y="314" width="3.3" height="3.3" fill="#e0ee48"/><rect x="469" y="314" width="3.3" height="3.3" fill="#e4ed48"/><rect x="472" y="314" width="3.3" height="3.3" fill="#e8ec48"/><rect x="475" y="314" width="3.3" height="3.3" fill="#ebe948"/><rect x="478" y="314" width="3.3" height="3.3" fill="#eee647"/><rect x="481" y="314" width="3.3" height="3.3" fill="#f1e346"/><rect x="484" y="314" width="3.3" height="3.3" fill="#f2de44"/><rect x="487" y="314" width="3.3" height="3.3" fill="#f4d941"/><rect x="490" y="314" width="3.3" height="3.3" fill="#f5d33f"/><rect x="493" y="314" width="3.3" height="3.3" fill="#f6cd3d"/><rect x="496" y="314" width="3.3" height="3.3" fill="#f7c73b"/><rect x="499" y="314" width="3.3" height="3.3" fill="#f7c139"/><rect x="502" y="314" width="3.3" height="3.3" fill="#f7bb37"/><rect x="505" y="314" width="3.3" height="3.3" fill="#f8b536"/><rect x="508" y="314" width="3.3" height="3.3" fill="#f8ae35"/><rect x="511" y="314" width="3.3" height="3.3" fill="#f8a834"/><rect x="514" y="314" width="3.3" height="3.3" fill="#f7a133"/><rect x="517" y="314" width="3.3" height="3.3" fill="#f79932"/><rect x="520" y="314" width="3.3" height="3.3" fill="#f79131"/><rect x="523" y="314" width="3.3" height="3.3" fill="#f68831"/><rect x="526" y="314" width="3.3" height="3.3" fill="#f57e30"/><rect x="529" y="314" width="3.3" height="3.3" fill="#f5752f"/><rect x="532" y="314" width="3.3" height="3.3" fill="#f46e2f"/><rect x="535" y="314" width="3.3" height="3.3" fill="#f3672f"/><rect x="538" y="314" width="3.3" height="3.3" fill="#f3632e"/><rect x="541" y="314" width="3.3" height="3.3" fill="#f35f2e"/><rect x="358" y="317" width="3.3" height="3.3" fill="#5dea4d"/><rect x="361" y="317" width="3.3" height="3.3" fill="#5dea4c"/><rect x="364" y="317" width="3.3" height="3.3" fill="#5eea4c"/><rect x="367" y="317" width="3.3" height="3.3" fill="#5fea4b"/><rect x="370" y="317" width="3.3" height="3.3" fill="#62ea49"/><rect x="373" y="317" width="3.3" height="3.3" fill="#65ea46"/><rect x="376" y="317" width="3.3" height="3.3" fill="#68eb43"/><rect x="379" y="317" width="3.3" height="3.3" fill="#6beb41"/><rect x="382" y="317" width="3.3" height="3.3" fill="#6eeb3f"/><rect x="385" y="317" width="3.3" height="3.3" fill="#71eb3e"/><rect x="388" y="317" width="3.3" height="3.3" fill="#73eb3e"/><rect x="391" y="317" width="3.3" height="3.3" fill="#75eb3f"/><rect x="394" y="317" width="3.3" height="3.3" fill="#77eb3f"/><rect x="397" y="317" width="3.3" height="3.3" fill="#7aeb40"/><rect x="400" y="317" width="3.3" height="3.3" fill="#7deb42"/><rect x="403" y="317" width="3.3" height="3.3" fill="#80eb44"/><rect x="406" y="317" width="3.3" height="3.3" fill="#84ec46"/><rect x="409" y="317" width="3.3" height="3.3" fill="#87ec49"/><rect x="412" y="317" width="3.3" height="3.3" fill="#8aec4c"/><rect x="415" y="317" width="3.3" height="3.3" fill="#8ded4f"/><rect x="418" y="317" width="3.3" height="3.3" fill="#8fed51"/><rect x="421" y="317" width="3.3" height="3.3" fill="#92ed54"/><rect x="424" y="317" width="3.3" height="3.3" fill="#96ee57"/><rect x="427" y="317" width="3.3" height="3.3" fill="#9bee58"/><rect x="430" y="317" width="3.3" height="3.3" fill="#a2ee58"/><rect x="433" y="317" width="3.3" height="3.3" fill="#aaee55"/><rect x="436" y="317" width="3.3" height="3.3" fill="#b1ee52"/><rect x="439" y="317" width="3.3" height="3.3" fill="#b6ee4f"/><rect x="442" y="317" width="3.3" height="3.3" fill="#baee4e"/><rect x="445" y="317" width="3.3" height="3.3" fill="#c0ee4d"/><rect x="448" y="317" width="3.3" height="3.3" fill="#c6ef4d"/><rect x="451" y="317" width="3.3" height="3.3" fill="#ccef4c"/><rect x="454" y="317" width="3.3" height="3.3" fill="#d2ef4c"/><rect x="457" y="317" width="3.3" height="3.3" fill="#d7ef4c"/><rect x="460" y="317" width="3.3" height="3.3" fill="#dcef4c"/><rect x="463" y="317" width="3.3" height="3.3" fill="#e0ee4b"/><rect x="466" y="317" width="3.3" height="3.3" fill="#e4ee4b"/><rect x="469" y="317" width="3.3" height="3.3" fill="#e7ec4a"/><rect x="472" y="317" width="3.3" height="3.3" fill="#ebea4a"/><rect x="475" y="317" width="3.3" height="3.3" fill="#eee748"/><rect x="478" y="317" width="3.3" height="3.3" fill="#f0e447"/><rect x="481" y="317" width="3.3" height="3.3" fill="#f2df45"/><rect x="484" y="317" width="3.3" height="3.3" fill="#f4d942"/><rect x="487" y="317" width="3.3" height="3.3" fill="#f5d440"/><rect x="490" y="317" width="3.3" height="3.3" fill="#f6cd3d"/><rect x="493" y="317" width="3.3" height="3.3" fill="#f7c73b"/><rect x="496" y="317" width="3.3" height="3.3" fill="#f7c139"/><rect x="499" y="317" width="3.3" height="3.3" fill="#f7bb38"/><rect x="502" y="317" width="3.3" height="3.3" fill="#f8b536"/><rect x="505" y="317" width="3.3" height="3.3" fill="#f8ae35"/><rect x="508" y="317" width="3.3" height="3.3" fill="#f8a834"/><rect x="511" y="317" width="3.3" height="3.3" fill="#f8a133"/><rect x="514" y="317" width="3.3" height="3.3" fill="#f79932"/><rect x="517" y="317" width="3.3" height="3.3" fill="#f79131"/><rect x="520" y="317" width="3.3" height="3.3" fill="#f68831"/><rect x="523" y="317" width="3.3" height="3.3" fill="#f67f30"/><rect x="526" y="317" width="3.3" height="3.3" fill="#f5762f"/><rect x="529" y="317" width="3.3" height="3.3" fill="#f46e2f"/><rect x="532" y="317" width="3.3" height="3.3" fill="#f3682f"/><rect x="535" y="317" width="3.3" height="3.3" fill="#f3632e"/><rect x="538" y="317" width="3.3" height="3.3" fill="#f3602e"/><rect x="541" y="317" width="3.3" height="3.3" fill="#f25d2e"/><rect x="358" y="320" width="3.3" height="3.3" fill="#5de952"/><rect x="361" y="320" width="3.3" height="3.3" fill="#5de952"/><rect x="364" y="320" width="3.3" height="3.3" fill="#5ee952"/><rect x="367" y="320" width="3.3" height="3.3" fill="#60e950"/><rect x="370" y="320" width="3.3" height="3.3" fill="#62ea4e"/><rect x="373" y="320" width="3.3" height="3.3" fill="#65ea4a"/><rect x="376" y="320" width="3.3" height="3.3" fill="#69eb46"/><rect x="379" y="320" width="3.3" height="3.3" fill="#6ceb43"/><rect x="382" y="320" width="3.3" height="3.3" fill="#6eeb40"/><rect x="385" y="320" width="3.3" height="3.3" fill="#71eb3f"/><rect x="388" y="320" width="3.3" height="3.3" fill="#73eb3f"/><rect x="391" y="320" width="3.3" height="3.3" fill="#75eb3f"/><rect x="394" y="320" width="3.3" height="3.3" fill="#78eb40"/><rect x="397" y="320" width="3.3" height="3.3" fill="#7beb41"/><rect x="400" y="320" width="3.3" height="3.3" fill="#7eeb44"/><rect x="403" y="320" width="3.3" height="3.3" fill="#82eb46"/><rect x="406" y="320" width="3.3" height="3.3" fill="#86ec4a"/><rect x="409" y="320" width="3.3" height="3.3" fill="#8aec4e"/><rect x="412" y="320" width="3.3" height="3.3" fill="#8eed51"/><rect x="415" y="320" width="3.3" height="3.3" fill="#91ed55"/><rect x="418" y="320" width="3.3" height="3.3" fill="#95ed59"/><rect x="421" y="320" width="3.3" height="3.3" fill="#98ee5d"/><rect x="424" y="320" width="3.3" height="3.3" fill="#9dee61"/><rect x="427" y="320" width="3.3" height="3.3" fill="#a3ef66"/><rect x="430" y="320" width="3.3" height="3.3" fill="#abf06a"/><rect x="433" y="320" width="3.3" height="3.3" fill="#b5f06b"/><rect x="436" y="320" width="3.3" height="3.3" fill="#bdf168"/><rect x="439" y="320" width="3.3" height="3.3" fill="#c2f164"/><rect x="442" y="320" width="3.3" height="3.3" fill="#c7f060"/><rect x="445" y="320" width="3.3" height="3.3" fill="#ccf05d"/><rect x="448" y="320" width="3.3" height="3.3" fill="#d1f05a"/><rect x="451" y="320" width="3.3" height="3.3" fill="#d6f058"/><rect x="454" y="320" width="3.3" height="3.3" fill="#daf056"/><rect x="457" y="320" width="3.3" height="3.3" fill="#def055"/><rect x="460" y="320" width="3.3" height="3.3" fill="#e1ef53"/><rect x="463" y="320" width="3.3" height="3.3" fill="#e5ee51"/><rect x="466" y="320" width="3.3" height="3.3" fill="#e8ed50"/><rect x="469" y="320" width="3.3" height="3.3" fill="#eaeb4e"/><rect x="472" y="320" width="3.3" height="3.3" fill="#ede84c"/><rect x="475" y="320" width="3.3" height="3.3" fill="#f0e549"/><rect x="478" y="320" width="3.3" height="3.3" fill="#f2e047"/><rect x="481" y="320" width="3.3" height="3.3" fill="#f3db44"/><rect x="484" y="320" width="3.3" height="3.3" fill="#f5d541"/><rect x="487" y="320" width="3.3" height="3.3" fill="#f6ce3e"/><rect x="490" y="320" width="3.3" height="3.3" fill="#f6c83c"/><rect x="493" y="320" width="3.3" height="3.3" fill="#f7c23a"/><rect x="496" y="320" width="3.3" height="3.3" fill="#f7bb38"/><rect x="499" y="320" width="3.3" height="3.3" fill="#f8b536"/><rect x="502" y="320" width="3.3" height="3.3" fill="#f8af35"/><rect x="505" y="320" width="3.3" height="3.3" fill="#f8a834"/><rect x="508" y="320" width="3.3" height="3.3" fill="#f8a133"/><rect x="511" y="320" width="3.3" height="3.3" fill="#f79a32"/><rect x="514" y="320" width="3.3" height="3.3" fill="#f79231"/><rect x="517" y="320" width="3.3" height="3.3" fill="#f68931"/><rect x="520" y="320" width="3.3" height="3.3" fill="#f68030"/><rect x="523" y="320" width="3.3" height="3.3" fill="#f5772f"/><rect x="526" y="320" width="3.3" height="3.3" fill="#f46f2f"/><rect x="529" y="320" width="3.3" height="3.3" fill="#f4682f"/><rect x="532" y="320" width="3.3" height="3.3" fill="#f3632e"/><rect x="535" y="320" width="3.3" height="3.3" fill="#f3602e"/><rect x="538" y="320" width="3.3" height="3.3" fill="#f25d2e"/><rect x="541" y="320" width="3.3" height="3.3" fill="#f25b2e"/><rect x="358" y="323" width="3.3" height="3.3" fill="#5de85c"/><rect x="361" y="323" width="3.3" height="3.3" fill="#5de85d"/><rect x="364" y="323" width="3.3" height="3.3" fill="#5ee85c"/><rect x="367" y="323" width="3.3" height="3.3" fill="#60e85a"/><rect x="370" y="323" width="3.3" height="3.3" fill="#62e957"/><rect x="373" y="323" width="3.3" height="3.3" fill="#65e952"/><rect x="376" y="323" width="3.3" height="3.3" fill="#68ea4c"/><rect x="379" y="323" width="3.3" height="3.3" fill="#6ceb46"/><rect x="382" y="323" width="3.3" height="3.3" fill="#6eeb43"/><rect x="385" y="323" width="3.3" height="3.3" fill="#71eb41"/><rect x="388" y="323" width="3.3" height="3.3" fill="#73eb40"/><rect x="391" y="323" width="3.3" height="3.3" fill="#75eb40"/><rect x="394" y="323" width="3.3" height="3.3" fill="#78eb41"/><rect x="397" y="323" width="3.3" height="3.3" fill="#7beb43"/><rect x="400" y="323" width="3.3" height="3.3" fill="#7feb46"/><rect x="403" y="323" width="3.3" height="3.3" fill="#84ec4a"/><rect x="406" y="323" width="3.3" height="3.3" fill="#89ec4e"/><rect x="409" y="323" width="3.3" height="3.3" fill="#8eed53"/><rect x="412" y="323" width="3.3" height="3.3" fill="#93ed59"/><rect x="415" y="323" width="3.3" height="3.3" fill="#97ee5d"/><rect x="418" y="323" width="3.3" height="3.3" fill="#9bee62"/><rect x="421" y="323" width="3.3" height="3.3" fill="#9fef67"/><rect x="424" y="323" width="3.3" height="3.3" fill="#a5ef6e"/><rect x="427" y="323" width="3.3" height="3.3" fill="#acf176"/><rect x="430" y="323" width="3.3" height="3.3" fill="#b7f27f"/><rect x="433" y="323" width="3.3" height="3.3" fill="#c3f486"/><rect x="436" y="323" width="3.3" height="3.3" fill="#cdf488"/><rect x="439" y="323" width="3.3" height="3.3" fill="#d3f484"/><rect x="442" y="323" width="3.3" height="3.3" fill="#d7f47d"/><rect x="445" y="323" width="3.3" height="3.3" fill="#daf376"/><rect x="448" y="323" width="3.3" height="3.3" fill="#def270"/><rect x="451" y="323" width="3.3" height="3.3" fill="#e0f26a"/><rect x="454" y="323" width="3.3" height="3.3" fill="#e3f166"/><rect x="457" y="323" width="3.3" height="3.3" fill="#e5f062"/><rect x="460" y="323" width="3.3" height="3.3" fill="#e7f05e"/><rect x="463" y="323" width="3.3" height="3.3" fill="#e9ee5a"/><rect x="466" y="323" width="3.3" height="3.3" fill="#ebed57"/><rect x="469" y="323" width="3.3" height="3.3" fill="#edea53"/><rect x="472" y="323" width="3.3" height="3.3" fill="#f0e650"/><rect x="475" y="323" width="3.3" height="3.3" fill="#f2e24c"/><rect x="478" y="323" width="3.3" height="3.3" fill="#f3dc48"/><rect x="481" y="323" width="3.3" height="3.3" fill="#f5d644"/><rect x="484" y="323" width="3.3" height="3.3" fill="#f6cf40"/><rect x="487" y="323" width="3.3" height="3.3" fill="#f6c93d"/><rect x="490" y="323" width="3.3" height="3.3" fill="#f7c23b"/><rect x="493" y="323" width="3.3" height="3.3" fill="#f7bc39"/><rect x="496" y="323" width="3.3" height="3.3" fill="#f8b537"/><rect x="499" y="323" width="3.3" height="3.3" fill="#f8af35"/><rect x="502" y="323" width="3.3" height="3.3" fill="#f8a834"/><rect x="505" y="323" width="3.3" height="3.3" fill="#f8a133"/><rect x="508" y="323" width="3.3" height="3.3" fill="#f79a32"/><rect x="511" y="323" width="3.3" height="3.3" fill="#f79231"/><rect x="514" y="323" width="3.3" height="3.3" fill="#f68931"/><rect x="517" y="323" width="3.3" height="3.3" fill="#f68030"/><rect x="520" y="323" width="3.3" height="3.3" fill="#f57730"/><rect x="523" y="323" width="3.3" height="3.3" fill="#f46f2f"/><rect x="526" y="323" width="3.3" height="3.3" fill="#f4692f"/><rect x="529" y="323" width="3.3" height="3.3" fill="#f3642f"/><rect x="532" y="323" width="3.3" height="3.3" fill="#f3602e"/><rect x="535" y="323" width="3.3" height="3.3" fill="#f25d2e"/><rect x="538" y="323" width="3.3" height="3.3" fill="#f25b2e"/><rect x="541" y="323" width="3.3" height="3.3" fill="#f2592e"/><rect x="358" y="326" width="3.3" height="3.3" fill="#5de66d"/><rect x="361" y="326" width="3.3" height="3.3" fill="#5de66d"/><rect x="364" y="326" width="3.3" height="3.3" fill="#5ee66c"/><rect x="367" y="326" width="3.3" height="3.3" fill="#5fe76a"/><rect x="370" y="326" width="3.3" height="3.3" fill="#62e765"/><rect x="373" y="326" width="3.3" height="3.3" fill="#64e85e"/><rect x="376" y="326" width="3.3" height="3.3" fill="#68e956"/><rect x="379" y="326" width="3.3" height="3.3" fill="#6bea4e"/><rect x="382" y="326" width="3.3" height="3.3" fill="#6eeb48"/><rect x="385" y="326" width="3.3" height="3.3" fill="#70eb44"/><rect x="388" y="326" width="3.3" height="3.3" fill="#73eb42"/><rect x="391" y="326" width="3.3" height="3.3" fill="#75eb42"/><rect x="394" y="326" width="3.3" height="3.3" fill="#79eb43"/><rect x="397" y="326" width="3.3" height="3.3" fill="#7ceb45"/><rect x="400" y="326" width="3.3" height="3.3" fill="#81eb49"/><rect x="403" y="326" width="3.3" height="3.3" fill="#87ec4e"/><rect x="406" y="326" width="3.3" height="3.3" fill="#8ded54"/><rect x="409" y="326" width="3.3" height="3.3" fill="#93ed5a"/><rect x="412" y="326" width="3.3" height="3.3" fill="#99ee61"/><rect x="415" y="326" width="3.3" height="3.3" fill="#9dee66"/><rect x="418" y="326" width="3.3" height="3.3" fill="#a2ef6c"/><rect x="421" y="326" width="3.3" height="3.3" fill="#a7f072"/><rect x="424" y="326" width="3.3" height="3.3" fill="#adf17b"/><rect x="427" y="326" width="3.3" height="3.3" fill="#b7f287"/><rect x="430" y="326" width="3.3" height="3.3" fill="#c4f595"/><rect x="433" y="326" width="3.3" height="3.3" fill="#d2f7a1"/><rect x="436" y="326" width="3.3" height="3.3" fill="#dcf8a7"/><rect x="439" y="326" width="3.3" height="3.3" fill="#e3f8a5"/><rect x="442" y="326" width="3.3" height="3.3" fill="#e6f79e"/><rect x="445" y="326" width="3.3" height="3.3" fill="#e8f694"/><rect x="448" y="326" width="3.3" height="3.3" fill="#e9f58a"/><rect x="451" y="326" width="3.3" height="3.3" fill="#eaf481"/><rect x="454" y="326" width="3.3" height="3.3" fill="#ebf379"/><rect x="457" y="326" width="3.3" height="3.3" fill="#ecf172"/><rect x="460" y="326" width="3.3" height="3.3" fill="#edf06c"/><rect x="463" y="326" width="3.3" height="3.3" fill="#eeef67"/><rect x="466" y="326" width="3.3" height="3.3" fill="#efec61"/><rect x="469" y="326" width="3.3" height="3.3" fill="#f0e95b"/><rect x="472" y="326" width="3.3" height="3.3" fill="#f2e456"/><rect x="475" y="326" width="3.3" height="3.3" fill="#f3df50"/><rect x="478" y="326" width="3.3" height="3.3" fill="#f5d84a"/><rect x="481" y="326" width="3.3" height="3.3" fill="#f6d145"/><rect x="484" y="326" width="3.3" height="3.3" fill="#f6ca41"/><rect x="487" y="326" width="3.3" height="3.3" fill="#f7c33d"/><rect x="490" y="326" width="3.3" height="3.3" fill="#f7bc3a"/><rect x="493" y="326" width="3.3" height="3.3" fill="#f8b538"/><rect x="496" y="326" width="3.3" height="3.3" fill="#f8af36"/><rect x="499" y="326" width="3.3" height="3.3" fill="#f8a835"/><rect x="502" y="326" width="3.3" height="3.3" fill="#f8a133"/><rect x="505" y="326" width="3.3" height="3.3" fill="#f79a32"/><rect x="508" y="326" width="3.3" height="3.3" fill="#f79232"/><rect x="511" y="326" width="3.3" height="3.3" fill="#f68a31"/><rect x="514" y="326" width="3.3" height="3.3" fill="#f68130"/><rect x="517" y="326" width="3.3" height="3.3" fill="#f57830"/><rect x="520" y="326" width="3.3" height="3.3" fill="#f4702f"/><rect x="523" y="326" width="3.3" height="3.3" fill="#f4692f"/><rect x="526" y="326" width="3.3" height="3.3" fill="#f3642f"/><rect x="529" y="326" width="3.3" height="3.3" fill="#f3602e"/><rect x="532" y="326" width="3.3" height="3.3" fill="#f25d2e"/><rect x="535" y="326" width="3.3" height="3.3" fill="#f25b2e"/><rect x="538" y="326" width="3.3" height="3.3" fill="#f2592e"/><rect x="541" y="326" width="3.3" height="3.3" fill="#f2562e"/><rect x="358" y="329" width="3.3" height="3.3" fill="#5ce480"/><rect x="361" y="329" width="3.3" height="3.3" fill="#5de480"/><rect x="364" y="329" width="3.3" height="3.3" fill="#5ee480"/><rect x="367" y="329" width="3.3" height="3.3" fill="#5fe57d"/><rect x="370" y="329" width="3.3" height="3.3" fill="#61e578"/><rect x="373" y="329" width="3.3" height="3.3" fill="#63e670"/><rect x="376" y="329" width="3.3" height="3.3" fill="#67e866"/><rect x="379" y="329" width="3.3" height="3.3" fill="#6ae95b"/><rect x="382" y="329" width="3.3" height="3.3" fill="#6dea52"/><rect x="385" y="329" width="3.3" height="3.3" fill="#70eb4c"/><rect x="388" y="329" width="3.3" height="3.3" fill="#73eb48"/><rect x="391" y="329" width="3.3" height="3.3" fill="#76eb46"/><rect x="394" y="329" width="3.3" height="3.3" fill="#79eb46"/><rect x="397" y="329" width="3.3" height="3.3" fill="#7eeb49"/><rect x="400" y="329" width="3.3" height="3.3" fill="#84ec4d"/><rect x="403" y="329" width="3.3" height="3.3" fill="#8bec54"/><rect x="406" y="329" width="3.3" height="3.3" fill="#92ed5b"/><rect x="409" y="329" width="3.3" height="3.3" fill="#99ee62"/><rect x="412" y="329" width="3.3" height="3.3" fill="#9fee69"/><rect x="415" y="329" width="3.3" height="3.3" fill="#a4ef6f"/><rect x="418" y="329" width="3.3" height="3.3" fill="#a9f076"/><rect x="421" y="329" width="3.3" height="3.3" fill="#aff17e"/><rect x="424" y="329" width="3.3" height="3.3" fill="#b7f289"/><rect x="427" y="329" width="3.3" height="3.3" fill="#c3f598"/><rect x="430" y="329" width="3.3" height="3.3" fill="#d1f7a9"/><rect x="433" y="329" width="3.3" height="3.3" fill="#def9b7"/><rect x="436" y="329" width="3.3" height="3.3" fill="#e7fabe"/><rect x="439" y="329" width="3.3" height="3.3" fill="#edfbbd"/><rect x="442" y="329" width="3.3" height="3.3" fill="#effab7"/><rect x="445" y="329" width="3.3" height="3.3" fill="#f0f9ad"/><rect x="448" y="329" width="3.3" height="3.3" fill="#f1f7a2"/><rect x="451" y="329" width="3.3" height="3.3" fill="#f1f697"/><rect x="454" y="329" width="3.3" height="3.3" fill="#f1f48d"/><rect x="457" y="329" width="3.3" height="3.3" fill="#f1f385"/><rect x="460" y="329" width="3.3" height="3.3" fill="#f1f17d"/><rect x="463" y="329" width="3.3" height="3.3" fill="#f2ef76"/><rect x="466" y="329" width="3.3" height="3.3" fill="#f2ec6f"/><rect x="469" y="329" width="3.3" height="3.3" fill="#f3e867"/><rect x="472" y="329" width="3.3" height="3.3" fill="#f4e25f"/><rect x="475" y="329" width="3.3" height="3.3" fill="#f5db57"/><rect x="478" y="329" width="3.3" height="3.3" fill="#f6d44f"/><rect x="481" y="329" width="3.3" height="3.3" fill="#f7cc48"/><rect x="484" y="329" width="3.3" height="3.3" fill="#f7c442"/><rect x="487" y="329" width="3.3" height="3.3" fill="#f8bd3e"/><rect x="490" y="329" width="3.3" height="3.3" fill="#f8b63a"/><rect x="493" y="329" width="3.3" height="3.3" fill="#f8af38"/><rect x="496" y="329" width="3.3" height="3.3" fill="#f8a836"/><rect x="499" y="329" width="3.3" height="3.3" fill="#f8a134"/><rect x="502" y="329" width="3.3" height="3.3" fill="#f79a33"/><rect x="505" y="329" width="3.3" height="3.3" fill="#f79332"/><rect x="508" y="329" width="3.3" height="3.3" fill="#f68a31"/><rect x="511" y="329" width="3.3" height="3.3" fill="#f68130"/><rect x="514" y="329" width="3.3" height="3.3" fill="#f57930"/><rect x="517" y="329" width="3.3" height="3.3" fill="#f4702f"/><rect x="520" y="329" width="3.3" height="3.3" fill="#f4692f"/><rect x="523" y="329" width="3.3" height="3.3" fill="#f3642f"/><rect x="526" y="329" width="3.3" height="3.3" fill="#f3602f"/><rect x="529" y="329" width="3.3" height="3.3" fill="#f25d2e"/><rect x="532" y="329" width="3.3" height="3.3" fill="#f25b2e"/><rect x="535" y="329" width="3.3" height="3.3" fill="#f2582e"/><rect x="538" y="329" width="3.3" height="3.3" fill="#f2562e"/><rect x="541" y="329" width="3.3" height="3.3" fill="#f2522d"/><rect x="358" y="332" width="3.3" height="3.3" fill="#5ce291"/><rect x="361" y="332" width="3.3" height="3.3" fill="#5de292"/><rect x="364" y="332" width="3.3" height="3.3" fill="#5de391"/><rect x="367" y="332" width="3.3" height="3.3" fill="#5ee38f"/><rect x="370" y="332" width="3.3" height="3.3" fill="#60e48b"/><rect x="373" y="332" width="3.3" height="3.3" fill="#62e585"/><rect x="376" y="332" width="3.3" height="3.3" fill="#65e67b"/><rect x="379" y="332" width="3.3" height="3.3" fill="#69e771"/><rect x="382" y="332" width="3.3" height="3.3" fill="#6ce966"/><rect x="385" y="332" width="3.3" height="3.3" fill="#70ea5d"/><rect x="388" y="332" width="3.3" height="3.3" fill="#73ea56"/><rect x="391" y="332" width="3.3" height="3.3" fill="#76eb52"/><rect x="394" y="332" width="3.3" height="3.3" fill="#7aeb50"/><rect x="397" y="332" width="3.3" height="3.3" fill="#80eb51"/><rect x="400" y="332" width="3.3" height="3.3" fill="#87ec55"/><rect x="403" y="332" width="3.3" height="3.3" fill="#90ed5c"/><rect x="406" y="332" width="3.3" height="3.3" fill="#98ee64"/><rect x="409" y="332" width="3.3" height="3.3" fill="#9fee6b"/><rect x="412" y="332" width="3.3" height="3.3" fill="#a5ef73"/><rect x="415" y="332" width="3.3" height="3.3" fill="#abf079"/><rect x="418" y="332" width="3.3" height="3.3" fill="#b0f181"/><rect x="421" y="332" width="3.3" height="3.3" fill="#b8f28c"/><rect x="424" y="332" width="3.3" height="3.3" fill="#c2f499"/><rect x="427" y="332" width="3.3" height="3.3" fill="#cff7aa"/><rect x="430" y="332" width="3.3" height="3.3" fill="#dcf9bb"/><rect x="433" y="332" width="3.3" height="3.3" fill="#e7fbc7"/><rect x="436" y="332" width="3.3" height="3.3" fill="#eefccd"/><rect x="439" y="332" width="3.3" height="3.3" fill="#f2fccc"/><rect x="442" y="332" width="3.3" height="3.3" fill="#f4fcc7"/><rect x="445" y="332" width="3.3" height="3.3" fill="#f5fabf"/><rect x="448" y="332" width="3.3" height="3.3" fill="#f5f9b5"/><rect x="451" y="332" width="3.3" height="3.3" fill="#f5f7ab"/><rect x="454" y="332" width="3.3" height="3.3" fill="#f5f6a0"/><rect x="457" y="332" width="3.3" height="3.3" fill="#f5f497"/><rect x="460" y="332" width="3.3" height="3.3" fill="#f5f28e"/><rect x="463" y="332" width="3.3" height="3.3" fill="#f5ef86"/><rect x="466" y="332" width="3.3" height="3.3" fill="#f6ec7e"/><rect x="469" y="332" width="3.3" height="3.3" fill="#f6e775"/><rect x="472" y="332" width="3.3" height="3.3" fill="#f7e06c"/><rect x="475" y="332" width="3.3" height="3.3" fill="#f7d861"/><rect x="478" y="332" width="3.3" height="3.3" fill="#f8d057"/><rect x="481" y="332" width="3.3" height="3.3" fill="#f8c74e"/><rect x="484" y="332" width="3.3" height="3.3" fill="#f8bf46"/><rect x="487" y="332" width="3.3" height="3.3" fill="#f8b740"/><rect x="490" y="332" width="3.3" height="3.3" fill="#f8b03b"/><rect x="493" y="332" width="3.3" height="3.3" fill="#f8a938"/><rect x="496" y="332" width="3.3" height="3.3" fill="#f8a236"/><rect x="499" y="332" width="3.3" height="3.3" fill="#f79a34"/><rect x="502" y="332" width="3.3" height="3.3" fill="#f79332"/><rect x="505" y="332" width="3.3" height="3.3" fill="#f78b31"/><rect x="508" y="332" width="3.3" height="3.3" fill="#f68231"/><rect x="511" y="332" width="3.3" height="3.3" fill="#f57930"/><rect x="514" y="332" width="3.3" height="3.3" fill="#f4712f"/><rect x="517" y="332" width="3.3" height="3.3" fill="#f46a2f"/><rect x="520" y="332" width="3.3" height="3.3" fill="#f3642f"/><rect x="523" y="332" width="3.3" height="3.3" fill="#f3602f"/><rect x="526" y="332" width="3.3" height="3.3" fill="#f25d2f"/><rect x="529" y="332" width="3.3" height="3.3" fill="#f25a2e"/><rect x="532" y="332" width="3.3" height="3.3" fill="#f2582e"/><rect x="535" y="332" width="3.3" height="3.3" fill="#f2552e"/><rect x="538" y="332" width="3.3" height="3.3" fill="#f2512d"/><rect x="541" y="332" width="3.3" height="3.3" fill="#f14c2d"/><rect x="358" y="335" width="3.3" height="3.3" fill="#5ce19d"/><rect x="361" y="335" width="3.3" height="3.3" fill="#5de19d"/><rect x="364" y="335" width="3.3" height="3.3" fill="#5de19d"/><rect x="367" y="335" width="3.3" height="3.3" fill="#5ee29d"/><rect x="370" y="335" width="3.3" height="3.3" fill="#5fe29b"/><rect x="373" y="335" width="3.3" height="3.3" fill="#62e398"/><rect x="376" y="335" width="3.3" height="3.3" fill="#65e592"/><rect x="379" y="335" width="3.3" height="3.3" fill="#68e68b"/><rect x="382" y="335" width="3.3" height="3.3" fill="#6ce883"/><rect x="385" y="335" width="3.3" height="3.3" fill="#70e97b"/><rect x="388" y="335" width="3.3" height="3.3" fill="#73ea72"/><rect x="391" y="335" width="3.3" height="3.3" fill="#77eb6b"/><rect x="394" y="335" width="3.3" height="3.3" fill="#7ceb65"/><rect x="397" y="335" width="3.3" height="3.3" fill="#83ec62"/><rect x="400" y="335" width="3.3" height="3.3" fill="#8cec63"/><rect x="403" y="335" width="3.3" height="3.3" fill="#96ed68"/><rect x="406" y="335" width="3.3" height="3.3" fill="#9fee6f"/><rect x="409" y="335" width="3.3" height="3.3" fill="#a6ef77"/><rect x="412" y="335" width="3.3" height="3.3" fill="#acf07e"/><rect x="415" y="335" width="3.3" height="3.3" fill="#b3f186"/><rect x="418" y="335" width="3.3" height="3.3" fill="#baf390"/><rect x="421" y="335" width="3.3" height="3.3" fill="#c3f49c"/><rect x="424" y="335" width="3.3" height="3.3" fill="#cef7ac"/><rect x="427" y="335" width="3.3" height="3.3" fill="#dbf9bc"/><rect x="430" y="335" width="3.3" height="3.3" fill="#e5fbca"/><rect x="433" y="335" width="3.3" height="3.3" fill="#edfdd3"/><rect x="436" y="335" width="3.3" height="3.3" fill="#f2fdd7"/><rect x="439" y="335" width="3.3" height="3.3" fill="#f5fdd6"/><rect x="442" y="335" width="3.3" height="3.3" fill="#f7fdd3"/><rect x="445" y="335" width="3.3" height="3.3" fill="#f8fccc"/><rect x="448" y="335" width="3.3" height="3.3" fill="#f8fac4"/><rect x="451" y="335" width="3.3" height="3.3" fill="#f8f9ba"/><rect x="454" y="335" width="3.3" height="3.3" fill="#f8f7b1"/><rect x="457" y="335" width="3.3" height="3.3" fill="#f8f5a7"/><rect x="460" y="335" width="3.3" height="3.3" fill="#f8f39e"/><rect x="463" y="335" width="3.3" height="3.3" fill="#f8ef95"/><rect x="466" y="335" width="3.3" height="3.3" fill="#f8eb8d"/><rect x="469" y="335" width="3.3" height="3.3" fill="#f9e584"/><rect x="472" y="335" width="3.3" height="3.3" fill="#f9de79"/><rect x="475" y="335" width="3.3" height="3.3" fill="#f9d56e"/><rect x="478" y="335" width="3.3" height="3.3" fill="#f9cc62"/><rect x="481" y="335" width="3.3" height="3.3" fill="#f9c357"/><rect x="484" y="335" width="3.3" height="3.3" fill="#f9ba4c"/><rect x="487" y="335" width="3.3" height="3.3" fill="#f8b144"/><rect x="490" y="335" width="3.3" height="3.3" fill="#f8aa3e"/><rect x="493" y="335" width="3.3" height="3.3" fill="#f8a23a"/><rect x="496" y="335" width="3.3" height="3.3" fill="#f89b36"/><rect x="499" y="335" width="3.3" height="3.3" fill="#f79334"/><rect x="502" y="335" width="3.3" height="3.3" fill="#f78b32"/><rect x="505" y="335" width="3.3" height="3.3" fill="#f68231"/><rect x="508" y="335" width="3.3" height="3.3" fill="#f57930"/><rect x="511" y="335" width="3.3" height="3.3" fill="#f47130"/><rect x="514" y="335" width="3.3" height="3.3" fill="#f4692f"/><rect x="517" y="335" width="3.3" height="3.3" fill="#f3642f"/><rect x="520" y="335" width="3.3" height="3.3" fill="#f35f2f"/><rect x="523" y="335" width="3.3" height="3.3" fill="#f25c2f"/><rect x="526" y="335" width="3.3" height="3.3" fill="#f2592f"/><rect x="529" y="335" width="3.3" height="3.3" fill="#f2572e"/><rect x="532" y="335" width="3.3" height="3.3" fill="#f2542e"/><rect x="535" y="335" width="3.3" height="3.3" fill="#f2502e"/><rect x="538" y="335" width="3.3" height="3.3" fill="#f14b2d"/><rect x="541" y="335" width="3.3" height="3.3" fill="#f1442c"/><rect x="358" y="338" width="3.3" height="3.3" fill="#5ce0a4"/><rect x="361" y="338" width="3.3" height="3.3" fill="#5de1a5"/><rect x="364" y="338" width="3.3" height="3.3" fill="#5de1a5"/><rect x="367" y="338" width="3.3" height="3.3" fill="#5ee1a6"/><rect x="370" y="338" width="3.3" height="3.3" fill="#60e2a6"/><rect x="373" y="338" width="3.3" height="3.3" fill="#62e3a7"/><rect x="376" y="338" width="3.3" height="3.3" fill="#65e4a7"/><rect x="379" y="338" width="3.3" height="3.3" fill="#69e5a6"/><rect x="382" y="338" width="3.3" height="3.3" fill="#6de7a4"/><rect x="385" y="338" width="3.3" height="3.3" fill="#71e8a0"/><rect x="388" y="338" width="3.3" height="3.3" fill="#75ea9b"/><rect x="391" y="338" width="3.3" height="3.3" fill="#79ea93"/><rect x="394" y="338" width="3.3" height="3.3" fill="#7feb8b"/><rect x="397" y="338" width="3.3" height="3.3" fill="#86ec83"/><rect x="400" y="338" width="3.3" height="3.3" fill="#91ed7e"/><rect x="403" y="338" width="3.3" height="3.3" fill="#9cee7e"/><rect x="406" y="338" width="3.3" height="3.3" fill="#a6f081"/><rect x="409" y="338" width="3.3" height="3.3" fill="#aff187"/><rect x="412" y="338" width="3.3" height="3.3" fill="#b6f28f"/><rect x="415" y="338" width="3.3" height="3.3" fill="#bef398"/><rect x="418" y="338" width="3.3" height="3.3" fill="#c6f5a4"/><rect x="421" y="338" width="3.3" height="3.3" fill="#d0f7b2"/><rect x="424" y="338" width="3.3" height="3.3" fill="#dbf9c0"/><rect x="427" y="338" width="3.3" height="3.3" fill="#e5fbcd"/><rect x="430" y="338" width="3.3" height="3.3" fill="#edfdd7"/><rect x="433" y="338" width="3.3" height="3.3" fill="#f2fddc"/><rect x="436" y="338" width="3.3" height="3.3" fill="#f5fede"/><rect x="439" y="338" width="3.3" height="3.3" fill="#f7fede"/><rect x="442" y="338" width="3.3" height="3.3" fill="#f8fddb"/><rect x="445" y="338" width="3.3" height="3.3" fill="#f9fdd6"/><rect x="448" y="338" width="3.3" height="3.3" fill="#fafbcf"/><rect x="451" y="338" width="3.3" height="3.3" fill="#fafac7"/><rect x="454" y="338" width="3.3" height="3.3" fill="#faf8be"/><rect x="457" y="338" width="3.3" height="3.3" fill="#faf6b5"/><rect x="460" y="338" width="3.3" height="3.3" fill="#faf3ab"/><rect x="463" y="338" width="3.3" height="3.3" fill="#faefa2"/><rect x="466" y="338" width="3.3" height="3.3" fill="#faea9a"/><rect x="469" y="338" width="3.3" height="3.3" fill="#fae391"/><rect x="472" y="338" width="3.3" height="3.3" fill="#fbdb87"/><rect x="475" y="338" width="3.3" height="3.3" fill="#fad27b"/><rect x="478" y="338" width="3.3" height="3.3" fill="#fac86f"/><rect x="481" y="338" width="3.3" height="3.3" fill="#fabe62"/><rect x="484" y="338" width="3.3" height="3.3" fill="#f9b556"/><rect x="487" y="338" width="3.3" height="3.3" fill="#f9ac4b"/><rect x="490" y="338" width="3.3" height="3.3" fill="#f8a343"/><rect x="493" y="338" width="3.3" height="3.3" fill="#f89b3c"/><rect x="496" y="338" width="3.3" height="3.3" fill="#f79338"/><rect x="499" y="338" width="3.3" height="3.3" fill="#f78b35"/><rect x="502" y="338" width="3.3" height="3.3" fill="#f68233"/><rect x="505" y="338" width="3.3" height="3.3" fill="#f57931"/><rect x="508" y="338" width="3.3" height="3.3" fill="#f47030"/><rect x="511" y="338" width="3.3" height="3.3" fill="#f46930"/><rect x="514" y="338" width="3.3" height="3.3" fill="#f3632f"/><rect x="517" y="338" width="3.3" height="3.3" fill="#f35e2f"/><rect x="520" y="338" width="3.3" height="3.3" fill="#f25b2f"/><rect x="523" y="338" width="3.3" height="3.3" fill="#f2582f"/><rect x="526" y="338" width="3.3" height="3.3" fill="#f2562f"/><rect x="529" y="338" width="3.3" height="3.3" fill="#f2532e"/><rect x="532" y="338" width="3.3" height="3.3" fill="#f24f2e"/><rect x="535" y="338" width="3.3" height="3.3" fill="#f14a2d"/><rect x="538" y="338" width="3.3" height="3.3" fill="#f1442c"/><rect x="541" y="338" width="3.3" height="3.3" fill="#f13c2b"/><rect x="358" y="341" width="3.3" height="3.3" fill="#5ce0a9"/><rect x="361" y="341" width="3.3" height="3.3" fill="#5de0aa"/><rect x="364" y="341" width="3.3" height="3.3" fill="#5de0ab"/><rect x="367" y="341" width="3.3" height="3.3" fill="#5fe1ad"/><rect x="370" y="341" width="3.3" height="3.3" fill="#61e1b0"/><rect x="373" y="341" width="3.3" height="3.3" fill="#63e2b3"/><rect x="376" y="341" width="3.3" height="3.3" fill="#67e4b7"/><rect x="379" y="341" width="3.3" height="3.3" fill="#6be5ba"/><rect x="382" y="341" width="3.3" height="3.3" fill="#70e7bd"/><rect x="385" y="341" width="3.3" height="3.3" fill="#74e8be"/><rect x="388" y="341" width="3.3" height="3.3" fill="#78e9bd"/><rect x="391" y="341" width="3.3" height="3.3" fill="#7ceaba"/><rect x="394" y="341" width="3.3" height="3.3" fill="#82ebb4"/><rect x="397" y="341" width="3.3" height="3.3" fill="#8aecac"/><rect x="400" y="341" width="3.3" height="3.3" fill="#96eea4"/><rect x="403" y="341" width="3.3" height="3.3" fill="#a3f09e"/><rect x="406" y="341" width="3.3" height="3.3" fill="#b0f29d"/><rect x="409" y="341" width="3.3" height="3.3" fill="#baf3a1"/><rect x="412" y="341" width="3.3" height="3.3" fill="#c3f5a8"/><rect x="415" y="341" width="3.3" height="3.3" fill="#ccf6b2"/><rect x="418" y="341" width="3.3" height="3.3" fill="#d5f8bd"/><rect x="421" y="341" width="3.3" height="3.3" fill="#defac9"/><rect x="424" y="341" width="3.3" height="3.3" fill="#e6fbd4"/><rect x="427" y="341" width="3.3" height="3.3" fill="#edfddc"/><rect x="430" y="341" width="3.3" height="3.3" fill="#f2fee2"/><rect x="433" y="341" width="3.3" height="3.3" fill="#f6fee4"/><rect x="436" y="341" width="3.3" height="3.3" fill="#f8fee5"/><rect x="439" y="341" width="3.3" height="3.3" fill="#f9fee4"/><rect x="442" y="341" width="3.3" height="3.3" fill="#fafee1"/><rect x="445" y="341" width="3.3" height="3.3" fill="#fafdde"/><rect x="448" y="341" width="3.3" height="3.3" fill="#fbfcd8"/><rect x="451" y="341" width="3.3" height="3.3" fill="#fbfbd1"/><rect x="454" y="341" width="3.3" height="3.3" fill="#fbf9c9"/><rect x="457" y="341" width="3.3" height="3.3" fill="#fbf6c0"/><rect x="460" y="341" width="3.3" height="3.3" fill="#fbf3b6"/><rect x="463" y="341" width="3.3" height="3.3" fill="#fbeead"/><rect x="466" y="341" width="3.3" height="3.3" fill="#fce8a3"/><rect x="469" y="341" width="3.3" height="3.3" fill="#fce09a"/><rect x="472" y="341" width="3.3" height="3.3" fill="#fcd791"/><rect x="475" y="341" width="3.3" height="3.3" fill="#fbcd87"/><rect x="478" y="341" width="3.3" height="3.3" fill="#fbc37b"/><rect x="481" y="341" width="3.3" height="3.3" fill="#fab96e"/><rect x="484" y="341" width="3.3" height="3.3" fill="#faaf61"/><rect x="487" y="341" width="3.3" height="3.3" fill="#f9a554"/><rect x="490" y="341" width="3.3" height="3.3" fill="#f89c49"/><rect x="493" y="341" width="3.3" height="3.3" fill="#f89341"/><rect x="496" y="341" width="3.3" height="3.3" fill="#f78a3b"/><rect x="499" y="341" width="3.3" height="3.3" fill="#f68136"/><rect x="502" y="341" width="3.3" height="3.3" fill="#f57833"/><rect x="505" y="341" width="3.3" height="3.3" fill="#f46f32"/><rect x="508" y="341" width="3.3" height="3.3" fill="#f46831"/><rect x="511" y="341" width="3.3" height="3.3" fill="#f36230"/><rect x="514" y="341" width="3.3" height="3.3" fill="#f35d30"/><rect x="517" y="341" width="3.3" height="3.3" fill="#f25a30"/><rect x="520" y="341" width="3.3" height="3.3" fill="#f2572f"/><rect x="523" y="341" width="3.3" height="3.3" fill="#f2542f"/><rect x="526" y="341" width="3.3" height="3.3" fill="#f2522f"/><rect x="529" y="341" width="3.3" height="3.3" fill="#f24e2e"/><rect x="532" y="341" width="3.3" height="3.3" fill="#f1492e"/><rect x="535" y="341" width="3.3" height="3.3" fill="#f1432c"/><rect x="538" y="341" width="3.3" height="3.3" fill="#f13c2b"/><rect x="541" y="341" width="3.3" height="3.3" fill="#f1352a"/><rect x="358" y="344" width="3.3" height="3.3" fill="#5cdfae"/><rect x="361" y="344" width="3.3" height="3.3" fill="#5de0b0"/><rect x="364" y="344" width="3.3" height="3.3" fill="#5ee0b2"/><rect x="367" y="344" width="3.3" height="3.3" fill="#5fe0b5"/><rect x="370" y="344" width="3.3" height="3.3" fill="#62e1b9"/><rect x="373" y="344" width="3.3" height="3.3" fill="#65e2bd"/><rect x="376" y="344" width="3.3" height="3.3" fill="#69e4c3"/><rect x="379" y="344" width="3.3" height="3.3" fill="#6ee6c8"/><rect x="382" y="344" width="3.3" height="3.3" fill="#72e7cc"/><rect x="385" y="344" width="3.3" height="3.3" fill="#76e9ce"/><rect x="388" y="344" width="3.3" height="3.3" fill="#7aead0"/><rect x="391" y="344" width="3.3" height="3.3" fill="#7febcf"/><rect x="394" y="344" width="3.3" height="3.3" fill="#85ecce"/><rect x="397" y="344" width="3.3" height="3.3" fill="#8dedca"/><rect x="400" y="344" width="3.3" height="3.3" fill="#9aefc5"/><rect x="403" y="344" width="3.3" height="3.3" fill="#a9f1c0"/><rect x="406" y="344" width="3.3" height="3.3" fill="#b9f4be"/><rect x="409" y="344" width="3.3" height="3.3" fill="#c7f6c0"/><rect x="412" y="344" width="3.3" height="3.3" fill="#d1f8c6"/><rect x="415" y="344" width="3.3" height="3.3" fill="#daf9cd"/><rect x="418" y="344" width="3.3" height="3.3" fill="#e2fbd5"/><rect x="421" y="344" width="3.3" height="3.3" fill="#e9fcdd"/><rect x="424" y="344" width="3.3" height="3.3" fill="#effde3"/><rect x="427" y="344" width="3.3" height="3.3" fill="#f3fee7"/><rect x="430" y="344" width="3.3" height="3.3" fill="#f6feea"/><rect x="433" y="344" width="3.3" height="3.3" fill="#f8feeb"/><rect x="436" y="344" width="3.3" height="3.3" fill="#f9ffea"/><rect x="439" y="344" width="3.3" height="3.3" fill="#fafee9"/><rect x="442" y="344" width="3.3" height="3.3" fill="#fbfee7"/><rect x="445" y="344" width="3.3" height="3.3" fill="#fbfee4"/><rect x="448" y="344" width="3.3" height="3.3" fill="#fcfde0"/><rect x="451" y="344" width="3.3" height="3.3" fill="#fcfbda"/><rect x="454" y="344" width="3.3" height="3.3" fill="#fcf9d2"/><rect x="457" y="344" width="3.3" height="3.3" fill="#fcf6c9"/><rect x="460" y="344" width="3.3" height="3.3" fill="#fcf2bf"/><rect x="463" y="344" width="3.3" height="3.3" fill="#fcecb4"/><rect x="466" y="344" width="3.3" height="3.3" fill="#fde4aa"/><rect x="469" y="344" width="3.3" height="3.3" fill="#fddba1"/><rect x="472" y="344" width="3.3" height="3.3" fill="#fcd199"/><rect x="475" y="344" width="3.3" height="3.3" fill="#fcc790"/><rect x="478" y="344" width="3.3" height="3.3" fill="#fbbc85"/><rect x="481" y="344" width="3.3" height="3.3" fill="#fbb27a"/><rect x="484" y="344" width="3.3" height="3.3" fill="#faa76c"/><rect x="487" y="344" width="3.3" height="3.3" fill="#f99d5f"/><rect x="490" y="344" width="3.3" height="3.3" fill="#f89452"/><rect x="493" y="344" width="3.3" height="3.3" fill="#f78a47"/><rect x="496" y="344" width="3.3" height="3.3" fill="#f6803e"/><rect x="499" y="344" width="3.3" height="3.3" fill="#f57638"/><rect x="502" y="344" width="3.3" height="3.3" fill="#f46d35"/><rect x="505" y="344" width="3.3" height="3.3" fill="#f46633"/><rect x="508" y="344" width="3.3" height="3.3" fill="#f35f31"/><rect x="511" y="344" width="3.3" height="3.3" fill="#f35b31"/><rect x="514" y="344" width="3.3" height="3.3" fill="#f25730"/><rect x="517" y="344" width="3.3" height="3.3" fill="#f25530"/><rect x="520" y="344" width="3.3" height="3.3" fill="#f25230"/><rect x="523" y="344" width="3.3" height="3.3" fill="#f2502f"/><rect x="526" y="344" width="3.3" height="3.3" fill="#f14c2f"/><rect x="529" y="344" width="3.3" height="3.3" fill="#f1482e"/><rect x="532" y="344" width="3.3" height="3.3" fill="#f1422d"/><rect x="535" y="344" width="3.3" height="3.3" fill="#f13b2c"/><rect x="538" y="344" width="3.3" height="3.3" fill="#f1352a"/><rect x="541" y="344" width="3.3" height="3.3" fill="#f0302a"/><rect x="358" y="347" width="3.3" height="3.3" fill="#5cdfb5"/><rect x="361" y="347" width="3.3" height="3.3" fill="#5ddfb7"/><rect x="364" y="347" width="3.3" height="3.3" fill="#5edfba"/><rect x="367" y="347" width="3.3" height="3.3" fill="#60e0bd"/><rect x="370" y="347" width="3.3" height="3.3" fill="#63e1c1"/><rect x="373" y="347" width="3.3" height="3.3" fill="#67e2c6"/><rect x="376" y="347" width="3.3" height="3.3" fill="#6be4cb"/><rect x="379" y="347" width="3.3" height="3.3" fill="#70e6d0"/><rect x="382" y="347" width="3.3" height="3.3" fill="#74e7d4"/><rect x="385" y="347" width="3.3" height="3.3" fill="#78e9d6"/><rect x="388" y="347" width="3.3" height="3.3" fill="#7dead8"/><rect x="391" y="347" width="3.3" height="3.3" fill="#82ebd8"/><rect x="394" y="347" width="3.3" height="3.3" fill="#88ecd9"/><rect x="397" y="347" width="3.3" height="3.3" fill="#91edd8"/><rect x="400" y="347" width="3.3" height="3.3" fill="#9defd7"/><rect x="403" y="347" width="3.3" height="3.3" fill="#adf2d7"/><rect x="406" y="347" width="3.3" height="3.3" fill="#bff5d7"/><rect x="409" y="347" width="3.3" height="3.3" fill="#cff8d9"/><rect x="412" y="347" width="3.3" height="3.3" fill="#dbfadd"/><rect x="415" y="347" width="3.3" height="3.3" fill="#e4fbe2"/><rect x="418" y="347" width="3.3" height="3.3" fill="#ebfde7"/><rect x="421" y="347" width="3.3" height="3.3" fill="#f0fdeb"/><rect x="424" y="347" width="3.3" height="3.3" fill="#f3feed"/><rect x="427" y="347" width="3.3" height="3.3" fill="#f6feef"/><rect x="430" y="347" width="3.3" height="3.3" fill="#f8fff0"/><rect x="433" y="347" width="3.3" height="3.3" fill="#fafff0"/><rect x="436" y="347" width="3.3" height="3.3" fill="#faffef"/><rect x="439" y="347" width="3.3" height="3.3" fill="#fbffee"/><rect x="442" y="347" width="3.3" height="3.3" fill="#fcfeec"/><rect x="445" y="347" width="3.3" height="3.3" fill="#fcfeea"/><rect x="448" y="347" width="3.3" height="3.3" fill="#fcfde6"/><rect x="451" y="347" width="3.3" height="3.3" fill="#fdfce1"/><rect x="454" y="347" width="3.3" height="3.3" fill="#fdf9da"/><rect x="457" y="347" width="3.3" height="3.3" fill="#fdf6d1"/><rect x="460" y="347" width="3.3" height="3.3" fill="#fdf0c6"/><rect x="463" y="347" width="3.3" height="3.3" fill="#fde9bb"/><rect x="466" y="347" width="3.3" height="3.3" fill="#fddfaf"/><rect x="469" y="347" width="3.3" height="3.3" fill="#fdd4a5"/><rect x="472" y="347" width="3.3" height="3.3" fill="#fdc99d"/><rect x="475" y="347" width="3.3" height="3.3" fill="#fcbe95"/><rect x="478" y="347" width="3.3" height="3.3" fill="#fcb38c"/><rect x="481" y="347" width="3.3" height="3.3" fill="#fba982"/><rect x="484" y="347" width="3.3" height="3.3" fill="#fa9e76"/><rect x="487" y="347" width="3.3" height="3.3" fill="#f99368"/><rect x="490" y="347" width="3.3" height="3.3" fill="#f8895a"/><rect x="493" y="347" width="3.3" height="3.3" fill="#f77e4d"/><rect x="496" y="347" width="3.3" height="3.3" fill="#f57343"/><rect x="499" y="347" width="3.3" height="3.3" fill="#f46a3b"/><rect x="502" y="347" width="3.3" height="3.3" fill="#f46236"/><rect x="505" y="347" width="3.3" height="3.3" fill="#f35c34"/><rect x="508" y="347" width="3.3" height="3.3" fill="#f25732"/><rect x="511" y="347" width="3.3" height="3.3" fill="#f25432"/><rect x="514" y="347" width="3.3" height="3.3" fill="#f25131"/><rect x="517" y="347" width="3.3" height="3.3" fill="#f24f31"/><rect x="520" y="347" width="3.3" height="3.3" fill="#f24d30"/><rect x="523" y="347" width="3.3" height="3.3" fill="#f14a30"/><rect x="526" y="347" width="3.3" height="3.3" fill="#f1462f"/><rect x="529" y="347" width="3.3" height="3.3" fill="#f1402e"/><rect x="532" y="347" width="3.3" height="3.3" fill="#f13a2c"/><rect x="535" y="347" width="3.3" height="3.3" fill="#f0342b"/><rect x="538" y="347" width="3.3" height="3.3" fill="#f0302a"/><rect x="541" y="347" width="3.3" height="3.3" fill="#f02d29"/><rect x="358" y="350" width="3.3" height="3.3" fill="#5cddbe"/><rect x="361" y="350" width="3.3" height="3.3" fill="#5dddc0"/><rect x="364" y="350" width="3.3" height="3.3" fill="#5edec3"/><rect x="367" y="350" width="3.3" height="3.3" fill="#60dfc6"/><rect x="370" y="350" width="3.3" height="3.3" fill="#63e0ca"/><rect x="373" y="350" width="3.3" height="3.3" fill="#67e2ce"/><rect x="376" y="350" width="3.3" height="3.3" fill="#6ce4d1"/><rect x="379" y="350" width="3.3" height="3.3" fill="#70e5d5"/><rect x="382" y="350" width="3.3" height="3.3" fill="#75e7d8"/><rect x="385" y="350" width="3.3" height="3.3" fill="#7ae9da"/><rect x="388" y="350" width="3.3" height="3.3" fill="#7feadb"/><rect x="391" y="350" width="3.3" height="3.3" fill="#85ebdc"/><rect x="394" y="350" width="3.3" height="3.3" fill="#8cecdd"/><rect x="397" y="350" width="3.3" height="3.3" fill="#94eede"/><rect x="400" y="350" width="3.3" height="3.3" fill="#a0f0df"/><rect x="403" y="350" width="3.3" height="3.3" fill="#b0f2e1"/><rect x="406" y="350" width="3.3" height="3.3" fill="#c2f5e3"/><rect x="409" y="350" width="3.3" height="3.3" fill="#d3f9e7"/><rect x="412" y="350" width="3.3" height="3.3" fill="#e0fbea"/><rect x="415" y="350" width="3.3" height="3.3" fill="#e9fced"/><rect x="418" y="350" width="3.3" height="3.3" fill="#eefdf0"/><rect x="421" y="350" width="3.3" height="3.3" fill="#f2fef2"/><rect x="424" y="350" width="3.3" height="3.3" fill="#f5fef3"/><rect x="427" y="350" width="3.3" height="3.3" fill="#f8fef4"/><rect x="430" y="350" width="3.3" height="3.3" fill="#f9fff4"/><rect x="433" y="350" width="3.3" height="3.3" fill="#fafff4"/><rect x="436" y="350" width="3.3" height="3.3" fill="#fbfff3"/><rect x="439" y="350" width="3.3" height="3.3" fill="#fcfef2"/><rect x="442" y="350" width="3.3" height="3.3" fill="#fcfef0"/><rect x="445" y="350" width="3.3" height="3.3" fill="#fdfeee"/><rect x="448" y="350" width="3.3" height="3.3" fill="#fdfdeb"/><rect x="451" y="350" width="3.3" height="3.3" fill="#fdfce7"/><rect x="454" y="350" width="3.3" height="3.3" fill="#fdf9e1"/><rect x="457" y="350" width="3.3" height="3.3" fill="#fef5d8"/><rect x="460" y="350" width="3.3" height="3.3" fill="#feeecd"/><rect x="463" y="350" width="3.3" height="3.3" fill="#fde4c0"/><rect x="466" y="350" width="3.3" height="3.3" fill="#fdd8b3"/><rect x="469" y="350" width="3.3" height="3.3" fill="#fdcba8"/><rect x="472" y="350" width="3.3" height="3.3" fill="#fcbf9f"/><rect x="475" y="350" width="3.3" height="3.3" fill="#fcb397"/><rect x="478" y="350" width="3.3" height="3.3" fill="#fba88f"/><rect x="481" y="350" width="3.3" height="3.3" fill="#fa9d86"/><rect x="484" y="350" width="3.3" height="3.3" fill="#f9927c"/><rect x="487" y="350" width="3.3" height="3.3" fill="#f8876f"/><rect x="490" y="350" width="3.3" height="3.3" fill="#f77b61"/><rect x="493" y="350" width="3.3" height="3.3" fill="#f67053"/><rect x="496" y="350" width="3.3" height="3.3" fill="#f46647"/><rect x="499" y="350" width="3.3" height="3.3" fill="#f35d3e"/><rect x="502" y="350" width="3.3" height="3.3" fill="#f35739"/><rect x="505" y="350" width="3.3" height="3.3" fill="#f25335"/><rect x="508" y="350" width="3.3" height="3.3" fill="#f24f34"/><rect x="511" y="350" width="3.3" height="3.3" fill="#f24d33"/><rect x="514" y="350" width="3.3" height="3.3" fill="#f24b32"/><rect x="517" y="350" width="3.3" height="3.3" fill="#f14931"/><rect x="520" y="350" width="3.3" height="3.3" fill="#f14731"/><rect x="523" y="350" width="3.3" height="3.3" fill="#f14330"/><rect x="526" y="350" width="3.3" height="3.3" fill="#f13f2e"/><rect x="529" y="350" width="3.3" height="3.3" fill="#f1392d"/><rect x="532" y="350" width="3.3" height="3.3" fill="#f0342b"/><rect x="535" y="350" width="3.3" height="3.3" fill="#f02f2a"/><rect x="538" y="350" width="3.3" height="3.3" fill="#f02c29"/><rect x="541" y="350" width="3.3" height="3.3" fill="#f02b29"/><rect x="358" y="353" width="3.3" height="3.3" fill="#5bdcc7"/><rect x="361" y="353" width="3.3" height="3.3" fill="#5cdcc9"/><rect x="364" y="353" width="3.3" height="3.3" fill="#5dddcb"/><rect x="367" y="353" width="3.3" height="3.3" fill="#5fddce"/><rect x="370" y="353" width="3.3" height="3.3" fill="#63dfd0"/><rect x="373" y="353" width="3.3" height="3.3" fill="#66e1d3"/><rect x="376" y="353" width="3.3" height="3.3" fill="#6be3d5"/><rect x="379" y="353" width="3.3" height="3.3" fill="#70e5d8"/><rect x="382" y="353" width="3.3" height="3.3" fill="#76e7da"/><rect x="385" y="353" width="3.3" height="3.3" fill="#7ce8db"/><rect x="388" y="353" width="3.3" height="3.3" fill="#82eadd"/><rect x="391" y="353" width="3.3" height="3.3" fill="#88ebde"/><rect x="394" y="353" width="3.3" height="3.3" fill="#8fecdf"/><rect x="397" y="353" width="3.3" height="3.3" fill="#98ede0"/><rect x="400" y="353" width="3.3" height="3.3" fill="#a3efe2"/><rect x="403" y="353" width="3.3" height="3.3" fill="#b1f2e5"/><rect x="406" y="353" width="3.3" height="3.3" fill="#c2f5e8"/><rect x="409" y="353" width="3.3" height="3.3" fill="#d3f8ec"/><rect x="412" y="353" width="3.3" height="3.3" fill="#e0fbef"/><rect x="415" y="353" width="3.3" height="3.3" fill="#e9fcf2"/><rect x="418" y="353" width="3.3" height="3.3" fill="#effdf4"/><rect x="421" y="353" width="3.3" height="3.3" fill="#f3fef5"/><rect x="424" y="353" width="3.3" height="3.3" fill="#f6fef6"/><rect x="427" y="353" width="3.3" height="3.3" fill="#f8fef7"/><rect x="430" y="353" width="3.3" height="3.3" fill="#fafff7"/><rect x="433" y="353" width="3.3" height="3.3" fill="#fbfff7"/><rect x="436" y="353" width="3.3" height="3.3" fill="#fcfef6"/><rect x="439" y="353" width="3.3" height="3.3" fill="#fcfef5"/><rect x="442" y="353" width="3.3" height="3.3" fill="#fdfef4"/><rect x="445" y="353" width="3.3" height="3.3" fill="#fdfdf2"/><rect x="448" y="353" width="3.3" height="3.3" fill="#fefcf0"/><rect x="451" y="353" width="3.3" height="3.3" fill="#fefbec"/><rect x="454" y="353" width="3.3" height="3.3" fill="#fef8e7"/><rect x="457" y="353" width="3.3" height="3.3" fill="#fef3df"/><rect x="460" y="353" width="3.3" height="3.3" fill="#feebd3"/><rect x="463" y="353" width="3.3" height="3.3" fill="#fedfc5"/><rect x="466" y="353" width="3.3" height="3.3" fill="#fdd1b6"/><rect x="469" y="353" width="3.3" height="3.3" fill="#fdc1a9"/><rect x="472" y="353" width="3.3" height="3.3" fill="#fcb39f"/><rect x="475" y="353" width="3.3" height="3.3" fill="#fba796"/><rect x="478" y="353" width="3.3" height="3.3" fill="#fa9b8f"/><rect x="481" y="353" width="3.3" height="3.3" fill="#fa9087"/><rect x="484" y="353" width="3.3" height="3.3" fill="#f9857d"/><rect x="487" y="353" width="3.3" height="3.3" fill="#f77972"/><rect x="490" y="353" width="3.3" height="3.3" fill="#f66d64"/><rect x="493" y="353" width="3.3" height="3.3" fill="#f56256"/><rect x="496" y="353" width="3.3" height="3.3" fill="#f4584a"/><rect x="499" y="353" width="3.3" height="3.3" fill="#f35141"/><rect x="502" y="353" width="3.3" height="3.3" fill="#f24d3b"/><rect x="505" y="353" width="3.3" height="3.3" fill="#f24a37"/><rect x="508" y="353" width="3.3" height="3.3" fill="#f14835"/><rect x="511" y="353" width="3.3" height="3.3" fill="#f14734"/><rect x="514" y="353" width="3.3" height="3.3" fill="#f14533"/><rect x="517" y="353" width="3.3" height="3.3" fill="#f14332"/><rect x="520" y="353" width="3.3" height="3.3" fill="#f14031"/><rect x="523" y="353" width="3.3" height="3.3" fill="#f13d2f"/><rect x="526" y="353" width="3.3" height="3.3" fill="#f1382e"/><rect x="529" y="353" width="3.3" height="3.3" fill="#f0332c"/><rect x="532" y="353" width="3.3" height="3.3" fill="#f02f2b"/><rect x="535" y="353" width="3.3" height="3.3" fill="#f02c2a"/><rect x="538" y="353" width="3.3" height="3.3" fill="#f02a29"/><rect x="541" y="353" width="3.3" height="3.3" fill="#f02928"/><rect x="358" y="356" width="3.3" height="3.3" fill="#5adacf"/><rect x="361" y="356" width="3.3" height="3.3" fill="#5bdbd0"/><rect x="364" y="356" width="3.3" height="3.3" fill="#5cdbd1"/><rect x="367" y="356" width="3.3" height="3.3" fill="#5edcd3"/><rect x="370" y="356" width="3.3" height="3.3" fill="#61ddd4"/><rect x="373" y="356" width="3.3" height="3.3" fill="#65dfd6"/><rect x="376" y="356" width="3.3" height="3.3" fill="#6ae1d8"/><rect x="379" y="356" width="3.3" height="3.3" fill="#70e4d9"/><rect x="382" y="356" width="3.3" height="3.3" fill="#76e6db"/><rect x="385" y="356" width="3.3" height="3.3" fill="#7de8dd"/><rect x="388" y="356" width="3.3" height="3.3" fill="#84e9de"/><rect x="391" y="356" width="3.3" height="3.3" fill="#8beadf"/><rect x="394" y="356" width="3.3" height="3.3" fill="#92ece0"/><rect x="397" y="356" width="3.3" height="3.3" fill="#9aede2"/><rect x="400" y="356" width="3.3" height="3.3" fill="#a4efe4"/><rect x="403" y="356" width="3.3" height="3.3" fill="#b2f1e6"/><rect x="406" y="356" width="3.3" height="3.3" fill="#c1f4ea"/><rect x="409" y="356" width="3.3" height="3.3" fill="#d2f7ee"/><rect x="412" y="356" width="3.3" height="3.3" fill="#dffaf1"/><rect x="415" y="356" width="3.3" height="3.3" fill="#e8fcf4"/><rect x="418" y="356" width="3.3" height="3.3" fill="#eefdf5"/><rect x="421" y="356" width="3.3" height="3.3" fill="#f2fdf7"/><rect x="424" y="356" width="3.3" height="3.3" fill="#f5fef8"/><rect x="427" y="356" width="3.3" height="3.3" fill="#f8fef8"/><rect x="430" y="356" width="3.3" height="3.3" fill="#f9fef8"/><rect x="433" y="356" width="3.3" height="3.3" fill="#fbfef8"/><rect x="436" y="356" width="3.3" height="3.3" fill="#fcfef8"/><rect x="439" y="356" width="3.3" height="3.3" fill="#fdfef8"/><rect x="442" y="356" width="3.3" height="3.3" fill="#fdfdf7"/><rect x="445" y="356" width="3.3" height="3.3" fill="#fefcf5"/><rect x="448" y="356" width="3.3" height="3.3" fill="#fefbf3"/><rect x="451" y="356" width="3.3" height="3.3" fill="#fef9f0"/><rect x="454" y="356" width="3.3" height="3.3" fill="#fef6eb"/><rect x="457" y="356" width="3.3" height="3.3" fill="#fef1e4"/><rect x="460" y="356" width="3.3" height="3.3" fill="#fee8d9"/><rect x="463" y="356" width="3.3" height="3.3" fill="#fddaca"/><rect x="466" y="356" width="3.3" height="3.3" fill="#fdc9b9"/><rect x="469" y="356" width="3.3" height="3.3" fill="#fcb7aa"/><rect x="472" y="356" width="3.3" height="3.3" fill="#fba89e"/><rect x="475" y="356" width="3.3" height="3.3" fill="#fa9a94"/><rect x="478" y="356" width="3.3" height="3.3" fill="#fa8e8c"/><rect x="481" y="356" width="3.3" height="3.3" fill="#f98384"/><rect x="484" y="356" width="3.3" height="3.3" fill="#f8787b"/><rect x="487" y="356" width="3.3" height="3.3" fill="#f66c70"/><rect x="490" y="356" width="3.3" height="3.3" fill="#f56064"/><rect x="493" y="356" width="3.3" height="3.3" fill="#f45557"/><rect x="496" y="356" width="3.3" height="3.3" fill="#f34c4c"/><rect x="499" y="356" width="3.3" height="3.3" fill="#f24743"/><rect x="502" y="356" width="3.3" height="3.3" fill="#f1433d"/><rect x="505" y="356" width="3.3" height="3.3" fill="#f14239"/><rect x="508" y="356" width="3.3" height="3.3" fill="#f14136"/><rect x="511" y="356" width="3.3" height="3.3" fill="#f14035"/><rect x="514" y="356" width="3.3" height="3.3" fill="#f13f34"/><rect x="517" y="356" width="3.3" height="3.3" fill="#f13d32"/><rect x="520" y="356" width="3.3" height="3.3" fill="#f13a31"/><rect x="523" y="356" width="3.3" height="3.3" fill="#f1362f"/><rect x="526" y="356" width="3.3" height="3.3" fill="#f0322d"/><rect x="529" y="356" width="3.3" height="3.3" fill="#f02f2b"/><rect x="532" y="356" width="3.3" height="3.3" fill="#f02c2a"/><rect x="535" y="356" width="3.3" height="3.3" fill="#f02a29"/><rect x="538" y="356" width="3.3" height="3.3" fill="#f02929"/><rect x="541" y="356" width="3.3" height="3.3" fill="#f02928"/><rect x="358" y="359" width="3.3" height="3.3" fill="#5ad9d4"/><rect x="361" y="359" width="3.3" height="3.3" fill="#5adad4"/><rect x="364" y="359" width="3.3" height="3.3" fill="#5bdad5"/><rect x="367" y="359" width="3.3" height="3.3" fill="#5ddbd6"/><rect x="370" y="359" width="3.3" height="3.3" fill="#60dcd7"/><rect x="373" y="359" width="3.3" height="3.3" fill="#63ded8"/><rect x="376" y="359" width="3.3" height="3.3" fill="#69e0d9"/><rect x="379" y="359" width="3.3" height="3.3" fill="#6fe2db"/><rect x="382" y="359" width="3.3" height="3.3" fill="#76e4dc"/><rect x="385" y="359" width="3.3" height="3.3" fill="#7ee6de"/><rect x="388" y="359" width="3.3" height="3.3" fill="#86e8df"/><rect x="391" y="359" width="3.3" height="3.3" fill="#8de9e1"/><rect x="394" y="359" width="3.3" height="3.3" fill="#94eae2"/><rect x="397" y="359" width="3.3" height="3.3" fill="#9cece3"/><rect x="400" y="359" width="3.3" height="3.3" fill="#a5ede5"/><rect x="403" y="359" width="3.3" height="3.3" fill="#b2efe8"/><rect x="406" y="359" width="3.3" height="3.3" fill="#c0f2eb"/><rect x="409" y="359" width="3.3" height="3.3" fill="#d0f6ee"/><rect x="412" y="359" width="3.3" height="3.3" fill="#dcf8f1"/><rect x="415" y="359" width="3.3" height="3.3" fill="#e6faf4"/><rect x="418" y="359" width="3.3" height="3.3" fill="#ecfcf6"/><rect x="421" y="359" width="3.3" height="3.3" fill="#f1fcf7"/><rect x="424" y="359" width="3.3" height="3.3" fill="#f4fdf8"/><rect x="427" y="359" width="3.3" height="3.3" fill="#f7fdf9"/><rect x="430" y="359" width="3.3" height="3.3" fill="#f9fdf9"/><rect x="433" y="359" width="3.3" height="3.3" fill="#fafdfa"/><rect x="436" y="359" width="3.3" height="3.3" fill="#fcfdf9"/><rect x="439" y="359" width="3.3" height="3.3" fill="#fdfdf9"/><rect x="442" y="359" width="3.3" height="3.3" fill="#fdfcf8"/><rect x="445" y="359" width="3.3" height="3.3" fill="#fefbf7"/><rect x="448" y="359" width="3.3" height="3.3" fill="#fef9f5"/><rect x="451" y="359" width="3.3" height="3.3" fill="#fef7f2"/><rect x="454" y="359" width="3.3" height="3.3" fill="#fef3ee"/><rect x="457" y="359" width="3.3" height="3.3" fill="#feeee8"/><rect x="460" y="359" width="3.3" height="3.3" fill="#fee4dd"/><rect x="463" y="359" width="3.3" height="3.3" fill="#fdd5ce"/><rect x="466" y="359" width="3.3" height="3.3" fill="#fcc3bc"/><rect x="469" y="359" width="3.3" height="3.3" fill="#fbafab"/><rect x="472" y="359" width="3.3" height="3.3" fill="#fb9d9c"/><rect x="475" y="359" width="3.3" height="3.3" fill="#fa8f91"/><rect x="478" y="359" width="3.3" height="3.3" fill="#f98389"/><rect x="481" y="359" width="3.3" height="3.3" fill="#f87780"/><rect x="484" y="359" width="3.3" height="3.3" fill="#f76c77"/><rect x="487" y="359" width="3.3" height="3.3" fill="#f5606d"/><rect x="490" y="359" width="3.3" height="3.3" fill="#f45562"/><rect x="493" y="359" width="3.3" height="3.3" fill="#f34b57"/><rect x="496" y="359" width="3.3" height="3.3" fill="#f2434c"/><rect x="499" y="359" width="3.3" height="3.3" fill="#f13e44"/><rect x="502" y="359" width="3.3" height="3.3" fill="#f13c3e"/><rect x="505" y="359" width="3.3" height="3.3" fill="#f13b3a"/><rect x="508" y="359" width="3.3" height="3.3" fill="#f13a37"/><rect x="511" y="359" width="3.3" height="3.3" fill="#f13a36"/><rect x="514" y="359" width="3.3" height="3.3" fill="#f13934"/><rect x="517" y="359" width="3.3" height="3.3" fill="#f13732"/><rect x="520" y="359" width="3.3" height="3.3" fill="#f03430"/><rect x="523" y="359" width="3.3" height="3.3" fill="#f0312e"/><rect x="526" y="359" width="3.3" height="3.3" fill="#f02e2c"/><rect x="529" y="359" width="3.3" height="3.3" fill="#f02c2b"/><rect x="532" y="359" width="3.3" height="3.3" fill="#f02a2a"/><rect x="535" y="359" width="3.3" height="3.3" fill="#f02929"/><rect x="538" y="359" width="3.3" height="3.3" fill="#f02928"/><rect x="541" y="359" width="3.3" height="3.3" fill="#f02828"/><rect x="358" y="362" width="3.3" height="3.3" fill="#59d8d6"/><rect x="361" y="362" width="3.3" height="3.3" fill="#5ad9d7"/><rect x="364" y="362" width="3.3" height="3.3" fill="#5ad9d7"/><rect x="367" y="362" width="3.3" height="3.3" fill="#5cd9d8"/><rect x="370" y="362" width="3.3" height="3.3" fill="#5edad8"/><rect x="373" y="362" width="3.3" height="3.3" fill="#62dcd9"/><rect x="376" y="362" width="3.3" height="3.3" fill="#67ddda"/><rect x="379" y="362" width="3.3" height="3.3" fill="#6ee0dc"/><rect x="382" y="362" width="3.3" height="3.3" fill="#76e2de"/><rect x="385" y="362" width="3.3" height="3.3" fill="#7fe4e0"/><rect x="388" y="362" width="3.3" height="3.3" fill="#88e6e1"/><rect x="391" y="362" width="3.3" height="3.3" fill="#8fe7e2"/><rect x="394" y="362" width="3.3" height="3.3" fill="#96e8e4"/><rect x="397" y="362" width="3.3" height="3.3" fill="#9de9e5"/><rect x="400" y="362" width="3.3" height="3.3" fill="#a6ebe6"/><rect x="403" y="362" width="3.3" height="3.3" fill="#b1ede9"/><rect x="406" y="362" width="3.3" height="3.3" fill="#bff0eb"/><rect x="409" y="362" width="3.3" height="3.3" fill="#cdf3ee"/><rect x="412" y="362" width="3.3" height="3.3" fill="#daf6f1"/><rect x="415" y="362" width="3.3" height="3.3" fill="#e3f8f4"/><rect x="418" y="362" width="3.3" height="3.3" fill="#eafaf5"/><rect x="421" y="362" width="3.3" height="3.3" fill="#effbf7"/><rect x="424" y="362" width="3.3" height="3.3" fill="#f2fcf8"/><rect x="427" y="362" width="3.3" height="3.3" fill="#f5fcf9"/><rect x="430" y="362" width="3.3" height="3.3" fill="#f8fcf9"/><rect x="433" y="362" width="3.3" height="3.3" fill="#fafcfa"/><rect x="436" y="362" width="3.3" height="3.3" fill="#fbfcfa"/><rect x="439" y="362" width="3.3" height="3.3" fill="#fcfbf9"/><rect x="442" y="362" width="3.3" height="3.3" fill="#fdfaf9"/><rect x="445" y="362" width="3.3" height="3.3" fill="#fdf8f7"/><rect x="448" y="362" width="3.3" height="3.3" fill="#fef6f6"/><rect x="451" y="362" width="3.3" height="3.3" fill="#fef4f3"/><rect x="454" y="362" width="3.3" height="3.3" fill="#fef0ef"/><rect x="457" y="362" width="3.3" height="3.3" fill="#feeae9"/><rect x="460" y="362" width="3.3" height="3.3" fill="#fee1e0"/><rect x="463" y="362" width="3.3" height="3.3" fill="#fdd2d1"/><rect x="466" y="362" width="3.3" height="3.3" fill="#fcbebf"/><rect x="469" y="362" width="3.3" height="3.3" fill="#fba8ac"/><rect x="472" y="362" width="3.3" height="3.3" fill="#fa959b"/><rect x="475" y="362" width="3.3" height="3.3" fill="#f9858f"/><rect x="478" y="362" width="3.3" height="3.3" fill="#f87985"/><rect x="481" y="362" width="3.3" height="3.3" fill="#f76d7c"/><rect x="484" y="362" width="3.3" height="3.3" fill="#f66273"/><rect x="487" y="362" width="3.3" height="3.3" fill="#f55769"/><rect x="490" y="362" width="3.3" height="3.3" fill="#f34c5f"/><rect x="493" y="362" width="3.3" height="3.3" fill="#f24355"/><rect x="496" y="362" width="3.3" height="3.3" fill="#f23c4c"/><rect x="499" y="362" width="3.3" height="3.3" fill="#f13844"/><rect x="502" y="362" width="3.3" height="3.3" fill="#f1363e"/><rect x="505" y="362" width="3.3" height="3.3" fill="#f1353b"/><rect x="508" y="362" width="3.3" height="3.3" fill="#f03538"/><rect x="511" y="362" width="3.3" height="3.3" fill="#f03536"/><rect x="514" y="362" width="3.3" height="3.3" fill="#f03434"/><rect x="517" y="362" width="3.3" height="3.3" fill="#f03232"/><rect x="520" y="362" width="3.3" height="3.3" fill="#f03030"/><rect x="523" y="362" width="3.3" height="3.3" fill="#f02e2d"/><rect x="526" y="362" width="3.3" height="3.3" fill="#f02c2b"/><rect x="529" y="362" width="3.3" height="3.3" fill="#f02a2a"/><rect x="532" y="362" width="3.3" height="3.3" fill="#f02929"/><rect x="535" y="362" width="3.3" height="3.3" fill="#f02929"/><rect x="538" y="362" width="3.3" height="3.3" fill="#f02828"/><rect x="541" y="362" width="3.3" height="3.3" fill="#f02828"/><rect x="358" y="365" width="3.3" height="3.3" fill="#59d7d8"/><rect x="361" y="365" width="3.3" height="3.3" fill="#59d7d8"/><rect x="364" y="365" width="3.3" height="3.3" fill="#5ad7d8"/><rect x="367" y="365" width="3.3" height="3.3" fill="#5bd7d9"/><rect x="370" y="365" width="3.3" height="3.3" fill="#5dd8da"/><rect x="373" y="365" width="3.3" height="3.3" fill="#60d9db"/><rect x="376" y="365" width="3.3" height="3.3" fill="#65dadc"/><rect x="379" y="365" width="3.3" height="3.3" fill="#6ddcde"/><rect x="382" y="365" width="3.3" height="3.3" fill="#76dee0"/><rect x="385" y="365" width="3.3" height="3.3" fill="#80e0e2"/><rect x="388" y="365" width="3.3" height="3.3" fill="#88e2e3"/><rect x="391" y="365" width="3.3" height="3.3" fill="#8fe4e5"/><rect x="394" y="365" width="3.3" height="3.3" fill="#96e5e6"/><rect x="397" y="365" width="3.3" height="3.3" fill="#9ce6e7"/><rect x="400" y="365" width="3.3" height="3.3" fill="#a5e8e8"/><rect x="403" y="365" width="3.3" height="3.3" fill="#b0eaea"/><rect x="406" y="365" width="3.3" height="3.3" fill="#bdedec"/><rect x="409" y="365" width="3.3" height="3.3" fill="#caf0ef"/><rect x="412" y="365" width="3.3" height="3.3" fill="#d6f3f1"/><rect x="415" y="365" width="3.3" height="3.3" fill="#e0f5f3"/><rect x="418" y="365" width="3.3" height="3.3" fill="#e7f7f5"/><rect x="421" y="365" width="3.3" height="3.3" fill="#ecf8f6"/><rect x="424" y="365" width="3.3" height="3.3" fill="#f0f9f7"/><rect x="427" y="365" width="3.3" height="3.3" fill="#f3faf8"/><rect x="430" y="365" width="3.3" height="3.3" fill="#f6faf9"/><rect x="433" y="365" width="3.3" height="3.3" fill="#f8faf9"/><rect x="436" y="365" width="3.3" height="3.3" fill="#faf9f9"/><rect x="439" y="365" width="3.3" height="3.3" fill="#fbf8f9"/><rect x="442" y="365" width="3.3" height="3.3" fill="#fcf6f8"/><rect x="445" y="365" width="3.3" height="3.3" fill="#fcf4f7"/><rect x="448" y="365" width="3.3" height="3.3" fill="#fdf2f5"/><rect x="451" y="365" width="3.3" height="3.3" fill="#fdeff2"/><rect x="454" y="365" width="3.3" height="3.3" fill="#fdebef"/><rect x="457" y="365" width="3.3" height="3.3" fill="#fde6e9"/><rect x="460" y="365" width="3.3" height="3.3" fill="#fddce1"/><rect x="463" y="365" width="3.3" height="3.3" fill="#fcced3"/><rect x="466" y="365" width="3.3" height="3.3" fill="#fbbac1"/><rect x="469" y="365" width="3.3" height="3.3" fill="#faa3ac"/><rect x="472" y="365" width="3.3" height="3.3" fill="#f98e9a"/><rect x="475" y="365" width="3.3" height="3.3" fill="#f87d8c"/><rect x="478" y="365" width="3.3" height="3.3" fill="#f77081"/><rect x="481" y="365" width="3.3" height="3.3" fill="#f66578"/><rect x="484" y="365" width="3.3" height="3.3" fill="#f55a6f"/><rect x="487" y="365" width="3.3" height="3.3" fill="#f44f66"/><rect x="490" y="365" width="3.3" height="3.3" fill="#f3455c"/><rect x="493" y="365" width="3.3" height="3.3" fill="#f23d53"/><rect x="496" y="365" width="3.3" height="3.3" fill="#f1374a"/><rect x="499" y="365" width="3.3" height="3.3" fill="#f13343"/><rect x="502" y="365" width="3.3" height="3.3" fill="#f0313e"/><rect x="505" y="365" width="3.3" height="3.3" fill="#f0313a"/><rect x="508" y="365" width="3.3" height="3.3" fill="#f03138"/><rect x="511" y="365" width="3.3" height="3.3" fill="#f03036"/><rect x="514" y="365" width="3.3" height="3.3" fill="#f03034"/><rect x="517" y="365" width="3.3" height="3.3" fill="#f02f31"/><rect x="520" y="365" width="3.3" height="3.3" fill="#f02d2f"/><rect x="523" y="365" width="3.3" height="3.3" fill="#f02c2d"/><rect x="526" y="365" width="3.3" height="3.3" fill="#f02a2b"/><rect x="529" y="365" width="3.3" height="3.3" fill="#f0292a"/><rect x="532" y="365" width="3.3" height="3.3" fill="#f02929"/><rect x="535" y="365" width="3.3" height="3.3" fill="#f02829"/><rect x="538" y="365" width="3.3" height="3.3" fill="#f02828"/><rect x="541" y="365" width="3.3" height="3.3" fill="#f02828"/><rect x="358" y="368" width="3.3" height="3.3" fill="#58d6d9"/><rect x="361" y="368" width="3.3" height="3.3" fill="#58d5d9"/><rect x="364" y="368" width="3.3" height="3.3" fill="#59d5da"/><rect x="367" y="368" width="3.3" height="3.3" fill="#59d4db"/><rect x="370" y="368" width="3.3" height="3.3" fill="#5bd4db"/><rect x="373" y="368" width="3.3" height="3.3" fill="#5ed4dd"/><rect x="376" y="368" width="3.3" height="3.3" fill="#63d5de"/><rect x="379" y="368" width="3.3" height="3.3" fill="#6ad7e0"/><rect x="382" y="368" width="3.3" height="3.3" fill="#74d9e2"/><rect x="385" y="368" width="3.3" height="3.3" fill="#7edbe4"/><rect x="388" y="368" width="3.3" height="3.3" fill="#87dde6"/><rect x="391" y="368" width="3.3" height="3.3" fill="#8edfe7"/><rect x="394" y="368" width="3.3" height="3.3" fill="#94e1e8"/><rect x="397" y="368" width="3.3" height="3.3" fill="#9be2e9"/><rect x="400" y="368" width="3.3" height="3.3" fill="#a3e4e9"/><rect x="403" y="368" width="3.3" height="3.3" fill="#ade6eb"/><rect x="406" y="368" width="3.3" height="3.3" fill="#bae9ed"/><rect x="409" y="368" width="3.3" height="3.3" fill="#c7ecee"/><rect x="412" y="368" width="3.3" height="3.3" fill="#d2eff0"/><rect x="415" y="368" width="3.3" height="3.3" fill="#dcf1f2"/><rect x="418" y="368" width="3.3" height="3.3" fill="#e3f3f4"/><rect x="421" y="368" width="3.3" height="3.3" fill="#e8f5f5"/><rect x="424" y="368" width="3.3" height="3.3" fill="#edf6f6"/><rect x="427" y="368" width="3.3" height="3.3" fill="#f0f6f7"/><rect x="430" y="368" width="3.3" height="3.3" fill="#f3f6f8"/><rect x="433" y="368" width="3.3" height="3.3" fill="#f6f6f8"/><rect x="436" y="368" width="3.3" height="3.3" fill="#f7f5f8"/><rect x="439" y="368" width="3.3" height="3.3" fill="#f9f3f7"/><rect x="442" y="368" width="3.3" height="3.3" fill="#faf1f6"/><rect x="445" y="368" width="3.3" height="3.3" fill="#fbeff5"/><rect x="448" y="368" width="3.3" height="3.3" fill="#fbecf3"/><rect x="451" y="368" width="3.3" height="3.3" fill="#fce9f0"/><rect x="454" y="368" width="3.3" height="3.3" fill="#fce5ed"/><rect x="457" y="368" width="3.3" height="3.3" fill="#fce0e8"/><rect x="460" y="368" width="3.3" height="3.3" fill="#fcd7e0"/><rect x="463" y="368" width="3.3" height="3.3" fill="#fcc8d3"/><rect x="466" y="368" width="3.3" height="3.3" fill="#fbb4c1"/><rect x="469" y="368" width="3.3" height="3.3" fill="#f99cac"/><rect x="472" y="368" width="3.3" height="3.3" fill="#f88699"/><rect x="475" y="368" width="3.3" height="3.3" fill="#f7758a"/><rect x="478" y="368" width="3.3" height="3.3" fill="#f6687f"/><rect x="481" y="368" width="3.3" height="3.3" fill="#f55c75"/><rect x="484" y="368" width="3.3" height="3.3" fill="#f4526c"/><rect x="487" y="368" width="3.3" height="3.3" fill="#f34963"/><rect x="490" y="368" width="3.3" height="3.3" fill="#f24059"/><rect x="493" y="368" width="3.3" height="3.3" fill="#f13850"/><rect x="496" y="368" width="3.3" height="3.3" fill="#f13348"/><rect x="499" y="368" width="3.3" height="3.3" fill="#f13042"/><rect x="502" y="368" width="3.3" height="3.3" fill="#f02e3d"/><rect x="505" y="368" width="3.3" height="3.3" fill="#f02d3a"/><rect x="508" y="368" width="3.3" height="3.3" fill="#f02d37"/><rect x="511" y="368" width="3.3" height="3.3" fill="#f02d35"/><rect x="514" y="368" width="3.3" height="3.3" fill="#f02d33"/><rect x="517" y="368" width="3.3" height="3.3" fill="#f02c31"/><rect x="520" y="368" width="3.3" height="3.3" fill="#f02b2e"/><rect x="523" y="368" width="3.3" height="3.3" fill="#f02a2c"/><rect x="526" y="368" width="3.3" height="3.3" fill="#f0292a"/><rect x="529" y="368" width="3.3" height="3.3" fill="#f02929"/><rect x="532" y="368" width="3.3" height="3.3" fill="#f02829"/><rect x="535" y="368" width="3.3" height="3.3" fill="#f02828"/><rect x="538" y="368" width="3.3" height="3.3" fill="#f02828"/><rect x="541" y="368" width="3.3" height="3.3" fill="#f02828"/><rect x="358" y="371" width="3.3" height="3.3" fill="#57d3db"/><rect x="361" y="371" width="3.3" height="3.3" fill="#57d2db"/><rect x="364" y="371" width="3.3" height="3.3" fill="#57d1dc"/><rect x="367" y="371" width="3.3" height="3.3" fill="#58d0dd"/><rect x="370" y="371" width="3.3" height="3.3" fill="#59cfde"/><rect x="373" y="371" width="3.3" height="3.3" fill="#5bcedf"/><rect x="376" y="371" width="3.3" height="3.3" fill="#60cee1"/><rect x="379" y="371" width="3.3" height="3.3" fill="#67cfe3"/><rect x="382" y="371" width="3.3" height="3.3" fill="#70d2e5"/><rect x="385" y="371" width="3.3" height="3.3" fill="#7ad5e7"/><rect x="388" y="371" width="3.3" height="3.3" fill="#83d7e8"/><rect x="391" y="371" width="3.3" height="3.3" fill="#8ad9e9"/><rect x="394" y="371" width="3.3" height="3.3" fill="#90dbe9"/><rect x="397" y="371" width="3.3" height="3.3" fill="#97ddea"/><rect x="400" y="371" width="3.3" height="3.3" fill="#a0dfeb"/><rect x="403" y="371" width="3.3" height="3.3" fill="#aae2eb"/><rect x="406" y="371" width="3.3" height="3.3" fill="#b6e4ed"/><rect x="409" y="371" width="3.3" height="3.3" fill="#c2e7ee"/><rect x="412" y="371" width="3.3" height="3.3" fill="#cdeaef"/><rect x="415" y="371" width="3.3" height="3.3" fill="#d7ecf1"/><rect x="418" y="371" width="3.3" height="3.3" fill="#deeef2"/><rect x="421" y="371" width="3.3" height="3.3" fill="#e3f0f3"/><rect x="424" y="371" width="3.3" height="3.3" fill="#e8f1f4"/><rect x="427" y="371" width="3.3" height="3.3" fill="#ecf1f5"/><rect x="430" y="371" width="3.3" height="3.3" fill="#eff1f6"/><rect x="433" y="371" width="3.3" height="3.3" fill="#f2f0f6"/><rect x="436" y="371" width="3.3" height="3.3" fill="#f4eff5"/><rect x="439" y="371" width="3.3" height="3.3" fill="#f5edf4"/><rect x="442" y="371" width="3.3" height="3.3" fill="#f7ebf3"/><rect x="445" y="371" width="3.3" height="3.3" fill="#f8e8f1"/><rect x="448" y="371" width="3.3" height="3.3" fill="#f9e5f0"/><rect x="451" y="371" width="3.3" height="3.3" fill="#fae1ed"/><rect x="454" y="371" width="3.3" height="3.3" fill="#faddea"/><rect x="457" y="371" width="3.3" height="3.3" fill="#fbd7e5"/><rect x="460" y="371" width="3.3" height="3.3" fill="#fbcedd"/><rect x="463" y="371" width="3.3" height="3.3" fill="#fabfd1"/><rect x="466" y="371" width="3.3" height="3.3" fill="#f9aabf"/><rect x="469" y="371" width="3.3" height="3.3" fill="#f892aa"/><rect x="472" y="371" width="3.3" height="3.3" fill="#f77c97"/><rect x="475" y="371" width="3.3" height="3.3" fill="#f66b88"/><rect x="478" y="371" width="3.3" height="3.3" fill="#f55e7c"/><rect x="481" y="371" width="3.3" height="3.3" fill="#f45373"/><rect x="484" y="371" width="3.3" height="3.3" fill="#f34a6a"/><rect x="487" y="371" width="3.3" height="3.3" fill="#f34260"/><rect x="490" y="371" width="3.3" height="3.3" fill="#f23a57"/><rect x="493" y="371" width="3.3" height="3.3" fill="#f1344e"/><rect x="496" y="371" width="3.3" height="3.3" fill="#f13047"/><rect x="499" y="371" width="3.3" height="3.3" fill="#f02d41"/><rect x="502" y="371" width="3.3" height="3.3" fill="#f02c3c"/><rect x="505" y="371" width="3.3" height="3.3" fill="#f02b39"/><rect x="508" y="371" width="3.3" height="3.3" fill="#f02b37"/><rect x="511" y="371" width="3.3" height="3.3" fill="#f02b35"/><rect x="514" y="371" width="3.3" height="3.3" fill="#f02b32"/><rect x="517" y="371" width="3.3" height="3.3" fill="#f02a30"/><rect x="520" y="371" width="3.3" height="3.3" fill="#f02a2e"/><rect x="523" y="371" width="3.3" height="3.3" fill="#f0292c"/><rect x="526" y="371" width="3.3" height="3.3" fill="#f0292a"/><rect x="529" y="371" width="3.3" height="3.3" fill="#f02829"/><rect x="532" y="371" width="3.3" height="3.3" fill="#f02829"/><rect x="535" y="371" width="3.3" height="3.3" fill="#f02828"/><rect x="538" y="371" width="3.3" height="3.3" fill="#f02828"/><rect x="541" y="371" width="3.3" height="3.3" fill="#f02828"/><rect x="358" y="374" width="3.3" height="3.3" fill="#56cedd"/><rect x="361" y="374" width="3.3" height="3.3" fill="#55ccde"/><rect x="364" y="374" width="3.3" height="3.3" fill="#55cbdf"/><rect x="367" y="374" width="3.3" height="3.3" fill="#56c9e0"/><rect x="370" y="374" width="3.3" height="3.3" fill="#57c8e1"/><rect x="373" y="374" width="3.3" height="3.3" fill="#59c7e2"/><rect x="376" y="374" width="3.3" height="3.3" fill="#5cc7e4"/><rect x="379" y="374" width="3.3" height="3.3" fill="#63c8e5"/><rect x="382" y="374" width="3.3" height="3.3" fill="#6bcae7"/><rect x="385" y="374" width="3.3" height="3.3" fill="#74cde8"/><rect x="388" y="374" width="3.3" height="3.3" fill="#7dd0e9"/><rect x="391" y="374" width="3.3" height="3.3" fill="#84d3ea"/><rect x="394" y="374" width="3.3" height="3.3" fill="#8bd5ea"/><rect x="397" y="374" width="3.3" height="3.3" fill="#92d7eb"/><rect x="400" y="374" width="3.3" height="3.3" fill="#9ad9eb"/><rect x="403" y="374" width="3.3" height="3.3" fill="#a5dceb"/><rect x="406" y="374" width="3.3" height="3.3" fill="#b1dfec"/><rect x="409" y="374" width="3.3" height="3.3" fill="#bde1ed"/><rect x="412" y="374" width="3.3" height="3.3" fill="#c7e4ee"/><rect x="415" y="374" width="3.3" height="3.3" fill="#d0e6ee"/><rect x="418" y="374" width="3.3" height="3.3" fill="#d7e7ef"/><rect x="421" y="374" width="3.3" height="3.3" fill="#dde9f0"/><rect x="424" y="374" width="3.3" height="3.3" fill="#e2eaf1"/><rect x="427" y="374" width="3.3" height="3.3" fill="#e6eaf2"/><rect x="430" y="374" width="3.3" height="3.3" fill="#e9eaf2"/><rect x="433" y="374" width="3.3" height="3.3" fill="#ece9f2"/><rect x="436" y="374" width="3.3" height="3.3" fill="#eee7f1"/><rect x="439" y="374" width="3.3" height="3.3" fill="#f0e5f0"/><rect x="442" y="374" width="3.3" height="3.3" fill="#f2e2ef"/><rect x="445" y="374" width="3.3" height="3.3" fill="#f4dfed"/><rect x="448" y="374" width="3.3" height="3.3" fill="#f6dbeb"/><rect x="451" y="374" width="3.3" height="3.3" fill="#f7d7e9"/><rect x="454" y="374" width="3.3" height="3.3" fill="#f8d2e5"/><rect x="457" y="374" width="3.3" height="3.3" fill="#f8cbe0"/><rect x="460" y="374" width="3.3" height="3.3" fill="#f8c0d8"/><rect x="463" y="374" width="3.3" height="3.3" fill="#f8b1cc"/><rect x="466" y="374" width="3.3" height="3.3" fill="#f79cbb"/><rect x="469" y="374" width="3.3" height="3.3" fill="#f684a7"/><rect x="472" y="374" width="3.3" height="3.3" fill="#f56e95"/><rect x="475" y="374" width="3.3" height="3.3" fill="#f45e86"/><rect x="478" y="374" width="3.3" height="3.3" fill="#f4527b"/><rect x="481" y="374" width="3.3" height="3.3" fill="#f34971"/><rect x="484" y="374" width="3.3" height="3.3" fill="#f24268"/><rect x="487" y="374" width="3.3" height="3.3" fill="#f23b5f"/><rect x="490" y="374" width="3.3" height="3.3" fill="#f13656"/><rect x="493" y="374" width="3.3" height="3.3" fill="#f1314d"/><rect x="496" y="374" width="3.3" height="3.3" fill="#f02e46"/><rect x="499" y="374" width="3.3" height="3.3" fill="#f02b40"/><rect x="502" y="374" width="3.3" height="3.3" fill="#f02a3c"/><rect x="505" y="374" width="3.3" height="3.3" fill="#f02939"/><rect x="508" y="374" width="3.3" height="3.3" fill="#f02936"/><rect x="511" y="374" width="3.3" height="3.3" fill="#f02934"/><rect x="514" y="374" width="3.3" height="3.3" fill="#f02932"/><rect x="517" y="374" width="3.3" height="3.3" fill="#f02930"/><rect x="520" y="374" width="3.3" height="3.3" fill="#f0292d"/><rect x="523" y="374" width="3.3" height="3.3" fill="#f0292b"/><rect x="526" y="374" width="3.3" height="3.3" fill="#f0282a"/><rect x="529" y="374" width="3.3" height="3.3" fill="#f02829"/><rect x="532" y="374" width="3.3" height="3.3" fill="#f02829"/><rect x="535" y="374" width="3.3" height="3.3" fill="#f02828"/><rect x="538" y="374" width="3.3" height="3.3" fill="#f02828"/><rect x="541" y="374" width="3.3" height="3.3" fill="#f02828"/><rect x="358" y="377" width="3.3" height="3.3" fill="#54c7e0"/><rect x="361" y="377" width="3.3" height="3.3" fill="#54c5e1"/><rect x="364" y="377" width="3.3" height="3.3" fill="#53c4e2"/><rect x="367" y="377" width="3.3" height="3.3" fill="#54c2e3"/><rect x="370" y="377" width="3.3" height="3.3" fill="#54c1e4"/><rect x="373" y="377" width="3.3" height="3.3" fill="#56c0e5"/><rect x="376" y="377" width="3.3" height="3.3" fill="#59c0e6"/><rect x="379" y="377" width="3.3" height="3.3" fill="#5ec1e7"/><rect x="382" y="377" width="3.3" height="3.3" fill="#65c3e8"/><rect x="385" y="377" width="3.3" height="3.3" fill="#6dc6e9"/><rect x="388" y="377" width="3.3" height="3.3" fill="#75c9ea"/><rect x="391" y="377" width="3.3" height="3.3" fill="#7dcbea"/><rect x="394" y="377" width="3.3" height="3.3" fill="#83ceea"/><rect x="397" y="377" width="3.3" height="3.3" fill="#8bd0ea"/><rect x="400" y="377" width="3.3" height="3.3" fill="#93d2ea"/><rect x="403" y="377" width="3.3" height="3.3" fill="#9dd4ea"/><rect x="406" y="377" width="3.3" height="3.3" fill="#a9d7ea"/><rect x="409" y="377" width="3.3" height="3.3" fill="#b5d9ea"/><rect x="412" y="377" width="3.3" height="3.3" fill="#bfdbea"/><rect x="415" y="377" width="3.3" height="3.3" fill="#c7ddeb"/><rect x="418" y="377" width="3.3" height="3.3" fill="#cedeeb"/><rect x="421" y="377" width="3.3" height="3.3" fill="#d4e0ec"/><rect x="424" y="377" width="3.3" height="3.3" fill="#d9e1ed"/><rect x="427" y="377" width="3.3" height="3.3" fill="#dee1ed"/><rect x="430" y="377" width="3.3" height="3.3" fill="#e2e0ed"/><rect x="433" y="377" width="3.3" height="3.3" fill="#e5dfed"/><rect x="436" y="377" width="3.3" height="3.3" fill="#e7ddec"/><rect x="439" y="377" width="3.3" height="3.3" fill="#eadbeb"/><rect x="442" y="377" width="3.3" height="3.3" fill="#ecd8e9"/><rect x="445" y="377" width="3.3" height="3.3" fill="#efd4e8"/><rect x="448" y="377" width="3.3" height="3.3" fill="#f1d0e6"/><rect x="451" y="377" width="3.3" height="3.3" fill="#f3cbe3"/><rect x="454" y="377" width="3.3" height="3.3" fill="#f5c4df"/><rect x="457" y="377" width="3.3" height="3.3" fill="#f5bbda"/><rect x="460" y="377" width="3.3" height="3.3" fill="#f5afd1"/><rect x="463" y="377" width="3.3" height="3.3" fill="#f59ec5"/><rect x="466" y="377" width="3.3" height="3.3" fill="#f489b5"/><rect x="469" y="377" width="3.3" height="3.3" fill="#f473a3"/><rect x="472" y="377" width="3.3" height="3.3" fill="#f35f92"/><rect x="475" y="377" width="3.3" height="3.3" fill="#f25084"/><rect x="478" y="377" width="3.3" height="3.3" fill="#f2477a"/><rect x="481" y="377" width="3.3" height="3.3" fill="#f24071"/><rect x="484" y="377" width="3.3" height="3.3" fill="#f13a68"/><rect x="487" y="377" width="3.3" height="3.3" fill="#f13560"/><rect x="490" y="377" width="3.3" height="3.3" fill="#f13157"/><rect x="493" y="377" width="3.3" height="3.3" fill="#f12e4e"/><rect x="496" y="377" width="3.3" height="3.3" fill="#f02c47"/><rect x="499" y="377" width="3.3" height="3.3" fill="#f02a41"/><rect x="502" y="377" width="3.3" height="3.3" fill="#f0293c"/><rect x="505" y="377" width="3.3" height="3.3" fill="#f02939"/><rect x="508" y="377" width="3.3" height="3.3" fill="#f02836"/><rect x="511" y="377" width="3.3" height="3.3" fill="#f02834"/><rect x="514" y="377" width="3.3" height="3.3" fill="#f02832"/><rect x="517" y="377" width="3.3" height="3.3" fill="#f02830"/><rect x="520" y="377" width="3.3" height="3.3" fill="#f0282d"/><rect x="523" y="377" width="3.3" height="3.3" fill="#f0282b"/><rect x="526" y="377" width="3.3" height="3.3" fill="#f0282a"/><rect x="529" y="377" width="3.3" height="3.3" fill="#f02829"/><rect x="532" y="377" width="3.3" height="3.3" fill="#f02828"/><rect x="535" y="377" width="3.3" height="3.3" fill="#f02828"/><rect x="538" y="377" width="3.3" height="3.3" fill="#f02828"/><rect x="541" y="377" width="3.3" height="3.3" fill="#f02828"/><rect x="358" y="380" width="3.3" height="3.3" fill="#52c1e3"/><rect x="361" y="380" width="3.3" height="3.3" fill="#52bfe4"/><rect x="364" y="380" width="3.3" height="3.3" fill="#52bee5"/><rect x="367" y="380" width="3.3" height="3.3" fill="#52bce5"/><rect x="370" y="380" width="3.3" height="3.3" fill="#52bbe6"/><rect x="373" y="380" width="3.3" height="3.3" fill="#53bbe7"/><rect x="376" y="380" width="3.3" height="3.3" fill="#55bae7"/><rect x="379" y="380" width="3.3" height="3.3" fill="#59bbe8"/><rect x="382" y="380" width="3.3" height="3.3" fill="#5ebce8"/><rect x="385" y="380" width="3.3" height="3.3" fill="#65bee9"/><rect x="388" y="380" width="3.3" height="3.3" fill="#6cc1e9"/><rect x="391" y="380" width="3.3" height="3.3" fill="#73c3e9"/><rect x="394" y="380" width="3.3" height="3.3" fill="#7ac5e9"/><rect x="397" y="380" width="3.3" height="3.3" fill="#81c7e9"/><rect x="400" y="380" width="3.3" height="3.3" fill="#89c9e9"/><rect x="403" y="380" width="3.3" height="3.3" fill="#93cbe8"/><rect x="406" y="380" width="3.3" height="3.3" fill="#9fcde7"/><rect x="409" y="380" width="3.3" height="3.3" fill="#aacfe7"/><rect x="412" y="380" width="3.3" height="3.3" fill="#b3d0e6"/><rect x="415" y="380" width="3.3" height="3.3" fill="#bbd1e6"/><rect x="418" y="380" width="3.3" height="3.3" fill="#c2d2e6"/><rect x="421" y="380" width="3.3" height="3.3" fill="#c8d4e6"/><rect x="424" y="380" width="3.3" height="3.3" fill="#ced5e7"/><rect x="427" y="380" width="3.3" height="3.3" fill="#d3d5e8"/><rect x="430" y="380" width="3.3" height="3.3" fill="#d7d5e8"/><rect x="433" y="380" width="3.3" height="3.3" fill="#dbd4e7"/><rect x="436" y="380" width="3.3" height="3.3" fill="#dfd2e6"/><rect x="439" y="380" width="3.3" height="3.3" fill="#e2d0e5"/><rect x="442" y="380" width="3.3" height="3.3" fill="#e5cde4"/><rect x="445" y="380" width="3.3" height="3.3" fill="#e9c9e2"/><rect x="448" y="380" width="3.3" height="3.3" fill="#ecc4e0"/><rect x="451" y="380" width="3.3" height="3.3" fill="#efbddc"/><rect x="454" y="380" width="3.3" height="3.3" fill="#f1b5d8"/><rect x="457" y="380" width="3.3" height="3.3" fill="#f2aad2"/><rect x="460" y="380" width="3.3" height="3.3" fill="#f29cc9"/><rect x="463" y="380" width="3.3" height="3.3" fill="#f28bbd"/><rect x="466" y="380" width="3.3" height="3.3" fill="#f277ae"/><rect x="469" y="380" width="3.3" height="3.3" fill="#f1629e"/><rect x="472" y="380" width="3.3" height="3.3" fill="#f1518f"/><rect x="475" y="380" width="3.3" height="3.3" fill="#f14583"/><rect x="478" y="380" width="3.3" height="3.3" fill="#f13d7a"/><rect x="481" y="380" width="3.3" height="3.3" fill="#f13872"/><rect x="484" y="380" width="3.3" height="3.3" fill="#f1346a"/><rect x="487" y="380" width="3.3" height="3.3" fill="#f13161"/><rect x="490" y="380" width="3.3" height="3.3" fill="#f02f59"/><rect x="493" y="380" width="3.3" height="3.3" fill="#f02c51"/><rect x="496" y="380" width="3.3" height="3.3" fill="#f02b49"/><rect x="499" y="380" width="3.3" height="3.3" fill="#f02943"/><rect x="502" y="380" width="3.3" height="3.3" fill="#f0293e"/><rect x="505" y="380" width="3.3" height="3.3" fill="#f0283a"/><rect x="508" y="380" width="3.3" height="3.3" fill="#f02837"/><rect x="511" y="380" width="3.3" height="3.3" fill="#f02835"/><rect x="514" y="380" width="3.3" height="3.3" fill="#f02832"/><rect x="517" y="380" width="3.3" height="3.3" fill="#f02830"/><rect x="520" y="380" width="3.3" height="3.3" fill="#f0282d"/><rect x="523" y="380" width="3.3" height="3.3" fill="#f0282b"/><rect x="526" y="380" width="3.3" height="3.3" fill="#f0282a"/><rect x="529" y="380" width="3.3" height="3.3" fill="#f02829"/><rect x="532" y="380" width="3.3" height="3.3" fill="#f02828"/><rect x="535" y="380" width="3.3" height="3.3" fill="#f02828"/><rect x="538" y="380" width="3.3" height="3.3" fill="#f02828"/><rect x="541" y="380" width="3.3" height="3.3" fill="#f02828"/><rect x="358" y="383" width="3.3" height="3.3" fill="#51bce6"/><rect x="361" y="383" width="3.3" height="3.3" fill="#50bae6"/><rect x="364" y="383" width="3.3" height="3.3" fill="#50b9e6"/><rect x="367" y="383" width="3.3" height="3.3" fill="#50b8e7"/><rect x="370" y="383" width="3.3" height="3.3" fill="#50b7e7"/><rect x="373" y="383" width="3.3" height="3.3" fill="#51b6e7"/><rect x="376" y="383" width="3.3" height="3.3" fill="#52b6e8"/><rect x="379" y="383" width="3.3" height="3.3" fill="#55b5e8"/><rect x="382" y="383" width="3.3" height="3.3" fill="#59b6e8"/><rect x="385" y="383" width="3.3" height="3.3" fill="#5eb7e8"/><rect x="388" y="383" width="3.3" height="3.3" fill="#64b8e8"/><rect x="391" y="383" width="3.3" height="3.3" fill="#69bae8"/><rect x="394" y="383" width="3.3" height="3.3" fill="#6fbbe8"/><rect x="397" y="383" width="3.3" height="3.3" fill="#76bde7"/><rect x="400" y="383" width="3.3" height="3.3" fill="#7ebfe6"/><rect x="403" y="383" width="3.3" height="3.3" fill="#87c0e5"/><rect x="406" y="383" width="3.3" height="3.3" fill="#92c2e4"/><rect x="409" y="383" width="3.3" height="3.3" fill="#9cc2e2"/><rect x="412" y="383" width="3.3" height="3.3" fill="#a5c3e0"/><rect x="415" y="383" width="3.3" height="3.3" fill="#acc3df"/><rect x="418" y="383" width="3.3" height="3.3" fill="#b3c4df"/><rect x="421" y="383" width="3.3" height="3.3" fill="#b9c5df"/><rect x="424" y="383" width="3.3" height="3.3" fill="#bfc6e0"/><rect x="427" y="383" width="3.3" height="3.3" fill="#c5c8e1"/><rect x="430" y="383" width="3.3" height="3.3" fill="#cbc9e1"/><rect x="433" y="383" width="3.3" height="3.3" fill="#d1c9e1"/><rect x="436" y="383" width="3.3" height="3.3" fill="#d5c7e0"/><rect x="439" y="383" width="3.3" height="3.3" fill="#d9c5df"/><rect x="442" y="383" width="3.3" height="3.3" fill="#dec2de"/><rect x="445" y="383" width="3.3" height="3.3" fill="#e2bddc"/><rect x="448" y="383" width="3.3" height="3.3" fill="#e6b7d9"/><rect x="451" y="383" width="3.3" height="3.3" fill="#eaafd5"/><rect x="454" y="383" width="3.3" height="3.3" fill="#eda5d1"/><rect x="457" y="383" width="3.3" height="3.3" fill="#ee99ca"/><rect x="460" y="383" width="3.3" height="3.3" fill="#ef8ac2"/><rect x="463" y="383" width="3.3" height="3.3" fill="#ef79b6"/><rect x="466" y="383" width="3.3" height="3.3" fill="#ef67a9"/><rect x="469" y="383" width="3.3" height="3.3" fill="#ef559b"/><rect x="472" y="383" width="3.3" height="3.3" fill="#ef478e"/><rect x="475" y="383" width="3.3" height="3.3" fill="#ef3e83"/><rect x="478" y="383" width="3.3" height="3.3" fill="#f0387b"/><rect x="481" y="383" width="3.3" height="3.3" fill="#f03473"/><rect x="484" y="383" width="3.3" height="3.3" fill="#f0316c"/><rect x="487" y="383" width="3.3" height="3.3" fill="#f02f64"/><rect x="490" y="383" width="3.3" height="3.3" fill="#f02d5c"/><rect x="493" y="383" width="3.3" height="3.3" fill="#f02b54"/><rect x="496" y="383" width="3.3" height="3.3" fill="#f02a4c"/><rect x="499" y="383" width="3.3" height="3.3" fill="#f02946"/><rect x="502" y="383" width="3.3" height="3.3" fill="#f02840"/><rect x="505" y="383" width="3.3" height="3.3" fill="#f0283c"/><rect x="508" y="383" width="3.3" height="3.3" fill="#f02839"/><rect x="511" y="383" width="3.3" height="3.3" fill="#f02736"/><rect x="514" y="383" width="3.3" height="3.3" fill="#f02733"/><rect x="517" y="383" width="3.3" height="3.3" fill="#f02730"/><rect x="520" y="383" width="3.3" height="3.3" fill="#f0282e"/><rect x="523" y="383" width="3.3" height="3.3" fill="#f0282b"/><rect x="526" y="383" width="3.3" height="3.3" fill="#f0282a"/><rect x="529" y="383" width="3.3" height="3.3" fill="#f02829"/><rect x="532" y="383" width="3.3" height="3.3" fill="#f02828"/><rect x="535" y="383" width="3.3" height="3.3" fill="#f02828"/><rect x="538" y="383" width="3.3" height="3.3" fill="#f02828"/><rect x="541" y="383" width="3.3" height="3.3" fill="#f02828"/><rect x="358" y="386" width="3.3" height="3.3" fill="#50b8e7"/><rect x="361" y="386" width="3.3" height="3.3" fill="#4fb7e7"/><rect x="364" y="386" width="3.3" height="3.3" fill="#4fb6e7"/><rect x="367" y="386" width="3.3" height="3.3" fill="#4fb5e7"/><rect x="370" y="386" width="3.3" height="3.3" fill="#4fb3e8"/><rect x="373" y="386" width="3.3" height="3.3" fill="#4fb2e8"/><rect x="376" y="386" width="3.3" height="3.3" fill="#4fb1e8"/><rect x="379" y="386" width="3.3" height="3.3" fill="#51b0e8"/><rect x="382" y="386" width="3.3" height="3.3" fill="#53afe8"/><rect x="385" y="386" width="3.3" height="3.3" fill="#57afe7"/><rect x="388" y="386" width="3.3" height="3.3" fill="#5bb0e7"/><rect x="391" y="386" width="3.3" height="3.3" fill="#60b1e7"/><rect x="394" y="386" width="3.3" height="3.3" fill="#65b2e6"/><rect x="397" y="386" width="3.3" height="3.3" fill="#6ab3e5"/><rect x="400" y="386" width="3.3" height="3.3" fill="#71b4e4"/><rect x="403" y="386" width="3.3" height="3.3" fill="#7ab5e2"/><rect x="406" y="386" width="3.3" height="3.3" fill="#84b5df"/><rect x="409" y="386" width="3.3" height="3.3" fill="#8db4dd"/><rect x="412" y="386" width="3.3" height="3.3" fill="#95b4da"/><rect x="415" y="386" width="3.3" height="3.3" fill="#9cb3d9"/><rect x="418" y="386" width="3.3" height="3.3" fill="#a2b3d8"/><rect x="421" y="386" width="3.3" height="3.3" fill="#a7b4d8"/><rect x="424" y="386" width="3.3" height="3.3" fill="#aeb6d9"/><rect x="427" y="386" width="3.3" height="3.3" fill="#b6b9da"/><rect x="430" y="386" width="3.3" height="3.3" fill="#bdbbda"/><rect x="433" y="386" width="3.3" height="3.3" fill="#c5bcdb"/><rect x="436" y="386" width="3.3" height="3.3" fill="#cbbcda"/><rect x="439" y="386" width="3.3" height="3.3" fill="#d0bad9"/><rect x="442" y="386" width="3.3" height="3.3" fill="#d6b7d8"/><rect x="445" y="386" width="3.3" height="3.3" fill="#dbb1d6"/><rect x="448" y="386" width="3.3" height="3.3" fill="#e0aad3"/><rect x="451" y="386" width="3.3" height="3.3" fill="#e4a0cf"/><rect x="454" y="386" width="3.3" height="3.3" fill="#e895c9"/><rect x="457" y="386" width="3.3" height="3.3" fill="#ea88c3"/><rect x="460" y="386" width="3.3" height="3.3" fill="#eb7abb"/><rect x="463" y="386" width="3.3" height="3.3" fill="#ec6bb1"/><rect x="466" y="386" width="3.3" height="3.3" fill="#ec5ba5"/><rect x="469" y="386" width="3.3" height="3.3" fill="#ed4d99"/><rect x="472" y="386" width="3.3" height="3.3" fill="#ed418e"/><rect x="475" y="386" width="3.3" height="3.3" fill="#ee3984"/><rect x="478" y="386" width="3.3" height="3.3" fill="#ef347c"/><rect x="481" y="386" width="3.3" height="3.3" fill="#ef3175"/><rect x="484" y="386" width="3.3" height="3.3" fill="#f02f6e"/><rect x="487" y="386" width="3.3" height="3.3" fill="#f02d67"/><rect x="490" y="386" width="3.3" height="3.3" fill="#f02c5f"/><rect x="493" y="386" width="3.3" height="3.3" fill="#f02b57"/><rect x="496" y="386" width="3.3" height="3.3" fill="#f02a50"/><rect x="499" y="386" width="3.3" height="3.3" fill="#f02949"/><rect x="502" y="386" width="3.3" height="3.3" fill="#f02843"/><rect x="505" y="386" width="3.3" height="3.3" fill="#f0283f"/><rect x="508" y="386" width="3.3" height="3.3" fill="#f0283b"/><rect x="511" y="386" width="3.3" height="3.3" fill="#f02738"/><rect x="514" y="386" width="3.3" height="3.3" fill="#f02735"/><rect x="517" y="386" width="3.3" height="3.3" fill="#f02732"/><rect x="520" y="386" width="3.3" height="3.3" fill="#f0272f"/><rect x="523" y="386" width="3.3" height="3.3" fill="#f0282c"/><rect x="526" y="386" width="3.3" height="3.3" fill="#f0282a"/><rect x="529" y="386" width="3.3" height="3.3" fill="#f02829"/><rect x="532" y="386" width="3.3" height="3.3" fill="#f02829"/><rect x="535" y="386" width="3.3" height="3.3" fill="#f02828"/><rect x="538" y="386" width="3.3" height="3.3" fill="#f02828"/><rect x="541" y="386" width="3.3" height="3.3" fill="#f02828"/><rect x="358" y="389" width="3.3" height="3.3" fill="#4fb5e8"/><rect x="361" y="389" width="3.3" height="3.3" fill="#4eb4e8"/><rect x="364" y="389" width="3.3" height="3.3" fill="#4eb2e8"/><rect x="367" y="389" width="3.3" height="3.3" fill="#4db1e8"/><rect x="370" y="389" width="3.3" height="3.3" fill="#4dafe8"/><rect x="373" y="389" width="3.3" height="3.3" fill="#4cade8"/><rect x="376" y="389" width="3.3" height="3.3" fill="#4cabe8"/><rect x="379" y="389" width="3.3" height="3.3" fill="#4daae8"/><rect x="382" y="389" width="3.3" height="3.3" fill="#4ea8e7"/><rect x="385" y="389" width="3.3" height="3.3" fill="#50a7e7"/><rect x="388" y="389" width="3.3" height="3.3" fill="#54a8e6"/><rect x="391" y="389" width="3.3" height="3.3" fill="#57a8e5"/><rect x="394" y="389" width="3.3" height="3.3" fill="#5ba9e4"/><rect x="397" y="389" width="3.3" height="3.3" fill="#60aae3"/><rect x="400" y="389" width="3.3" height="3.3" fill="#66aae1"/><rect x="403" y="389" width="3.3" height="3.3" fill="#6eaadf"/><rect x="406" y="389" width="3.3" height="3.3" fill="#76a8dc"/><rect x="409" y="389" width="3.3" height="3.3" fill="#7ea6d8"/><rect x="412" y="389" width="3.3" height="3.3" fill="#85a4d5"/><rect x="415" y="389" width="3.3" height="3.3" fill="#8ba3d3"/><rect x="418" y="389" width="3.3" height="3.3" fill="#90a2d2"/><rect x="421" y="389" width="3.3" height="3.3" fill="#95a3d2"/><rect x="424" y="389" width="3.3" height="3.3" fill="#9ca6d3"/><rect x="427" y="389" width="3.3" height="3.3" fill="#a4a9d4"/><rect x="430" y="389" width="3.3" height="3.3" fill="#aeacd5"/><rect x="433" y="389" width="3.3" height="3.3" fill="#b7afd5"/><rect x="436" y="389" width="3.3" height="3.3" fill="#c0b0d5"/><rect x="439" y="389" width="3.3" height="3.3" fill="#c7afd4"/><rect x="442" y="389" width="3.3" height="3.3" fill="#cdabd3"/><rect x="445" y="389" width="3.3" height="3.3" fill="#d3a5d0"/><rect x="448" y="389" width="3.3" height="3.3" fill="#d99ccd"/><rect x="451" y="389" width="3.3" height="3.3" fill="#de91c8"/><rect x="454" y="389" width="3.3" height="3.3" fill="#e286c3"/><rect x="457" y="389" width="3.3" height="3.3" fill="#e579bd"/><rect x="460" y="389" width="3.3" height="3.3" fill="#e76cb5"/><rect x="463" y="389" width="3.3" height="3.3" fill="#e85fad"/><rect x="466" y="389" width="3.3" height="3.3" fill="#e952a3"/><rect x="469" y="389" width="3.3" height="3.3" fill="#ea4699"/><rect x="472" y="389" width="3.3" height="3.3" fill="#ec3d8f"/><rect x="475" y="389" width="3.3" height="3.3" fill="#ed3786"/><rect x="478" y="389" width="3.3" height="3.3" fill="#ee337e"/><rect x="481" y="389" width="3.3" height="3.3" fill="#ef3077"/><rect x="484" y="389" width="3.3" height="3.3" fill="#ef2e71"/><rect x="487" y="389" width="3.3" height="3.3" fill="#f02d6a"/><rect x="490" y="389" width="3.3" height="3.3" fill="#f02c62"/><rect x="493" y="389" width="3.3" height="3.3" fill="#f02b5b"/><rect x="496" y="389" width="3.3" height="3.3" fill="#f02a54"/><rect x="499" y="389" width="3.3" height="3.3" fill="#f0294d"/><rect x="502" y="389" width="3.3" height="3.3" fill="#f02947"/><rect x="505" y="389" width="3.3" height="3.3" fill="#f02842"/><rect x="508" y="389" width="3.3" height="3.3" fill="#f0283d"/><rect x="511" y="389" width="3.3" height="3.3" fill="#f0273a"/><rect x="514" y="389" width="3.3" height="3.3" fill="#f02737"/><rect x="517" y="389" width="3.3" height="3.3" fill="#f02733"/><rect x="520" y="389" width="3.3" height="3.3" fill="#f02730"/><rect x="523" y="389" width="3.3" height="3.3" fill="#f0272d"/><rect x="526" y="389" width="3.3" height="3.3" fill="#f0282b"/><rect x="529" y="389" width="3.3" height="3.3" fill="#f02829"/><rect x="532" y="389" width="3.3" height="3.3" fill="#f02829"/><rect x="535" y="389" width="3.3" height="3.3" fill="#f02828"/><rect x="538" y="389" width="3.3" height="3.3" fill="#f02828"/><rect x="541" y="389" width="3.3" height="3.3" fill="#f02828"/><rect x="358" y="392" width="3.3" height="3.3" fill="#4db1e8"/><rect x="361" y="392" width="3.3" height="3.3" fill="#4cb0e8"/><rect x="364" y="392" width="3.3" height="3.3" fill="#4caee8"/><rect x="367" y="392" width="3.3" height="3.3" fill="#4bace8"/><rect x="370" y="392" width="3.3" height="3.3" fill="#4aaae8"/><rect x="373" y="392" width="3.3" height="3.3" fill="#4aa7e8"/><rect x="376" y="392" width="3.3" height="3.3" fill="#49a5e8"/><rect x="379" y="392" width="3.3" height="3.3" fill="#49a3e7"/><rect x="382" y="392" width="3.3" height="3.3" fill="#4aa1e7"/><rect x="385" y="392" width="3.3" height="3.3" fill="#4ba0e6"/><rect x="388" y="392" width="3.3" height="3.3" fill="#4da0e6"/><rect x="391" y="392" width="3.3" height="3.3" fill="#50a1e5"/><rect x="394" y="392" width="3.3" height="3.3" fill="#54a1e3"/><rect x="397" y="392" width="3.3" height="3.3" fill="#58a1e2"/><rect x="400" y="392" width="3.3" height="3.3" fill="#5da1e0"/><rect x="403" y="392" width="3.3" height="3.3" fill="#639fdd"/><rect x="406" y="392" width="3.3" height="3.3" fill="#6a9cd9"/><rect x="409" y="392" width="3.3" height="3.3" fill="#7199d5"/><rect x="412" y="392" width="3.3" height="3.3" fill="#7796d2"/><rect x="415" y="392" width="3.3" height="3.3" fill="#7b94d0"/><rect x="418" y="392" width="3.3" height="3.3" fill="#7f93ce"/><rect x="421" y="392" width="3.3" height="3.3" fill="#8493ce"/><rect x="424" y="392" width="3.3" height="3.3" fill="#8a95ce"/><rect x="427" y="392" width="3.3" height="3.3" fill="#9298cf"/><rect x="430" y="392" width="3.3" height="3.3" fill="#9c9dd0"/><rect x="433" y="392" width="3.3" height="3.3" fill="#a7a1d1"/><rect x="436" y="392" width="3.3" height="3.3" fill="#b2a3d1"/><rect x="439" y="392" width="3.3" height="3.3" fill="#bba2cf"/><rect x="442" y="392" width="3.3" height="3.3" fill="#c29dcd"/><rect x="445" y="392" width="3.3" height="3.3" fill="#c996ca"/><rect x="448" y="392" width="3.3" height="3.3" fill="#cf8dc6"/><rect x="451" y="392" width="3.3" height="3.3" fill="#d482c2"/><rect x="454" y="392" width="3.3" height="3.3" fill="#d977bd"/><rect x="457" y="392" width="3.3" height="3.3" fill="#de6cb7"/><rect x="460" y="392" width="3.3" height="3.3" fill="#e160b1"/><rect x="463" y="392" width="3.3" height="3.3" fill="#e455aa"/><rect x="466" y="392" width="3.3" height="3.3" fill="#e64ba2"/><rect x="469" y="392" width="3.3" height="3.3" fill="#e84299"/><rect x="472" y="392" width="3.3" height="3.3" fill="#ea3b90"/><rect x="475" y="392" width="3.3" height="3.3" fill="#eb3588"/><rect x="478" y="392" width="3.3" height="3.3" fill="#ed3281"/><rect x="481" y="392" width="3.3" height="3.3" fill="#ee2f7a"/><rect x="484" y="392" width="3.3" height="3.3" fill="#ef2e73"/><rect x="487" y="392" width="3.3" height="3.3" fill="#ef2d6c"/><rect x="490" y="392" width="3.3" height="3.3" fill="#f02c65"/><rect x="493" y="392" width="3.3" height="3.3" fill="#f02b5e"/><rect x="496" y="392" width="3.3" height="3.3" fill="#f02a57"/><rect x="499" y="392" width="3.3" height="3.3" fill="#f02950"/><rect x="502" y="392" width="3.3" height="3.3" fill="#f0294a"/><rect x="505" y="392" width="3.3" height="3.3" fill="#f02845"/><rect x="508" y="392" width="3.3" height="3.3" fill="#f02840"/><rect x="511" y="392" width="3.3" height="3.3" fill="#f0283c"/><rect x="514" y="392" width="3.3" height="3.3" fill="#f02739"/><rect x="517" y="392" width="3.3" height="3.3" fill="#f02735"/><rect x="520" y="392" width="3.3" height="3.3" fill="#f02732"/><rect x="523" y="392" width="3.3" height="3.3" fill="#f0272e"/><rect x="526" y="392" width="3.3" height="3.3" fill="#f0282b"/><rect x="529" y="392" width="3.3" height="3.3" fill="#f0282a"/><rect x="532" y="392" width="3.3" height="3.3" fill="#f02829"/><rect x="535" y="392" width="3.3" height="3.3" fill="#f02828"/><rect x="538" y="392" width="3.3" height="3.3" fill="#f02828"/><rect x="541" y="392" width="3.3" height="3.3" fill="#f02828"/><rect x="358" y="395" width="3.3" height="3.3" fill="#4bade8"/><rect x="361" y="395" width="3.3" height="3.3" fill="#4aabe8"/><rect x="364" y="395" width="3.3" height="3.3" fill="#49a8e8"/><rect x="367" y="395" width="3.3" height="3.3" fill="#48a6e8"/><rect x="370" y="395" width="3.3" height="3.3" fill="#47a3e8"/><rect x="373" y="395" width="3.3" height="3.3" fill="#46a1e8"/><rect x="376" y="395" width="3.3" height="3.3" fill="#469ee8"/><rect x="379" y="395" width="3.3" height="3.3" fill="#469ce7"/><rect x="382" y="395" width="3.3" height="3.3" fill="#469be7"/><rect x="385" y="395" width="3.3" height="3.3" fill="#479ae6"/><rect x="388" y="395" width="3.3" height="3.3" fill="#4999e5"/><rect x="391" y="395" width="3.3" height="3.3" fill="#4b9ae4"/><rect x="394" y="395" width="3.3" height="3.3" fill="#4e9ae3"/><rect x="397" y="395" width="3.3" height="3.3" fill="#5199e1"/><rect x="400" y="395" width="3.3" height="3.3" fill="#5598df"/><rect x="403" y="395" width="3.3" height="3.3" fill="#5a95dc"/><rect x="406" y="395" width="3.3" height="3.3" fill="#5f90d8"/><rect x="409" y="395" width="3.3" height="3.3" fill="#658cd4"/><rect x="412" y="395" width="3.3" height="3.3" fill="#6988d1"/><rect x="415" y="395" width="3.3" height="3.3" fill="#6d85ce"/><rect x="418" y="395" width="3.3" height="3.3" fill="#7084cd"/><rect x="421" y="395" width="3.3" height="3.3" fill="#7384cc"/><rect x="424" y="395" width="3.3" height="3.3" fill="#7885cd"/><rect x="427" y="395" width="3.3" height="3.3" fill="#7f88cd"/><rect x="430" y="395" width="3.3" height="3.3" fill="#898ccd"/><rect x="433" y="395" width="3.3" height="3.3" fill="#9590cd"/><rect x="436" y="395" width="3.3" height="3.3" fill="#a192cd"/><rect x="439" y="395" width="3.3" height="3.3" fill="#ac91cb"/><rect x="442" y="395" width="3.3" height="3.3" fill="#b48cc8"/><rect x="445" y="395" width="3.3" height="3.3" fill="#bb85c4"/><rect x="448" y="395" width="3.3" height="3.3" fill="#c27bc0"/><rect x="451" y="395" width="3.3" height="3.3" fill="#c872bc"/><rect x="454" y="395" width="3.3" height="3.3" fill="#ce68b8"/><rect x="457" y="395" width="3.3" height="3.3" fill="#d55fb3"/><rect x="460" y="395" width="3.3" height="3.3" fill="#da56ae"/><rect x="463" y="395" width="3.3" height="3.3" fill="#de4da8"/><rect x="466" y="395" width="3.3" height="3.3" fill="#e245a1"/><rect x="469" y="395" width="3.3" height="3.3" fill="#e53e9a"/><rect x="472" y="395" width="3.3" height="3.3" fill="#e83993"/><rect x="475" y="395" width="3.3" height="3.3" fill="#ea348b"/><rect x="478" y="395" width="3.3" height="3.3" fill="#ec3184"/><rect x="481" y="395" width="3.3" height="3.3" fill="#ed2f7d"/><rect x="484" y="395" width="3.3" height="3.3" fill="#ee2e76"/><rect x="487" y="395" width="3.3" height="3.3" fill="#ef2d6f"/><rect x="490" y="395" width="3.3" height="3.3" fill="#ef2c68"/><rect x="493" y="395" width="3.3" height="3.3" fill="#f02b61"/><rect x="496" y="395" width="3.3" height="3.3" fill="#f02a5b"/><rect x="499" y="395" width="3.3" height="3.3" fill="#f02a54"/><rect x="502" y="395" width="3.3" height="3.3" fill="#f0294e"/><rect x="505" y="395" width="3.3" height="3.3" fill="#f02948"/><rect x="508" y="395" width="3.3" height="3.3" fill="#f02843"/><rect x="511" y="395" width="3.3" height="3.3" fill="#f0283f"/><rect x="514" y="395" width="3.3" height="3.3" fill="#f0273b"/><rect x="517" y="395" width="3.3" height="3.3" fill="#f02738"/><rect x="520" y="395" width="3.3" height="3.3" fill="#f02734"/><rect x="523" y="395" width="3.3" height="3.3" fill="#f02730"/><rect x="526" y="395" width="3.3" height="3.3" fill="#f0282c"/><rect x="529" y="395" width="3.3" height="3.3" fill="#f0282a"/><rect x="532" y="395" width="3.3" height="3.3" fill="#f02829"/><rect x="535" y="395" width="3.3" height="3.3" fill="#f02828"/><rect x="538" y="395" width="3.3" height="3.3" fill="#f02828"/><rect x="541" y="395" width="3.3" height="3.3" fill="#f02828"/><rect x="358" y="398" width="3.3" height="3.3" fill="#49a7e8"/><rect x="361" y="398" width="3.3" height="3.3" fill="#48a5e8"/><rect x="364" y="398" width="3.3" height="3.3" fill="#47a2e8"/><rect x="367" y="398" width="3.3" height="3.3" fill="#459fe8"/><rect x="370" y="398" width="3.3" height="3.3" fill="#449de8"/><rect x="373" y="398" width="3.3" height="3.3" fill="#439ae8"/><rect x="376" y="398" width="3.3" height="3.3" fill="#4398e8"/><rect x="379" y="398" width="3.3" height="3.3" fill="#4396e7"/><rect x="382" y="398" width="3.3" height="3.3" fill="#4395e7"/><rect x="385" y="398" width="3.3" height="3.3" fill="#4394e6"/><rect x="388" y="398" width="3.3" height="3.3" fill="#4493e5"/><rect x="391" y="398" width="3.3" height="3.3" fill="#4693e4"/><rect x="394" y="398" width="3.3" height="3.3" fill="#4892e3"/><rect x="397" y="398" width="3.3" height="3.3" fill="#4b91e1"/><rect x="400" y="398" width="3.3" height="3.3" fill="#4e8ddf"/><rect x="403" y="398" width="3.3" height="3.3" fill="#5189db"/><rect x="406" y="398" width="3.3" height="3.3" fill="#5583d8"/><rect x="409" y="398" width="3.3" height="3.3" fill="#597fd4"/><rect x="412" y="398" width="3.3" height="3.3" fill="#5c7bd1"/><rect x="415" y="398" width="3.3" height="3.3" fill="#5f78cf"/><rect x="418" y="398" width="3.3" height="3.3" fill="#6277ce"/><rect x="421" y="398" width="3.3" height="3.3" fill="#6576cd"/><rect x="424" y="398" width="3.3" height="3.3" fill="#6877cc"/><rect x="427" y="398" width="3.3" height="3.3" fill="#6e78cc"/><rect x="430" y="398" width="3.3" height="3.3" fill="#767acc"/><rect x="433" y="398" width="3.3" height="3.3" fill="#817dcb"/><rect x="436" y="398" width="3.3" height="3.3" fill="#8e7fc9"/><rect x="439" y="398" width="3.3" height="3.3" fill="#9a7dc6"/><rect x="442" y="398" width="3.3" height="3.3" fill="#a379c3"/><rect x="445" y="398" width="3.3" height="3.3" fill="#ab72bf"/><rect x="448" y="398" width="3.3" height="3.3" fill="#b26abb"/><rect x="451" y="398" width="3.3" height="3.3" fill="#b963b7"/><rect x="454" y="398" width="3.3" height="3.3" fill="#c15cb4"/><rect x="457" y="398" width="3.3" height="3.3" fill="#ca55b0"/><rect x="460" y="398" width="3.3" height="3.3" fill="#d14eab"/><rect x="463" y="398" width="3.3" height="3.3" fill="#d847a7"/><rect x="466" y="398" width="3.3" height="3.3" fill="#dd41a1"/><rect x="469" y="398" width="3.3" height="3.3" fill="#e23b9b"/><rect x="472" y="398" width="3.3" height="3.3" fill="#e53795"/><rect x="475" y="398" width="3.3" height="3.3" fill="#e8338e"/><rect x="478" y="398" width="3.3" height="3.3" fill="#ea3187"/><rect x="481" y="398" width="3.3" height="3.3" fill="#ec2f80"/><rect x="484" y="398" width="3.3" height="3.3" fill="#ed2e79"/><rect x="487" y="398" width="3.3" height="3.3" fill="#ee2d72"/><rect x="490" y="398" width="3.3" height="3.3" fill="#ef2c6b"/><rect x="493" y="398" width="3.3" height="3.3" fill="#f02b65"/><rect x="496" y="398" width="3.3" height="3.3" fill="#f02b5e"/><rect x="499" y="398" width="3.3" height="3.3" fill="#f02a57"/><rect x="502" y="398" width="3.3" height="3.3" fill="#f02951"/><rect x="505" y="398" width="3.3" height="3.3" fill="#f0294b"/><rect x="508" y="398" width="3.3" height="3.3" fill="#f02846"/><rect x="511" y="398" width="3.3" height="3.3" fill="#f02842"/><rect x="514" y="398" width="3.3" height="3.3" fill="#f0283e"/><rect x="517" y="398" width="3.3" height="3.3" fill="#f0273a"/><rect x="520" y="398" width="3.3" height="3.3" fill="#f02736"/><rect x="523" y="398" width="3.3" height="3.3" fill="#f02732"/><rect x="526" y="398" width="3.3" height="3.3" fill="#f0272e"/><rect x="529" y="398" width="3.3" height="3.3" fill="#f0282b"/><rect x="532" y="398" width="3.3" height="3.3" fill="#f02829"/><rect x="535" y="398" width="3.3" height="3.3" fill="#f02829"/><rect x="538" y="398" width="3.3" height="3.3" fill="#f02828"/><rect x="541" y="398" width="3.3" height="3.3" fill="#f02828"/><rect x="358" y="401" width="3.3" height="3.3" fill="#46a1e8"/><rect x="361" y="401" width="3.3" height="3.3" fill="#459ee8"/><rect x="364" y="401" width="3.3" height="3.3" fill="#449be8"/><rect x="367" y="401" width="3.3" height="3.3" fill="#4399e8"/><rect x="370" y="401" width="3.3" height="3.3" fill="#4296e8"/><rect x="373" y="401" width="3.3" height="3.3" fill="#4194e8"/><rect x="376" y="401" width="3.3" height="3.3" fill="#4092e7"/><rect x="379" y="401" width="3.3" height="3.3" fill="#4091e7"/><rect x="382" y="401" width="3.3" height="3.3" fill="#408fe7"/><rect x="385" y="401" width="3.3" height="3.3" fill="#408ee6"/><rect x="388" y="401" width="3.3" height="3.3" fill="#418de5"/><rect x="391" y="401" width="3.3" height="3.3" fill="#428ce4"/><rect x="394" y="401" width="3.3" height="3.3" fill="#4389e3"/><rect x="397" y="401" width="3.3" height="3.3" fill="#4586e1"/><rect x="400" y="401" width="3.3" height="3.3" fill="#4681df"/><rect x="403" y="401" width="3.3" height="3.3" fill="#487cdc"/><rect x="406" y="401" width="3.3" height="3.3" fill="#4b76d9"/><rect x="409" y="401" width="3.3" height="3.3" fill="#4e72d6"/><rect x="412" y="401" width="3.3" height="3.3" fill="#516fd3"/><rect x="415" y="401" width="3.3" height="3.3" fill="#546dd1"/><rect x="418" y="401" width="3.3" height="3.3" fill="#566bcf"/><rect x="421" y="401" width="3.3" height="3.3" fill="#586bce"/><rect x="424" y="401" width="3.3" height="3.3" fill="#5b6acd"/><rect x="427" y="401" width="3.3" height="3.3" fill="#5f6acd"/><rect x="430" y="401" width="3.3" height="3.3" fill="#656bcc"/><rect x="433" y="401" width="3.3" height="3.3" fill="#6f6cca"/><rect x="436" y="401" width="3.3" height="3.3" fill="#7a6cc7"/><rect x="439" y="401" width="3.3" height="3.3" fill="#876ac3"/><rect x="442" y="401" width="3.3" height="3.3" fill="#9266be"/><rect x="445" y="401" width="3.3" height="3.3" fill="#9b61ba"/><rect x="448" y="401" width="3.3" height="3.3" fill="#a35cb7"/><rect x="451" y="401" width="3.3" height="3.3" fill="#ab57b4"/><rect x="454" y="401" width="3.3" height="3.3" fill="#b452b1"/><rect x="457" y="401" width="3.3" height="3.3" fill="#be4dae"/><rect x="460" y="401" width="3.3" height="3.3" fill="#c748aa"/><rect x="463" y="401" width="3.3" height="3.3" fill="#d043a6"/><rect x="466" y="401" width="3.3" height="3.3" fill="#d83ea2"/><rect x="469" y="401" width="3.3" height="3.3" fill="#dd399d"/><rect x="472" y="401" width="3.3" height="3.3" fill="#e23698"/><rect x="475" y="401" width="3.3" height="3.3" fill="#e53391"/><rect x="478" y="401" width="3.3" height="3.3" fill="#e8318b"/><rect x="481" y="401" width="3.3" height="3.3" fill="#eb2f84"/><rect x="484" y="401" width="3.3" height="3.3" fill="#ec2e7d"/><rect x="487" y="401" width="3.3" height="3.3" fill="#ee2d75"/><rect x="490" y="401" width="3.3" height="3.3" fill="#ef2c6f"/><rect x="493" y="401" width="3.3" height="3.3" fill="#ef2b68"/><rect x="496" y="401" width="3.3" height="3.3" fill="#f02b61"/><rect x="499" y="401" width="3.3" height="3.3" fill="#f02a5a"/><rect x="502" y="401" width="3.3" height="3.3" fill="#f02a54"/><rect x="505" y="401" width="3.3" height="3.3" fill="#f0294f"/><rect x="508" y="401" width="3.3" height="3.3" fill="#f02949"/><rect x="511" y="401" width="3.3" height="3.3" fill="#f02845"/><rect x="514" y="401" width="3.3" height="3.3" fill="#f02841"/><rect x="517" y="401" width="3.3" height="3.3" fill="#f0283d"/><rect x="520" y="401" width="3.3" height="3.3" fill="#f02739"/><rect x="523" y="401" width="3.3" height="3.3" fill="#f02734"/><rect x="526" y="401" width="3.3" height="3.3" fill="#f02730"/><rect x="529" y="401" width="3.3" height="3.3" fill="#f0282c"/><rect x="532" y="401" width="3.3" height="3.3" fill="#f0282a"/><rect x="535" y="401" width="3.3" height="3.3" fill="#f02829"/><rect x="538" y="401" width="3.3" height="3.3" fill="#f02828"/><rect x="541" y="401" width="3.3" height="3.3" fill="#f02828"/><rect x="358" y="404" width="3.3" height="3.3" fill="#439ae8"/><rect x="361" y="404" width="3.3" height="3.3" fill="#4298e8"/><rect x="364" y="404" width="3.3" height="3.3" fill="#4195e8"/><rect x="367" y="404" width="3.3" height="3.3" fill="#4093e8"/><rect x="370" y="404" width="3.3" height="3.3" fill="#3f91e8"/><rect x="373" y="404" width="3.3" height="3.3" fill="#3f8fe8"/><rect x="376" y="404" width="3.3" height="3.3" fill="#3e8ee7"/><rect x="379" y="404" width="3.3" height="3.3" fill="#3e8ce7"/><rect x="382" y="404" width="3.3" height="3.3" fill="#3e8ae7"/><rect x="385" y="404" width="3.3" height="3.3" fill="#3e88e6"/><rect x="388" y="404" width="3.3" height="3.3" fill="#3e86e5"/><rect x="391" y="404" width="3.3" height="3.3" fill="#3e83e4"/><rect x="394" y="404" width="3.3" height="3.3" fill="#3e7fe2"/><rect x="397" y="404" width="3.3" height="3.3" fill="#3e7ae1"/><rect x="400" y="404" width="3.3" height="3.3" fill="#3f75df"/><rect x="403" y="404" width="3.3" height="3.3" fill="#4070dd"/><rect x="406" y="404" width="3.3" height="3.3" fill="#426bda"/><rect x="409" y="404" width="3.3" height="3.3" fill="#4467d8"/><rect x="412" y="404" width="3.3" height="3.3" fill="#4765d5"/><rect x="415" y="404" width="3.3" height="3.3" fill="#4a63d3"/><rect x="418" y="404" width="3.3" height="3.3" fill="#4c62d1"/><rect x="421" y="404" width="3.3" height="3.3" fill="#4f61d0"/><rect x="424" y="404" width="3.3" height="3.3" fill="#5160cf"/><rect x="427" y="404" width="3.3" height="3.3" fill="#5460cd"/><rect x="430" y="404" width="3.3" height="3.3" fill="#595fcc"/><rect x="433" y="404" width="3.3" height="3.3" fill="#615fc9"/><rect x="436" y="404" width="3.3" height="3.3" fill="#6b5ec6"/><rect x="439" y="404" width="3.3" height="3.3" fill="#785cc1"/><rect x="442" y="404" width="3.3" height="3.3" fill="#8459bc"/><rect x="445" y="404" width="3.3" height="3.3" fill="#8e56b8"/><rect x="448" y="404" width="3.3" height="3.3" fill="#9652b5"/><rect x="451" y="404" width="3.3" height="3.3" fill="#9f4fb2"/><rect x="454" y="404" width="3.3" height="3.3" fill="#a84cb0"/><rect x="457" y="404" width="3.3" height="3.3" fill="#b248ad"/><rect x="460" y="404" width="3.3" height="3.3" fill="#bd44aa"/><rect x="463" y="404" width="3.3" height="3.3" fill="#c840a7"/><rect x="466" y="404" width="3.3" height="3.3" fill="#d13ca3"/><rect x="469" y="404" width="3.3" height="3.3" fill="#d9389f"/><rect x="472" y="404" width="3.3" height="3.3" fill="#de359a"/><rect x="475" y="404" width="3.3" height="3.3" fill="#e33395"/><rect x="478" y="404" width="3.3" height="3.3" fill="#e6318f"/><rect x="481" y="404" width="3.3" height="3.3" fill="#e92f88"/><rect x="484" y="404" width="3.3" height="3.3" fill="#eb2e80"/><rect x="487" y="404" width="3.3" height="3.3" fill="#ed2d79"/><rect x="490" y="404" width="3.3" height="3.3" fill="#ee2c72"/><rect x="493" y="404" width="3.3" height="3.3" fill="#ef2c6b"/><rect x="496" y="404" width="3.3" height="3.3" fill="#ef2b64"/><rect x="499" y="404" width="3.3" height="3.3" fill="#f02a5e"/><rect x="502" y="404" width="3.3" height="3.3" fill="#f02a57"/><rect x="505" y="404" width="3.3" height="3.3" fill="#f02952"/><rect x="508" y="404" width="3.3" height="3.3" fill="#f0294c"/><rect x="511" y="404" width="3.3" height="3.3" fill="#f02848"/><rect x="514" y="404" width="3.3" height="3.3" fill="#f02844"/><rect x="517" y="404" width="3.3" height="3.3" fill="#f02840"/><rect x="520" y="404" width="3.3" height="3.3" fill="#f0283c"/><rect x="523" y="404" width="3.3" height="3.3" fill="#f02737"/><rect x="526" y="404" width="3.3" height="3.3" fill="#f02732"/><rect x="529" y="404" width="3.3" height="3.3" fill="#f0282e"/><rect x="532" y="404" width="3.3" height="3.3" fill="#f0282b"/><rect x="535" y="404" width="3.3" height="3.3" fill="#f02829"/><rect x="538" y="404" width="3.3" height="3.3" fill="#f02829"/><rect x="541" y="404" width="3.3" height="3.3" fill="#f02828"/><rect x="358" y="407" width="3.3" height="3.3" fill="#4195e8"/><rect x="361" y="407" width="3.3" height="3.3" fill="#4092e8"/><rect x="364" y="407" width="3.3" height="3.3" fill="#3f91e8"/><rect x="367" y="407" width="3.3" height="3.3" fill="#3e8fe8"/><rect x="370" y="407" width="3.3" height="3.3" fill="#3e8de8"/><rect x="373" y="407" width="3.3" height="3.3" fill="#3d8be7"/><rect x="376" y="407" width="3.3" height="3.3" fill="#3d89e7"/><rect x="379" y="407" width="3.3" height="3.3" fill="#3c87e7"/><rect x="382" y="407" width="3.3" height="3.3" fill="#3c85e6"/><rect x="385" y="407" width="3.3" height="3.3" fill="#3b82e5"/><rect x="388" y="407" width="3.3" height="3.3" fill="#3a7ee4"/><rect x="391" y="407" width="3.3" height="3.3" fill="#3a79e3"/><rect x="394" y="407" width="3.3" height="3.3" fill="#3975e2"/><rect x="397" y="407" width="3.3" height="3.3" fill="#396fe1"/><rect x="400" y="407" width="3.3" height="3.3" fill="#396adf"/><rect x="403" y="407" width="3.3" height="3.3" fill="#3a66dd"/><rect x="406" y="407" width="3.3" height="3.3" fill="#3b62db"/><rect x="409" y="407" width="3.3" height="3.3" fill="#3e5fd9"/><rect x="412" y="407" width="3.3" height="3.3" fill="#405ed7"/><rect x="415" y="407" width="3.3" height="3.3" fill="#435cd5"/><rect x="418" y="407" width="3.3" height="3.3" fill="#455bd3"/><rect x="421" y="407" width="3.3" height="3.3" fill="#485ad1"/><rect x="424" y="407" width="3.3" height="3.3" fill="#4a59d0"/><rect x="427" y="407" width="3.3" height="3.3" fill="#4d58ce"/><rect x="430" y="407" width="3.3" height="3.3" fill="#5157cc"/><rect x="433" y="407" width="3.3" height="3.3" fill="#5856c9"/><rect x="436" y="407" width="3.3" height="3.3" fill="#6154c6"/><rect x="439" y="407" width="3.3" height="3.3" fill="#6c53c1"/><rect x="442" y="407" width="3.3" height="3.3" fill="#7951bc"/><rect x="445" y="407" width="3.3" height="3.3" fill="#844fb7"/><rect x="448" y="407" width="3.3" height="3.3" fill="#8d4db4"/><rect x="451" y="407" width="3.3" height="3.3" fill="#954bb1"/><rect x="454" y="407" width="3.3" height="3.3" fill="#9e49af"/><rect x="457" y="407" width="3.3" height="3.3" fill="#a846ad"/><rect x="460" y="407" width="3.3" height="3.3" fill="#b343aa"/><rect x="463" y="407" width="3.3" height="3.3" fill="#bf3fa7"/><rect x="466" y="407" width="3.3" height="3.3" fill="#ca3ba4"/><rect x="469" y="407" width="3.3" height="3.3" fill="#d338a1"/><rect x="472" y="407" width="3.3" height="3.3" fill="#da359d"/><rect x="475" y="407" width="3.3" height="3.3" fill="#df3398"/><rect x="478" y="407" width="3.3" height="3.3" fill="#e33192"/><rect x="481" y="407" width="3.3" height="3.3" fill="#e7308c"/><rect x="484" y="407" width="3.3" height="3.3" fill="#ea2e85"/><rect x="487" y="407" width="3.3" height="3.3" fill="#ec2e7d"/><rect x="490" y="407" width="3.3" height="3.3" fill="#ed2d76"/><rect x="493" y="407" width="3.3" height="3.3" fill="#ee2c6e"/><rect x="496" y="407" width="3.3" height="3.3" fill="#ef2b67"/><rect x="499" y="407" width="3.3" height="3.3" fill="#f02b61"/><rect x="502" y="407" width="3.3" height="3.3" fill="#f02a5a"/><rect x="505" y="407" width="3.3" height="3.3" fill="#f02a55"/><rect x="508" y="407" width="3.3" height="3.3" fill="#f0294f"/><rect x="511" y="407" width="3.3" height="3.3" fill="#f0294a"/><rect x="514" y="407" width="3.3" height="3.3" fill="#f02846"/><rect x="517" y="407" width="3.3" height="3.3" fill="#f02842"/><rect x="520" y="407" width="3.3" height="3.3" fill="#f0283e"/><rect x="523" y="407" width="3.3" height="3.3" fill="#f0283a"/><rect x="526" y="407" width="3.3" height="3.3" fill="#f02735"/><rect x="529" y="407" width="3.3" height="3.3" fill="#f02830"/><rect x="532" y="407" width="3.3" height="3.3" fill="#f0282c"/><rect x="535" y="407" width="3.3" height="3.3" fill="#f0282a"/><rect x="538" y="407" width="3.3" height="3.3" fill="#f02829"/><rect x="541" y="407" width="3.3" height="3.3" fill="#f02828"/><rect x="358" y="410" width="3.3" height="3.3" fill="#3f90e8"/><rect x="361" y="410" width="3.3" height="3.3" fill="#3e8ee8"/><rect x="364" y="410" width="3.3" height="3.3" fill="#3d8de8"/><rect x="367" y="410" width="3.3" height="3.3" fill="#3d8be8"/><rect x="370" y="410" width="3.3" height="3.3" fill="#3c89e7"/><rect x="373" y="410" width="3.3" height="3.3" fill="#3c87e7"/><rect x="376" y="410" width="3.3" height="3.3" fill="#3b85e7"/><rect x="379" y="410" width="3.3" height="3.3" fill="#3a81e6"/><rect x="382" y="410" width="3.3" height="3.3" fill="#397ee5"/><rect x="385" y="410" width="3.3" height="3.3" fill="#387ae4"/><rect x="388" y="410" width="3.3" height="3.3" fill="#3775e3"/><rect x="391" y="410" width="3.3" height="3.3" fill="#3670e2"/><rect x="394" y="410" width="3.3" height="3.3" fill="#356be1"/><rect x="397" y="410" width="3.3" height="3.3" fill="#3567e0"/><rect x="400" y="410" width="3.3" height="3.3" fill="#3563df"/><rect x="403" y="410" width="3.3" height="3.3" fill="#365fde"/><rect x="406" y="410" width="3.3" height="3.3" fill="#375cdc"/><rect x="409" y="410" width="3.3" height="3.3" fill="#395ada"/><rect x="412" y="410" width="3.3" height="3.3" fill="#3b59d8"/><rect x="415" y="410" width="3.3" height="3.3" fill="#3e57d6"/><rect x="418" y="410" width="3.3" height="3.3" fill="#4156d4"/><rect x="421" y="410" width="3.3" height="3.3" fill="#4355d2"/><rect x="424" y="410" width="3.3" height="3.3" fill="#4654d0"/><rect x="427" y="410" width="3.3" height="3.3" fill="#4953ce"/><rect x="430" y="410" width="3.3" height="3.3" fill="#4c52cc"/><rect x="433" y="410" width="3.3" height="3.3" fill="#5250ca"/><rect x="436" y="410" width="3.3" height="3.3" fill="#5a4fc6"/><rect x="439" y="410" width="3.3" height="3.3" fill="#644ec1"/><rect x="442" y="410" width="3.3" height="3.3" fill="#714dbc"/><rect x="445" y="410" width="3.3" height="3.3" fill="#7c4bb8"/><rect x="448" y="410" width="3.3" height="3.3" fill="#864ab4"/><rect x="451" y="410" width="3.3" height="3.3" fill="#8e49b2"/><rect x="454" y="410" width="3.3" height="3.3" fill="#9647b0"/><rect x="457" y="410" width="3.3" height="3.3" fill="#9f45ae"/><rect x="460" y="410" width="3.3" height="3.3" fill="#aa42ab"/><rect x="463" y="410" width="3.3" height="3.3" fill="#b63fa9"/><rect x="466" y="410" width="3.3" height="3.3" fill="#c23ba6"/><rect x="469" y="410" width="3.3" height="3.3" fill="#cd38a2"/><rect x="472" y="410" width="3.3" height="3.3" fill="#d5359f"/><rect x="475" y="410" width="3.3" height="3.3" fill="#dc339b"/><rect x="478" y="410" width="3.3" height="3.3" fill="#e13196"/><rect x="481" y="410" width="3.3" height="3.3" fill="#e43090"/><rect x="484" y="410" width="3.3" height="3.3" fill="#e82f89"/><rect x="487" y="410" width="3.3" height="3.3" fill="#ea2e81"/><rect x="490" y="410" width="3.3" height="3.3" fill="#ec2d7a"/><rect x="493" y="410" width="3.3" height="3.3" fill="#ee2c72"/><rect x="496" y="410" width="3.3" height="3.3" fill="#ef2c6b"/><rect x="499" y="410" width="3.3" height="3.3" fill="#ef2b64"/><rect x="502" y="410" width="3.3" height="3.3" fill="#f02a5e"/><rect x="505" y="410" width="3.3" height="3.3" fill="#f02a58"/><rect x="508" y="410" width="3.3" height="3.3" fill="#f02952"/><rect x="511" y="410" width="3.3" height="3.3" fill="#f0294d"/><rect x="514" y="410" width="3.3" height="3.3" fill="#f02949"/><rect x="517" y="410" width="3.3" height="3.3" fill="#f02845"/><rect x="520" y="410" width="3.3" height="3.3" fill="#f02841"/><rect x="523" y="410" width="3.3" height="3.3" fill="#f0283d"/><rect x="526" y="410" width="3.3" height="3.3" fill="#f02838"/><rect x="529" y="410" width="3.3" height="3.3" fill="#f02833"/><rect x="532" y="410" width="3.3" height="3.3" fill="#f0282e"/><rect x="535" y="410" width="3.3" height="3.3" fill="#f0282b"/><rect x="538" y="410" width="3.3" height="3.3" fill="#f02829"/><rect x="541" y="410" width="3.3" height="3.3" fill="#f02828"/><rect x="358" y="413" width="3.3" height="3.3" fill="#3d8de8"/><rect x="361" y="413" width="3.3" height="3.3" fill="#3d8be8"/><rect x="364" y="413" width="3.3" height="3.3" fill="#3c89e7"/><rect x="367" y="413" width="3.3" height="3.3" fill="#3c87e7"/><rect x="370" y="413" width="3.3" height="3.3" fill="#3b85e7"/><rect x="373" y="413" width="3.3" height="3.3" fill="#3a82e6"/><rect x="376" y="413" width="3.3" height="3.3" fill="#397fe6"/><rect x="379" y="413" width="3.3" height="3.3" fill="#387ae5"/><rect x="382" y="413" width="3.3" height="3.3" fill="#3776e4"/><rect x="385" y="413" width="3.3" height="3.3" fill="#3571e3"/><rect x="388" y="413" width="3.3" height="3.3" fill="#346de2"/><rect x="391" y="413" width="3.3" height="3.3" fill="#3368e1"/><rect x="394" y="413" width="3.3" height="3.3" fill="#3364e1"/><rect x="397" y="413" width="3.3" height="3.3" fill="#3261e0"/><rect x="400" y="413" width="3.3" height="3.3" fill="#325edf"/><rect x="403" y="413" width="3.3" height="3.3" fill="#335bde"/><rect x="406" y="413" width="3.3" height="3.3" fill="#3459dd"/><rect x="409" y="413" width="3.3" height="3.3" fill="#3657db"/><rect x="412" y="413" width="3.3" height="3.3" fill="#3855d9"/><rect x="415" y="413" width="3.3" height="3.3" fill="#3b54d7"/><rect x="418" y="413" width="3.3" height="3.3" fill="#3d52d5"/><rect x="421" y="413" width="3.3" height="3.3" fill="#4051d3"/><rect x="424" y="413" width="3.3" height="3.3" fill="#4350d1"/><rect x="427" y="413" width="3.3" height="3.3" fill="#464fcf"/><rect x="430" y="413" width="3.3" height="3.3" fill="#494ecc"/><rect x="433" y="413" width="3.3" height="3.3" fill="#4e4dca"/><rect x="436" y="413" width="3.3" height="3.3" fill="#554cc7"/><rect x="439" y="413" width="3.3" height="3.3" fill="#5e4bc3"/><rect x="442" y="413" width="3.3" height="3.3" fill="#6a4abe"/><rect x="445" y="413" width="3.3" height="3.3" fill="#764ab9"/><rect x="448" y="413" width="3.3" height="3.3" fill="#8049b5"/><rect x="451" y="413" width="3.3" height="3.3" fill="#8948b3"/><rect x="454" y="413" width="3.3" height="3.3" fill="#9047b0"/><rect x="457" y="413" width="3.3" height="3.3" fill="#9945ae"/><rect x="460" y="413" width="3.3" height="3.3" fill="#a243ac"/><rect x="463" y="413" width="3.3" height="3.3" fill="#ae40aa"/><rect x="466" y="413" width="3.3" height="3.3" fill="#ba3ca7"/><rect x="469" y="413" width="3.3" height="3.3" fill="#c639a4"/><rect x="472" y="413" width="3.3" height="3.3" fill="#d036a1"/><rect x="475" y="413" width="3.3" height="3.3" fill="#d8349d"/><rect x="478" y="413" width="3.3" height="3.3" fill="#dd3299"/><rect x="481" y="413" width="3.3" height="3.3" fill="#e23094"/><rect x="484" y="413" width="3.3" height="3.3" fill="#e62f8d"/><rect x="487" y="413" width="3.3" height="3.3" fill="#e92e86"/><rect x="490" y="413" width="3.3" height="3.3" fill="#eb2d7e"/><rect x="493" y="413" width="3.3" height="3.3" fill="#ed2d76"/><rect x="496" y="413" width="3.3" height="3.3" fill="#ee2c6e"/><rect x="499" y="413" width="3.3" height="3.3" fill="#ef2b67"/><rect x="502" y="413" width="3.3" height="3.3" fill="#ef2b61"/><rect x="505" y="413" width="3.3" height="3.3" fill="#f02a5b"/><rect x="508" y="413" width="3.3" height="3.3" fill="#f02a55"/><rect x="511" y="413" width="3.3" height="3.3" fill="#f02950"/><rect x="514" y="413" width="3.3" height="3.3" fill="#f0294b"/><rect x="517" y="413" width="3.3" height="3.3" fill="#f02847"/><rect x="520" y="413" width="3.3" height="3.3" fill="#f02844"/><rect x="523" y="413" width="3.3" height="3.3" fill="#f02840"/><rect x="526" y="413" width="3.3" height="3.3" fill="#f0283b"/><rect x="529" y="413" width="3.3" height="3.3" fill="#f02836"/><rect x="532" y="413" width="3.3" height="3.3" fill="#f02830"/><rect x="535" y="413" width="3.3" height="3.3" fill="#f0282c"/><rect x="538" y="413" width="3.3" height="3.3" fill="#f0282a"/><rect x="541" y="413" width="3.3" height="3.3" fill="#f02829"/><rect x="358" y="416" width="3.3" height="3.3" fill="#3c89e7"/><rect x="361" y="416" width="3.3" height="3.3" fill="#3c88e7"/><rect x="364" y="416" width="3.3" height="3.3" fill="#3b85e7"/><rect x="367" y="416" width="3.3" height="3.3" fill="#3a83e6"/><rect x="370" y="416" width="3.3" height="3.3" fill="#397fe6"/><rect x="373" y="416" width="3.3" height="3.3" fill="#387be5"/><rect x="376" y="416" width="3.3" height="3.3" fill="#3777e4"/><rect x="379" y="416" width="3.3" height="3.3" fill="#3572e4"/><rect x="382" y="416" width="3.3" height="3.3" fill="#346ee3"/><rect x="385" y="416" width="3.3" height="3.3" fill="#336ae2"/><rect x="388" y="416" width="3.3" height="3.3" fill="#3266e1"/><rect x="391" y="416" width="3.3" height="3.3" fill="#3163e1"/><rect x="394" y="416" width="3.3" height="3.3" fill="#3160e0"/><rect x="397" y="416" width="3.3" height="3.3" fill="#315de0"/><rect x="400" y="416" width="3.3" height="3.3" fill="#315bdf"/><rect x="403" y="416" width="3.3" height="3.3" fill="#3158de"/><rect x="406" y="416" width="3.3" height="3.3" fill="#3256dd"/><rect x="409" y="416" width="3.3" height="3.3" fill="#3454db"/><rect x="412" y="416" width="3.3" height="3.3" fill="#3652d9"/><rect x="415" y="416" width="3.3" height="3.3" fill="#3851d7"/><rect x="418" y="416" width="3.3" height="3.3" fill="#3b4fd5"/><rect x="421" y="416" width="3.3" height="3.3" fill="#3e4ed3"/><rect x="424" y="416" width="3.3" height="3.3" fill="#404dd1"/><rect x="427" y="416" width="3.3" height="3.3" fill="#434ccf"/><rect x="430" y="416" width="3.3" height="3.3" fill="#474ccd"/><rect x="433" y="416" width="3.3" height="3.3" fill="#4b4bca"/><rect x="436" y="416" width="3.3" height="3.3" fill="#514ac8"/><rect x="439" y="416" width="3.3" height="3.3" fill="#594ac4"/><rect x="442" y="416" width="3.3" height="3.3" fill="#6449c0"/><rect x="445" y="416" width="3.3" height="3.3" fill="#6f49bb"/><rect x="448" y="416" width="3.3" height="3.3" fill="#7a48b7"/><rect x="451" y="416" width="3.3" height="3.3" fill="#8448b4"/><rect x="454" y="416" width="3.3" height="3.3" fill="#8c47b1"/><rect x="457" y="416" width="3.3" height="3.3" fill="#9346af"/><rect x="460" y="416" width="3.3" height="3.3" fill="#9c44ad"/><rect x="463" y="416" width="3.3" height="3.3" fill="#a641ab"/><rect x="466" y="416" width="3.3" height="3.3" fill="#b23ea9"/><rect x="469" y="416" width="3.3" height="3.3" fill="#be3aa6"/><rect x="472" y="416" width="3.3" height="3.3" fill="#ca37a3"/><rect x="475" y="416" width="3.3" height="3.3" fill="#d3349f"/><rect x="478" y="416" width="3.3" height="3.3" fill="#da329c"/><rect x="481" y="416" width="3.3" height="3.3" fill="#df3197"/><rect x="484" y="416" width="3.3" height="3.3" fill="#e33092"/><rect x="487" y="416" width="3.3" height="3.3" fill="#e72f8b"/><rect x="490" y="416" width="3.3" height="3.3" fill="#e92e83"/><rect x="493" y="416" width="3.3" height="3.3" fill="#ec2d7b"/><rect x="496" y="416" width="3.3" height="3.3" fill="#ed2c72"/><rect x="499" y="416" width="3.3" height="3.3" fill="#ef2b6b"/><rect x="502" y="416" width="3.3" height="3.3" fill="#ef2b64"/><rect x="505" y="416" width="3.3" height="3.3" fill="#f02a5e"/><rect x="508" y="416" width="3.3" height="3.3" fill="#f02a58"/><rect x="511" y="416" width="3.3" height="3.3" fill="#f02953"/><rect x="514" y="416" width="3.3" height="3.3" fill="#f0294e"/><rect x="517" y="416" width="3.3" height="3.3" fill="#f0294a"/><rect x="520" y="416" width="3.3" height="3.3" fill="#f02846"/><rect x="523" y="416" width="3.3" height="3.3" fill="#f02842"/><rect x="526" y="416" width="3.3" height="3.3" fill="#f0283e"/><rect x="529" y="416" width="3.3" height="3.3" fill="#f02839"/><rect x="532" y="416" width="3.3" height="3.3" fill="#f02833"/><rect x="535" y="416" width="3.3" height="3.3" fill="#f0282e"/><rect x="538" y="416" width="3.3" height="3.3" fill="#f0282b"/><rect x="541" y="416" width="3.3" height="3.3" fill="#f02829"/><rect x="358" y="419" width="3.3" height="3.3" fill="#3b86e7"/><rect x="361" y="419" width="3.3" height="3.3" fill="#3a83e7"/><rect x="364" y="419" width="3.3" height="3.3" fill="#3980e6"/><rect x="367" y="419" width="3.3" height="3.3" fill="#387de5"/><rect x="370" y="419" width="3.3" height="3.3" fill="#3778e5"/><rect x="373" y="419" width="3.3" height="3.3" fill="#3674e4"/><rect x="376" y="419" width="3.3" height="3.3" fill="#346fe3"/><rect x="379" y="419" width="3.3" height="3.3" fill="#336be2"/><rect x="382" y="419" width="3.3" height="3.3" fill="#3267e2"/><rect x="385" y="419" width="3.3" height="3.3" fill="#3164e1"/><rect x="388" y="419" width="3.3" height="3.3" fill="#3161e1"/><rect x="391" y="419" width="3.3" height="3.3" fill="#305ee0"/><rect x="394" y="419" width="3.3" height="3.3" fill="#305ce0"/><rect x="397" y="419" width="3.3" height="3.3" fill="#305ae0"/><rect x="400" y="419" width="3.3" height="3.3" fill="#3058df"/><rect x="403" y="419" width="3.3" height="3.3" fill="#3056de"/><rect x="406" y="419" width="3.3" height="3.3" fill="#3154dd"/><rect x="409" y="419" width="3.3" height="3.3" fill="#3352db"/><rect x="412" y="419" width="3.3" height="3.3" fill="#3450d9"/><rect x="415" y="419" width="3.3" height="3.3" fill="#374ed7"/><rect x="418" y="419" width="3.3" height="3.3" fill="#394dd5"/><rect x="421" y="419" width="3.3" height="3.3" fill="#3c4cd3"/><rect x="424" y="419" width="3.3" height="3.3" fill="#3f4bd1"/><rect x="427" y="419" width="3.3" height="3.3" fill="#424acf"/><rect x="430" y="419" width="3.3" height="3.3" fill="#454acd"/><rect x="433" y="419" width="3.3" height="3.3" fill="#494acb"/><rect x="436" y="419" width="3.3" height="3.3" fill="#4e49c8"/><rect x="439" y="419" width="3.3" height="3.3" fill="#5549c5"/><rect x="442" y="419" width="3.3" height="3.3" fill="#5e49c2"/><rect x="445" y="419" width="3.3" height="3.3" fill="#6a48bd"/><rect x="448" y="419" width="3.3" height="3.3" fill="#7548b9"/><rect x="451" y="419" width="3.3" height="3.3" fill="#7f48b5"/><rect x="454" y="419" width="3.3" height="3.3" fill="#8747b2"/><rect x="457" y="419" width="3.3" height="3.3" fill="#8e46b0"/><rect x="460" y="419" width="3.3" height="3.3" fill="#9645ae"/><rect x="463" y="419" width="3.3" height="3.3" fill="#9f42ac"/><rect x="466" y="419" width="3.3" height="3.3" fill="#aa3faa"/><rect x="469" y="419" width="3.3" height="3.3" fill="#b63ca7"/><rect x="472" y="419" width="3.3" height="3.3" fill="#c339a5"/><rect x="475" y="419" width="3.3" height="3.3" fill="#cd36a1"/><rect x="478" y="419" width="3.3" height="3.3" fill="#d6339e"/><rect x="481" y="419" width="3.3" height="3.3" fill="#dc329a"/><rect x="484" y="419" width="3.3" height="3.3" fill="#e13095"/><rect x="487" y="419" width="3.3" height="3.3" fill="#e42f8f"/><rect x="490" y="419" width="3.3" height="3.3" fill="#e82e88"/><rect x="493" y="419" width="3.3" height="3.3" fill="#ea2d7f"/><rect x="496" y="419" width="3.3" height="3.3" fill="#ec2c77"/><rect x="499" y="419" width="3.3" height="3.3" fill="#ee2c6f"/><rect x="502" y="419" width="3.3" height="3.3" fill="#ef2b68"/><rect x="505" y="419" width="3.3" height="3.3" fill="#ef2b61"/><rect x="508" y="419" width="3.3" height="3.3" fill="#f02a5b"/><rect x="511" y="419" width="3.3" height="3.3" fill="#f02a55"/><rect x="514" y="419" width="3.3" height="3.3" fill="#f02950"/><rect x="517" y="419" width="3.3" height="3.3" fill="#f0294c"/><rect x="520" y="419" width="3.3" height="3.3" fill="#f02948"/><rect x="523" y="419" width="3.3" height="3.3" fill="#f02845"/><rect x="526" y="419" width="3.3" height="3.3" fill="#f02841"/><rect x="529" y="419" width="3.3" height="3.3" fill="#f0283c"/><rect x="532" y="419" width="3.3" height="3.3" fill="#f02837"/><rect x="535" y="419" width="3.3" height="3.3" fill="#f02831"/><rect x="538" y="419" width="3.3" height="3.3" fill="#f0282c"/><rect x="541" y="419" width="3.3" height="3.3" fill="#f0282a"/><rect x="358" y="422" width="3.3" height="3.3" fill="#3a81e6"/><rect x="361" y="422" width="3.3" height="3.3" fill="#397ee6"/><rect x="364" y="422" width="3.3" height="3.3" fill="#377ae5"/><rect x="367" y="422" width="3.3" height="3.3" fill="#3675e4"/><rect x="370" y="422" width="3.3" height="3.3" fill="#3571e3"/><rect x="373" y="422" width="3.3" height="3.3" fill="#346ce3"/><rect x="376" y="422" width="3.3" height="3.3" fill="#3268e2"/><rect x="379" y="422" width="3.3" height="3.3" fill="#3165e1"/><rect x="382" y="422" width="3.3" height="3.3" fill="#3162e1"/><rect x="385" y="422" width="3.3" height="3.3" fill="#305fe1"/><rect x="388" y="422" width="3.3" height="3.3" fill="#2f5de0"/><rect x="391" y="422" width="3.3" height="3.3" fill="#2f5be0"/><rect x="394" y="422" width="3.3" height="3.3" fill="#2f59e0"/><rect x="397" y="422" width="3.3" height="3.3" fill="#2f57e0"/><rect x="400" y="422" width="3.3" height="3.3" fill="#2f55df"/><rect x="403" y="422" width="3.3" height="3.3" fill="#2f54de"/><rect x="406" y="422" width="3.3" height="3.3" fill="#3052dd"/><rect x="409" y="422" width="3.3" height="3.3" fill="#3150dc"/><rect x="412" y="422" width="3.3" height="3.3" fill="#334eda"/><rect x="415" y="422" width="3.3" height="3.3" fill="#354cd7"/><rect x="418" y="422" width="3.3" height="3.3" fill="#384bd5"/><rect x="421" y="422" width="3.3" height="3.3" fill="#3a4ad3"/><rect x="424" y="422" width="3.3" height="3.3" fill="#3d49d1"/><rect x="427" y="422" width="3.3" height="3.3" fill="#4049cf"/><rect x="430" y="422" width="3.3" height="3.3" fill="#4349cd"/><rect x="433" y="422" width="3.3" height="3.3" fill="#4749cb"/><rect x="436" y="422" width="3.3" height="3.3" fill="#4b48c9"/><rect x="439" y="422" width="3.3" height="3.3" fill="#5148c7"/><rect x="442" y="422" width="3.3" height="3.3" fill="#5948c3"/><rect x="445" y="422" width="3.3" height="3.3" fill="#6448bf"/><rect x="448" y="422" width="3.3" height="3.3" fill="#6f48bb"/><rect x="451" y="422" width="3.3" height="3.3" fill="#7a48b7"/><rect x="454" y="422" width="3.3" height="3.3" fill="#8347b4"/><rect x="457" y="422" width="3.3" height="3.3" fill="#8a47b1"/><rect x="460" y="422" width="3.3" height="3.3" fill="#9145af"/><rect x="463" y="422" width="3.3" height="3.3" fill="#9944ae"/><rect x="466" y="422" width="3.3" height="3.3" fill="#a341ab"/><rect x="469" y="422" width="3.3" height="3.3" fill="#af3ea9"/><rect x="472" y="422" width="3.3" height="3.3" fill="#bb3ba6"/><rect x="475" y="422" width="3.3" height="3.3" fill="#c737a3"/><rect x="478" y="422" width="3.3" height="3.3" fill="#d135a0"/><rect x="481" y="422" width="3.3" height="3.3" fill="#d8339d"/><rect x="484" y="422" width="3.3" height="3.3" fill="#de3199"/><rect x="487" y="422" width="3.3" height="3.3" fill="#e23093"/><rect x="490" y="422" width="3.3" height="3.3" fill="#e62f8c"/><rect x="493" y="422" width="3.3" height="3.3" fill="#e92e84"/><rect x="496" y="422" width="3.3" height="3.3" fill="#eb2d7c"/><rect x="499" y="422" width="3.3" height="3.3" fill="#ed2c73"/><rect x="502" y="422" width="3.3" height="3.3" fill="#ee2b6b"/><rect x="505" y="422" width="3.3" height="3.3" fill="#ef2b64"/><rect x="508" y="422" width="3.3" height="3.3" fill="#f02a5e"/><rect x="511" y="422" width="3.3" height="3.3" fill="#f02a58"/><rect x="514" y="422" width="3.3" height="3.3" fill="#f02953"/><rect x="517" y="422" width="3.3" height="3.3" fill="#f0294e"/><rect x="520" y="422" width="3.3" height="3.3" fill="#f0294a"/><rect x="523" y="422" width="3.3" height="3.3" fill="#f02847"/><rect x="526" y="422" width="3.3" height="3.3" fill="#f02843"/><rect x="529" y="422" width="3.3" height="3.3" fill="#f0283f"/><rect x="532" y="422" width="3.3" height="3.3" fill="#f0283a"/><rect x="535" y="422" width="3.3" height="3.3" fill="#f02834"/><rect x="538" y="422" width="3.3" height="3.3" fill="#f0282e"/><rect x="541" y="422" width="3.3" height="3.3" fill="#f0292b"/><rect x="358" y="425" width="3.3" height="3.3" fill="#387be5"/><rect x="361" y="425" width="3.3" height="3.3" fill="#3677e4"/><rect x="364" y="425" width="3.3" height="3.3" fill="#3572e4"/><rect x="367" y="425" width="3.3" height="3.3" fill="#346de3"/><rect x="370" y="425" width="3.3" height="3.3" fill="#3369e2"/><rect x="373" y="425" width="3.3" height="3.3" fill="#3265e1"/><rect x="376" y="425" width="3.3" height="3.3" fill="#3162e1"/><rect x="379" y="425" width="3.3" height="3.3" fill="#3060e1"/><rect x="382" y="425" width="3.3" height="3.3" fill="#2f5de0"/><rect x="385" y="425" width="3.3" height="3.3" fill="#2f5be0"/><rect x="388" y="425" width="3.3" height="3.3" fill="#2f5ae0"/><rect x="391" y="425" width="3.3" height="3.3" fill="#2e58e0"/><rect x="394" y="425" width="3.3" height="3.3" fill="#2e56e0"/><rect x="397" y="425" width="3.3" height="3.3" fill="#2e55e0"/><rect x="400" y="425" width="3.3" height="3.3" fill="#2e53df"/><rect x="403" y="425" width="3.3" height="3.3" fill="#2e51de"/><rect x="406" y="425" width="3.3" height="3.3" fill="#2f50dd"/><rect x="409" y="425" width="3.3" height="3.3" fill="#304edc"/><rect x="412" y="425" width="3.3" height="3.3" fill="#324cda"/><rect x="415" y="425" width="3.3" height="3.3" fill="#344bd8"/><rect x="418" y="425" width="3.3" height="3.3" fill="#364ad6"/><rect x="421" y="425" width="3.3" height="3.3" fill="#3949d4"/><rect x="424" y="425" width="3.3" height="3.3" fill="#3c48d2"/><rect x="427" y="425" width="3.3" height="3.3" fill="#3f48d0"/><rect x="430" y="425" width="3.3" height="3.3" fill="#4248ce"/><rect x="433" y="425" width="3.3" height="3.3" fill="#4548cc"/><rect x="436" y="425" width="3.3" height="3.3" fill="#4948ca"/><rect x="439" y="425" width="3.3" height="3.3" fill="#4e48c8"/><rect x="442" y="425" width="3.3" height="3.3" fill="#5548c5"/><rect x="445" y="425" width="3.3" height="3.3" fill="#5e48c1"/><rect x="448" y="425" width="3.3" height="3.3" fill="#6948bd"/><rect x="451" y="425" width="3.3" height="3.3" fill="#7448b9"/><rect x="454" y="425" width="3.3" height="3.3" fill="#7e47b5"/><rect x="457" y="425" width="3.3" height="3.3" fill="#8647b2"/><rect x="460" y="425" width="3.3" height="3.3" fill="#8d46b0"/><rect x="463" y="425" width="3.3" height="3.3" fill="#9445af"/><rect x="466" y="425" width="3.3" height="3.3" fill="#9d43ad"/><rect x="469" y="425" width="3.3" height="3.3" fill="#a840aa"/><rect x="472" y="425" width="3.3" height="3.3" fill="#b43da8"/><rect x="475" y="425" width="3.3" height="3.3" fill="#c039a5"/><rect x="478" y="425" width="3.3" height="3.3" fill="#cb36a2"/><rect x="481" y="425" width="3.3" height="3.3" fill="#d4349f"/><rect x="484" y="425" width="3.3" height="3.3" fill="#da329b"/><rect x="487" y="425" width="3.3" height="3.3" fill="#df3097"/><rect x="490" y="425" width="3.3" height="3.3" fill="#e32f91"/><rect x="493" y="425" width="3.3" height="3.3" fill="#e72e89"/><rect x="496" y="425" width="3.3" height="3.3" fill="#ea2d81"/><rect x="499" y="425" width="3.3" height="3.3" fill="#ec2d78"/><rect x="502" y="425" width="3.3" height="3.3" fill="#ee2c6f"/><rect x="505" y="425" width="3.3" height="3.3" fill="#ef2b68"/><rect x="508" y="425" width="3.3" height="3.3" fill="#ef2b61"/><rect x="511" y="425" width="3.3" height="3.3" fill="#f02a5b"/><rect x="514" y="425" width="3.3" height="3.3" fill="#f02a56"/><rect x="517" y="425" width="3.3" height="3.3" fill="#f02951"/><rect x="520" y="425" width="3.3" height="3.3" fill="#f0294d"/><rect x="523" y="425" width="3.3" height="3.3" fill="#f02949"/><rect x="526" y="425" width="3.3" height="3.3" fill="#f02846"/><rect x="529" y="425" width="3.3" height="3.3" fill="#f02842"/><rect x="532" y="425" width="3.3" height="3.3" fill="#f0283e"/><rect x="535" y="425" width="3.3" height="3.3" fill="#ef2938"/><rect x="538" y="425" width="3.3" height="3.3" fill="#ef2a33"/><rect x="541" y="425" width="3.3" height="3.3" fill="#ee2d30"/><rect x="358" y="428" width="3.3" height="3.3" fill="#3673e4"/><rect x="361" y="428" width="3.3" height="3.3" fill="#346fe3"/><rect x="364" y="428" width="3.3" height="3.3" fill="#336ae2"/><rect x="367" y="428" width="3.3" height="3.3" fill="#3266e2"/><rect x="370" y="428" width="3.3" height="3.3" fill="#3163e1"/><rect x="373" y="428" width="3.3" height="3.3" fill="#3060e1"/><rect x="376" y="428" width="3.3" height="3.3" fill="#305ee1"/><rect x="379" y="428" width="3.3" height="3.3" fill="#2f5ce0"/><rect x="382" y="428" width="3.3" height="3.3" fill="#2f5ae0"/><rect x="385" y="428" width="3.3" height="3.3" fill="#2e58e0"/><rect x="388" y="428" width="3.3" height="3.3" fill="#2e57e0"/><rect x="391" y="428" width="3.3" height="3.3" fill="#2d55e0"/><rect x="394" y="428" width="3.3" height="3.3" fill="#2d53e0"/><rect x="397" y="428" width="3.3" height="3.3" fill="#2d52e0"/><rect x="400" y="428" width="3.3" height="3.3" fill="#2d50df"/><rect x="403" y="428" width="3.3" height="3.3" fill="#2d4fdf"/><rect x="406" y="428" width="3.3" height="3.3" fill="#2e4ede"/><rect x="409" y="428" width="3.3" height="3.3" fill="#2f4cdc"/><rect x="412" y="428" width="3.3" height="3.3" fill="#304bdb"/><rect x="415" y="428" width="3.3" height="3.3" fill="#334ad9"/><rect x="418" y="428" width="3.3" height="3.3" fill="#3549d6"/><rect x="421" y="428" width="3.3" height="3.3" fill="#3848d4"/><rect x="424" y="428" width="3.3" height="3.3" fill="#3a47d2"/><rect x="427" y="428" width="3.3" height="3.3" fill="#3d47d0"/><rect x="430" y="428" width="3.3" height="3.3" fill="#4147ce"/><rect x="433" y="428" width="3.3" height="3.3" fill="#4447cd"/><rect x="436" y="428" width="3.3" height="3.3" fill="#4747cb"/><rect x="439" y="428" width="3.3" height="3.3" fill="#4c48c9"/><rect x="442" y="428" width="3.3" height="3.3" fill="#5248c6"/><rect x="445" y="428" width="3.3" height="3.3" fill="#5a48c3"/><rect x="448" y="428" width="3.3" height="3.3" fill="#6448bf"/><rect x="451" y="428" width="3.3" height="3.3" fill="#6f48bb"/><rect x="454" y="428" width="3.3" height="3.3" fill="#7948b7"/><rect x="457" y="428" width="3.3" height="3.3" fill="#8247b4"/><rect x="460" y="428" width="3.3" height="3.3" fill="#8947b1"/><rect x="463" y="428" width="3.3" height="3.3" fill="#9045b0"/><rect x="466" y="428" width="3.3" height="3.3" fill="#9844ae"/><rect x="469" y="428" width="3.3" height="3.3" fill="#a141ac"/><rect x="472" y="428" width="3.3" height="3.3" fill="#ac3eaa"/><rect x="475" y="428" width="3.3" height="3.3" fill="#b83ba7"/><rect x="478" y="428" width="3.3" height="3.3" fill="#c438a4"/><rect x="481" y="428" width="3.3" height="3.3" fill="#cf35a1"/><rect x="484" y="428" width="3.3" height="3.3" fill="#d6339e"/><rect x="487" y="428" width="3.3" height="3.3" fill="#dc319a"/><rect x="490" y="428" width="3.3" height="3.3" fill="#e13095"/><rect x="493" y="428" width="3.3" height="3.3" fill="#e52f8e"/><rect x="496" y="428" width="3.3" height="3.3" fill="#e82e86"/><rect x="499" y="428" width="3.3" height="3.3" fill="#eb2d7d"/><rect x="502" y="428" width="3.3" height="3.3" fill="#ed2c74"/><rect x="505" y="428" width="3.3" height="3.3" fill="#ee2b6c"/><rect x="508" y="428" width="3.3" height="3.3" fill="#ef2b65"/><rect x="511" y="428" width="3.3" height="3.3" fill="#ef2a5e"/><rect x="514" y="428" width="3.3" height="3.3" fill="#f02a58"/><rect x="517" y="428" width="3.3" height="3.3" fill="#f02953"/><rect x="520" y="428" width="3.3" height="3.3" fill="#f0294f"/><rect x="523" y="428" width="3.3" height="3.3" fill="#f0294b"/><rect x="526" y="428" width="3.3" height="3.3" fill="#f02948"/><rect x="529" y="428" width="3.3" height="3.3" fill="#f02945"/><rect x="532" y="428" width="3.3" height="3.3" fill="#ef2a42"/><rect x="535" y="428" width="3.3" height="3.3" fill="#ed2e3f"/><rect x="538" y="428" width="3.3" height="3.3" fill="#e93740"/><rect x="541" y="428" width="3.3" height="3.3" fill="#e24746"/><rect x="358" y="431" width="3.3" height="3.3" fill="#336ce2"/><rect x="361" y="431" width="3.3" height="3.3" fill="#3267e2"/><rect x="364" y="431" width="3.3" height="3.3" fill="#3164e1"/><rect x="367" y="431" width="3.3" height="3.3" fill="#3061e1"/><rect x="370" y="431" width="3.3" height="3.3" fill="#305ee1"/><rect x="373" y="431" width="3.3" height="3.3" fill="#2f5ce0"/><rect x="376" y="431" width="3.3" height="3.3" fill="#2f5ae0"/><rect x="379" y="431" width="3.3" height="3.3" fill="#2e58e0"/><rect x="382" y="431" width="3.3" height="3.3" fill="#2e57e0"/><rect x="385" y="431" width="3.3" height="3.3" fill="#2d55e0"/><rect x="388" y="431" width="3.3" height="3.3" fill="#2d54e0"/><rect x="391" y="431" width="3.3" height="3.3" fill="#2d52e0"/><rect x="394" y="431" width="3.3" height="3.3" fill="#2c51e0"/><rect x="397" y="431" width="3.3" height="3.3" fill="#2c4fe0"/><rect x="400" y="431" width="3.3" height="3.3" fill="#2c4edf"/><rect x="403" y="431" width="3.3" height="3.3" fill="#2c4ddf"/><rect x="406" y="431" width="3.3" height="3.3" fill="#2d4cde"/><rect x="409" y="431" width="3.3" height="3.3" fill="#2e4bdd"/><rect x="412" y="431" width="3.3" height="3.3" fill="#2f4adb"/><rect x="415" y="431" width="3.3" height="3.3" fill="#3149d9"/><rect x="418" y="431" width="3.3" height="3.3" fill="#3448d7"/><rect x="421" y="431" width="3.3" height="3.3" fill="#3647d5"/><rect x="424" y="431" width="3.3" height="3.3" fill="#3947d3"/><rect x="427" y="431" width="3.3" height="3.3" fill="#3c47d1"/><rect x="430" y="431" width="3.3" height="3.3" fill="#3f47cf"/><rect x="433" y="431" width="3.3" height="3.3" fill="#4247cd"/><rect x="436" y="431" width="3.3" height="3.3" fill="#4647cc"/><rect x="439" y="431" width="3.3" height="3.3" fill="#4a47ca"/><rect x="442" y="431" width="3.3" height="3.3" fill="#4f48c8"/><rect x="445" y="431" width="3.3" height="3.3" fill="#5548c5"/><rect x="448" y="431" width="3.3" height="3.3" fill="#5e48c1"/><rect x="451" y="431" width="3.3" height="3.3" fill="#6948bd"/><rect x="454" y="431" width="3.3" height="3.3" fill="#7448b9"/><rect x="457" y="431" width="3.3" height="3.3" fill="#7e47b5"/><rect x="460" y="431" width="3.3" height="3.3" fill="#8547b3"/><rect x="463" y="431" width="3.3" height="3.3" fill="#8c46b1"/><rect x="466" y="431" width="3.3" height="3.3" fill="#9345af"/><rect x="469" y="431" width="3.3" height="3.3" fill="#9b43ad"/><rect x="472" y="431" width="3.3" height="3.3" fill="#a540ab"/><rect x="475" y="431" width="3.3" height="3.3" fill="#b13da8"/><rect x="478" y="431" width="3.3" height="3.3" fill="#bd3aa6"/><rect x="481" y="431" width="3.3" height="3.3" fill="#c937a3"/><rect x="484" y="431" width="3.3" height="3.3" fill="#d234a0"/><rect x="487" y="431" width="3.3" height="3.3" fill="#d9329c"/><rect x="490" y="431" width="3.3" height="3.3" fill="#de3198"/><rect x="493" y="431" width="3.3" height="3.3" fill="#e22f92"/><rect x="496" y="431" width="3.3" height="3.3" fill="#e62e8b"/><rect x="499" y="431" width="3.3" height="3.3" fill="#e92d82"/><rect x="502" y="431" width="3.3" height="3.3" fill="#ec2d79"/><rect x="505" y="431" width="3.3" height="3.3" fill="#ed2c70"/><rect x="508" y="431" width="3.3" height="3.3" fill="#ef2b68"/><rect x="511" y="431" width="3.3" height="3.3" fill="#ef2b61"/><rect x="514" y="431" width="3.3" height="3.3" fill="#f02a5b"/><rect x="517" y="431" width="3.3" height="3.3" fill="#f02a56"/><rect x="520" y="431" width="3.3" height="3.3" fill="#f02951"/><rect x="523" y="431" width="3.3" height="3.3" fill="#f0294d"/><rect x="526" y="431" width="3.3" height="3.3" fill="#ef2a4a"/><rect x="529" y="431" width="3.3" height="3.3" fill="#ee2c48"/><rect x="532" y="431" width="3.3" height="3.3" fill="#eb3349"/><rect x="535" y="431" width="3.3" height="3.3" fill="#e34652"/><rect x="538" y="431" width="3.3" height="3.3" fill="#d36765"/><rect x="541" y="431" width="3.3" height="3.3" fill="#c48779"/><rect x="358" y="434" width="3.3" height="3.3" fill="#3165e1"/><rect x="361" y="434" width="3.3" height="3.3" fill="#3162e1"/><rect x="364" y="434" width="3.3" height="3.3" fill="#305fe1"/><rect x="367" y="434" width="3.3" height="3.3" fill="#2f5de0"/><rect x="370" y="434" width="3.3" height="3.3" fill="#2f5be0"/><rect x="373" y="434" width="3.3" height="3.3" fill="#2e59e0"/><rect x="376" y="434" width="3.3" height="3.3" fill="#2e57e0"/><rect x="379" y="434" width="3.3" height="3.3" fill="#2d55e0"/><rect x="382" y="434" width="3.3" height="3.3" fill="#2d54e0"/><rect x="385" y="434" width="3.3" height="3.3" fill="#2d52e0"/><rect x="388" y="434" width="3.3" height="3.3" fill="#2c51e0"/><rect x="391" y="434" width="3.3" height="3.3" fill="#2c4fe0"/><rect x="394" y="434" width="3.3" height="3.3" fill="#2c4ee0"/><rect x="397" y="434" width="3.3" height="3.3" fill="#2c4de0"/><rect x="400" y="434" width="3.3" height="3.3" fill="#2c4ce0"/><rect x="403" y="434" width="3.3" height="3.3" fill="#2c4bdf"/><rect x="406" y="434" width="3.3" height="3.3" fill="#2c4bdf"/><rect x="409" y="434" width="3.3" height="3.3" fill="#2d4ade"/><rect x="412" y="434" width="3.3" height="3.3" fill="#2e49dc"/><rect x="415" y="434" width="3.3" height="3.3" fill="#3048da"/><rect x="418" y="434" width="3.3" height="3.3" fill="#3247d8"/><rect x="421" y="434" width="3.3" height="3.3" fill="#3547d6"/><rect x="424" y="434" width="3.3" height="3.3" fill="#3846d4"/><rect x="427" y="434" width="3.3" height="3.3" fill="#3b46d2"/><rect x="430" y="434" width="3.3" height="3.3" fill="#3e46d0"/><rect x="433" y="434" width="3.3" height="3.3" fill="#4147ce"/><rect x="436" y="434" width="3.3" height="3.3" fill="#4447cc"/><rect x="439" y="434" width="3.3" height="3.3" fill="#4847cb"/><rect x="442" y="434" width="3.3" height="3.3" fill="#4c47c9"/><rect x="445" y="434" width="3.3" height="3.3" fill="#5248c6"/><rect x="448" y="434" width="3.3" height="3.3" fill="#5948c3"/><rect x="451" y="434" width="3.3" height="3.3" fill="#6348bf"/><rect x="454" y="434" width="3.3" height="3.3" fill="#6e48bb"/><rect x="457" y="434" width="3.3" height="3.3" fill="#7948b7"/><rect x="460" y="434" width="3.3" height="3.3" fill="#8147b4"/><rect x="463" y="434" width="3.3" height="3.3" fill="#8847b2"/><rect x="466" y="434" width="3.3" height="3.3" fill="#8f46b0"/><rect x="469" y="434" width="3.3" height="3.3" fill="#9644ae"/><rect x="472" y="434" width="3.3" height="3.3" fill="#9f42ac"/><rect x="475" y="434" width="3.3" height="3.3" fill="#aa3faa"/><rect x="478" y="434" width="3.3" height="3.3" fill="#b63ca7"/><rect x="481" y="434" width="3.3" height="3.3" fill="#c238a5"/><rect x="484" y="434" width="3.3" height="3.3" fill="#cd35a2"/><rect x="487" y="434" width="3.3" height="3.3" fill="#d5339f"/><rect x="490" y="434" width="3.3" height="3.3" fill="#db319b"/><rect x="493" y="434" width="3.3" height="3.3" fill="#e03096"/><rect x="496" y="434" width="3.3" height="3.3" fill="#e42f8f"/><rect x="499" y="434" width="3.3" height="3.3" fill="#e72e87"/><rect x="502" y="434" width="3.3" height="3.3" fill="#ea2d7e"/><rect x="505" y="434" width="3.3" height="3.3" fill="#ec2c75"/><rect x="508" y="434" width="3.3" height="3.3" fill="#ee2b6d"/><rect x="511" y="434" width="3.3" height="3.3" fill="#ef2b65"/><rect x="514" y="434" width="3.3" height="3.3" fill="#ef2a5f"/><rect x="517" y="434" width="3.3" height="3.3" fill="#f02a59"/><rect x="520" y="434" width="3.3" height="3.3" fill="#f02a54"/><rect x="523" y="434" width="3.3" height="3.3" fill="#ef2b50"/><rect x="526" y="434" width="3.3" height="3.3" fill="#ed2f4f"/><rect x="529" y="434" width="3.3" height="3.3" fill="#e83a52"/><rect x="532" y="434" width="3.3" height="3.3" fill="#db5561"/><rect x="535" y="434" width="3.3" height="3.3" fill="#c87f79"/><rect x="538" y="434" width="3.3" height="3.3" fill="#ba9e8c"/><rect x="541" y="434" width="3.3" height="3.3" fill="#b4ab94"/><rect x="358" y="437" width="3.3" height="3.3" fill="#305fe1"/><rect x="361" y="437" width="3.3" height="3.3" fill="#2f5de1"/><rect x="364" y="437" width="3.3" height="3.3" fill="#2f5be0"/><rect x="367" y="437" width="3.3" height="3.3" fill="#2e59e0"/><rect x="370" y="437" width="3.3" height="3.3" fill="#2e57e0"/><rect x="373" y="437" width="3.3" height="3.3" fill="#2d55e0"/><rect x="376" y="437" width="3.3" height="3.3" fill="#2d54e0"/><rect x="379" y="437" width="3.3" height="3.3" fill="#2d52e0"/><rect x="382" y="437" width="3.3" height="3.3" fill="#2c51e0"/><rect x="385" y="437" width="3.3" height="3.3" fill="#2c50e0"/><rect x="388" y="437" width="3.3" height="3.3" fill="#2c4ee0"/><rect x="391" y="437" width="3.3" height="3.3" fill="#2b4de0"/><rect x="394" y="437" width="3.3" height="3.3" fill="#2b4ce0"/><rect x="397" y="437" width="3.3" height="3.3" fill="#2b4ce0"/><rect x="400" y="437" width="3.3" height="3.3" fill="#2b4be0"/><rect x="403" y="437" width="3.3" height="3.3" fill="#2b4adf"/><rect x="406" y="437" width="3.3" height="3.3" fill="#2b4adf"/><rect x="409" y="437" width="3.3" height="3.3" fill="#2c49de"/><rect x="412" y="437" width="3.3" height="3.3" fill="#2d49dd"/><rect x="415" y="437" width="3.3" height="3.3" fill="#2e48dc"/><rect x="418" y="437" width="3.3" height="3.3" fill="#3147da"/><rect x="421" y="437" width="3.3" height="3.3" fill="#3347d7"/><rect x="424" y="437" width="3.3" height="3.3" fill="#3646d5"/><rect x="427" y="437" width="3.3" height="3.3" fill="#3946d3"/><rect x="430" y="437" width="3.3" height="3.3" fill="#3c46d1"/><rect x="433" y="437" width="3.3" height="3.3" fill="#3f46cf"/><rect x="436" y="437" width="3.3" height="3.3" fill="#4347cd"/><rect x="439" y="437" width="3.3" height="3.3" fill="#4647cb"/><rect x="442" y="437" width="3.3" height="3.3" fill="#4a47ca"/><rect x="445" y="437" width="3.3" height="3.3" fill="#4f47c7"/><rect x="448" y="437" width="3.3" height="3.3" fill="#5548c5"/><rect x="451" y="437" width="3.3" height="3.3" fill="#5e48c1"/><rect x="454" y="437" width="3.3" height="3.3" fill="#6948bd"/><rect x="457" y="437" width="3.3" height="3.3" fill="#7348b9"/><rect x="460" y="437" width="3.3" height="3.3" fill="#7d47b5"/><rect x="463" y="437" width="3.3" height="3.3" fill="#8547b3"/><rect x="466" y="437" width="3.3" height="3.3" fill="#8b46b1"/><rect x="469" y="437" width="3.3" height="3.3" fill="#9245af"/><rect x="472" y="437" width="3.3" height="3.3" fill="#9a43ad"/><rect x="475" y="437" width="3.3" height="3.3" fill="#a341ab"/><rect x="478" y="437" width="3.3" height="3.3" fill="#af3ea9"/><rect x="481" y="437" width="3.3" height="3.3" fill="#bb3aa6"/><rect x="484" y="437" width="3.3" height="3.3" fill="#c637a4"/><rect x="487" y="437" width="3.3" height="3.3" fill="#d034a1"/><rect x="490" y="437" width="3.3" height="3.3" fill="#d8329d"/><rect x="493" y="437" width="3.3" height="3.3" fill="#dd3199"/><rect x="496" y="437" width="3.3" height="3.3" fill="#e23094"/><rect x="499" y="437" width="3.3" height="3.3" fill="#e52f8c"/><rect x="502" y="437" width="3.3" height="3.3" fill="#e82e84"/><rect x="505" y="437" width="3.3" height="3.3" fill="#eb2d7a"/><rect x="508" y="437" width="3.3" height="3.3" fill="#ed2c71"/><rect x="511" y="437" width="3.3" height="3.3" fill="#ee2b69"/><rect x="514" y="437" width="3.3" height="3.3" fill="#ef2b62"/><rect x="517" y="437" width="3.3" height="3.3" fill="#ef2c5d"/><rect x="520" y="437" width="3.3" height="3.3" fill="#ee2e59"/><rect x="523" y="437" width="3.3" height="3.3" fill="#ea3558"/><rect x="526" y="437" width="3.3" height="3.3" fill="#e2475e"/><rect x="529" y="437" width="3.3" height="3.3" fill="#d26a70"/><rect x="532" y="437" width="3.3" height="3.3" fill="#c09186"/><rect x="535" y="437" width="3.3" height="3.3" fill="#b6a793"/><rect x="538" y="437" width="3.3" height="3.3" fill="#b2af97"/><rect x="541" y="437" width="3.3" height="3.3" fill="#b1b199"/></g><path d="M402.5,436 L492,397" stroke="#0a0c30" stroke-width="3.2" opacity="0.9" filter="url(#bl2)"/></g>
<path d="M400.82,434.91L399.27,436.88M399.71,433.97L398.08,435.87M397.85,432.43L396.24,434.34M394.75,429.61L392.93,431.33M389.84,423.01L387.68,424.26M381.92,405.77L379.58,406.65M370.89,368.60L368.45,369.14M361.97,312.92L359.48,313.13M363.35,264.28L360.92,263.71M378.61,244.44L378.17,241.98M398.51,250.91L399.70,248.71M416.57,262.77L418.06,260.77M433.86,276.96L435.50,275.08M451.00,292.46L452.70,290.62M468.00,308.39L469.72,306.57M484.38,323.93L486.10,322.12M499.39,338.17L501.11,336.36M511.79,349.97L513.51,348.16M521.08,358.76L522.80,356.94M527.23,364.62L528.95,362.81M531.16,368.34L532.89,366.53M533.81,370.87L535.53,369.05" stroke="#d8dcdc" stroke-width="0.6" opacity="0.8"/>
<path d="M481.80,328.30 H487.00 M484.40,325.70 V330.90" stroke="#111" stroke-width="0.9"/>
<text x="470.8" y="318.9" font-size="8.4" font-weight="bold" fill="#e8207a" text-anchor="middle" letter-spacing="-0.55">(0.51, 0.47)</text>
<path d="M455.50,339.90 H460.70 M458.10,337.30 V342.50" stroke="#111" stroke-width="0.9"/>
<text x="453.4" y="335.2" font-size="8.4" font-weight="bold" fill="#e8207a" text-anchor="middle" letter-spacing="-0.55">(0.40, 0.41)</text>
<path d="M434.90,351.20 H440.10 M437.50,348.60 V353.80" stroke="#111" stroke-width="0.9"/>
<text x="435.6" y="361.4" font-size="8.4" font-weight="bold" fill="#e8207a" text-anchor="middle" letter-spacing="-0.55">(0.31, 0.36)</text>
</svg>
</body></html>
